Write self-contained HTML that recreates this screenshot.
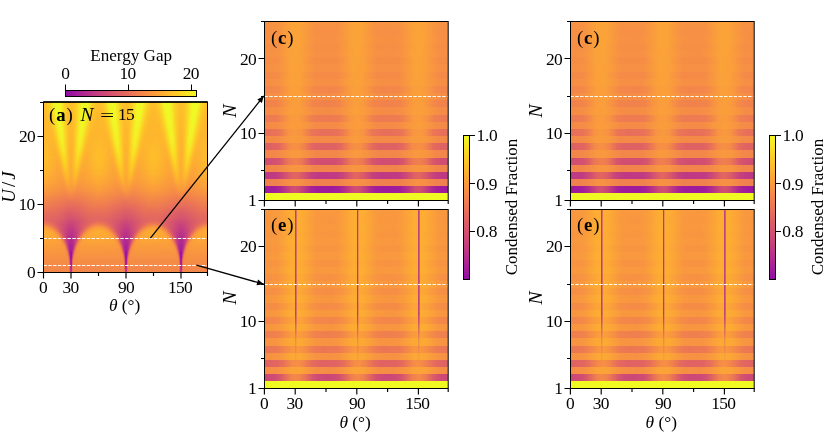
<!DOCTYPE html>
<html><head><meta charset="utf-8"><style>
html,body{margin:0;padding:0;background:#fff;}
#root{position:relative;width:830px;height:437px;overflow:hidden;background:#fff;}
.hm{position:absolute;overflow:hidden;}
.hm i{position:absolute;left:0;right:0;display:block;}
.ov{position:absolute;left:0;top:0;}
.t{position:absolute;font-family:"Liberation Serif","DejaVu Serif",serif;color:#000;white-space:nowrap;line-height:1;}
.t i{font-style:italic;}
.t.ns{-webkit-text-stroke:0;}
.rot{transform:translate(-50%,-50%) rotate(-90deg);}
</style></head><body><div id="root">
<div class="hm" style="left:44px;top:102px;width:163px;height:170px"><i style="top:0px;height:1px;background:linear-gradient(90deg,#fdc229 0px,#fdca26 3.5px,#f7e425 7.5px,#f1f426 9.5px,#f0f921 10.5px,#f0f921 15.5px,#f2f227 16.5px,#fbd324 20.5px,#fdc527 23.5px,#fec029 26.5px,#fdc229 29.5px,#fdc827 31.5px,#f7e225 35.5px,#f2f227 37.5px,#f0f921 38.5px,#f0f921 43.5px,#f1f426 44.5px,#fbd524 48.5px,#fdc627 51.5px,#fdc229 54.5px,#fdc627 57.5px,#fbd524 60.5px,#f1f426 64.5px,#f0f921 65.5px,#f0f921 70.5px,#f2f227 71.5px,#fbd324 75.5px,#fdc527 78.5px,#fec029 81.5px,#fdc229 84.5px,#fdc827 86.5px,#f7e225 90.5px,#f2f227 92.5px,#f0f921 93.5px,#f0f921 98.5px,#f1f426 99.5px,#fbd524 103.5px,#fdc627 106.5px,#fdc229 109.5px,#fdc627 112.5px,#fbd524 115.5px,#f1f426 119.5px,#f0f921 120.5px,#f0f921 125.5px,#f2f227 126.5px,#fbd324 130.5px,#fdc527 133.5px,#fec029 136.5px,#fdc229 139.5px,#fdc827 141.5px,#f7e225 145.5px,#f2f227 147.5px,#f0f921 148.5px,#f0f921 153.5px,#f1f426 154.5px,#fbd524 158.5px,#fdc627 161.5px,#fdc328 163px)"></i><i style="top:1px;height:1px;background:linear-gradient(90deg,#fdc229 0px,#fdc527 2.5px,#fbd324 5.5px,#f1f426 9.5px,#f0f921 10.5px,#f0f921 15.5px,#f1f426 16.5px,#fbd324 20.5px,#fdc527 23.5px,#fec029 26.5px,#fdc229 29.5px,#fdc827 31.5px,#f7e225 35.5px,#f1f426 37.5px,#f0f921 38.5px,#f0f921 43.5px,#f1f426 44.5px,#fbd324 48.5px,#fdc527 51.5px,#fec029 54.5px,#fdc527 57.5px,#fbd324 60.5px,#f1f426 64.5px,#f0f921 65.5px,#f0f921 70.5px,#f1f426 71.5px,#fbd324 75.5px,#fdc527 78.5px,#fec029 81.5px,#fdc229 84.5px,#fdc827 86.5px,#f7e225 90.5px,#f1f426 92.5px,#f0f921 93.5px,#f0f921 98.5px,#f1f426 99.5px,#fcce25 104.5px,#fdc527 106.5px,#fec029 109.5px,#fdc527 112.5px,#fbd324 115.5px,#f1f426 119.5px,#f0f921 120.5px,#f0f921 125.5px,#f1f426 126.5px,#fbd324 130.5px,#fdc527 133.5px,#fec029 136.5px,#fdc229 139.5px,#fdc827 141.5px,#f7e225 145.5px,#f1f426 147.5px,#f0f921 148.5px,#f0f921 153.5px,#f1f426 154.5px,#fcce25 159.5px,#fdc527 161.5px,#fdc328 163px)"></i><i style="top:2px;height:1px;background:linear-gradient(90deg,#fec029 0px,#fccd25 4.5px,#f8e125 7.5px,#f2f227 9.5px,#f0f921 11.5px,#f0f921 15.5px,#f1f426 16.5px,#fbd324 20.5px,#fdc527 23.5px,#febe2a 27.5px,#fdc827 31.5px,#f9dc24 34.5px,#f1f426 37.5px,#f0f921 38.5px,#f0f724 43.5px,#f5e926 45.5px,#fcd225 48.5px,#fdc229 52.5px,#fdc229 56.5px,#fcd225 60.5px,#f2f227 64.5px,#f0f921 66.5px,#f0f921 70.5px,#f1f426 71.5px,#fbd324 75.5px,#fdc527 78.5px,#febe2a 82.5px,#fdc827 86.5px,#f9dc24 89.5px,#f1f426 92.5px,#f0f921 93.5px,#f0f724 98.5px,#f5e926 100.5px,#fcd225 103.5px,#fdc229 107.5px,#fdc229 111.5px,#fcd225 115.5px,#f2f227 119.5px,#f0f921 121.5px,#f0f921 125.5px,#f1f426 126.5px,#fbd324 130.5px,#fdc527 133.5px,#febe2a 137.5px,#fdc827 141.5px,#f9dc24 144.5px,#f1f426 147.5px,#f0f921 148.5px,#f0f724 153.5px,#f5e926 155.5px,#fcd225 158.5px,#fdc229 163px)"></i><i style="top:3px;height:1px;background:linear-gradient(90deg,#febe2a 0px,#fdcb26 4.5px,#f8df25 7.5px,#f3f027 9.5px,#f0f724 10.5px,#f0f921 15.5px,#f1f426 16.5px,#fbd324 20.5px,#fdc527 23.5px,#febe2a 27.5px,#fdc827 31.5px,#f9dc24 34.5px,#f1f426 37.5px,#f0f921 38.5px,#f0f724 43.5px,#f6e826 45.5px,#fcd025 48.5px,#fec029 52.5px,#fec029 56.5px,#fcd025 60.5px,#f3f027 64.5px,#f0f724 65.5px,#f0f921 70.5px,#f1f426 71.5px,#fbd324 75.5px,#fdc527 78.5px,#febe2a 82.5px,#fdc827 86.5px,#f9dc24 89.5px,#f1f426 92.5px,#f0f921 93.5px,#f0f724 98.5px,#f6e826 100.5px,#fcd025 103.5px,#fec029 107.5px,#fec029 111.5px,#fcd025 115.5px,#f3f027 119.5px,#f0f724 120.5px,#f0f921 125.5px,#f1f426 126.5px,#fbd324 130.5px,#fdc527 133.5px,#febe2a 137.5px,#fdc827 141.5px,#f9dc24 144.5px,#f1f426 147.5px,#f0f921 148.5px,#f0f724 153.5px,#f6e826 155.5px,#fcd025 158.5px,#fec029 163px)"></i><i style="top:4px;height:1px;background:linear-gradient(90deg,#febe2a 0px,#fdc527 3.5px,#fcce25 5.5px,#f1f525 10.5px,#f0f921 12.5px,#f0f921 15.5px,#f1f426 16.5px,#fcce25 21.5px,#fdc527 23.5px,#febe2a 25.5px,#febe2a 28.5px,#fdc827 31.5px,#f7e425 35.5px,#f1f426 37.5px,#f0f921 38.5px,#f0f921 42.5px,#f3ee27 44.5px,#fcce25 48.5px,#fdc229 51.5px,#febe2a 55.5px,#fdc527 58.5px,#fcce25 60.5px,#f1f525 65.5px,#f0f921 67.5px,#f0f921 70.5px,#f1f426 71.5px,#fcce25 76.5px,#fdc527 78.5px,#febe2a 80.5px,#febe2a 83.5px,#fccd25 87.5px,#f1f426 92.5px,#f0f921 93.5px,#f0f921 97.5px,#f3ee27 99.5px,#fcce25 103.5px,#fdc229 106.5px,#febe2a 110.5px,#fdc527 113.5px,#fcce25 115.5px,#f1f525 120.5px,#f0f921 122.5px,#f0f921 125.5px,#f1f426 126.5px,#fcce25 131.5px,#fdc527 133.5px,#febe2a 135.5px,#febe2a 138.5px,#fccd25 142.5px,#f1f426 147.5px,#f0f921 148.5px,#f0f921 152.5px,#f3ee27 154.5px,#fcce25 158.5px,#fdc229 161.5px,#fec029 163px)"></i><i style="top:5px;height:1px;background:linear-gradient(90deg,#febd2a 0px,#fdc328 3.5px,#fbd324 6.5px,#f1f426 10.5px,#f0f921 11.5px,#f0f921 15.5px,#f1f426 16.5px,#fcce25 21.5px,#fec029 24.5px,#fec029 29.5px,#fcce25 32.5px,#f1f426 37.5px,#f0f921 38.5px,#f0f921 42.5px,#f1f426 43.5px,#fccd25 48.5px,#fec029 51.5px,#febd2a 55.5px,#fdc328 58.5px,#fbd324 61.5px,#f1f426 65.5px,#f0f921 66.5px,#f0f921 70.5px,#f1f426 71.5px,#fcce25 76.5px,#fdc328 78.5px,#febe2a 81.5px,#fec029 84.5px,#fcce25 87.5px,#f1f426 92.5px,#f0f921 93.5px,#f0f921 97.5px,#f1f426 98.5px,#fccd25 103.5px,#fec029 106.5px,#febd2a 110.5px,#fdc328 113.5px,#fbd324 116.5px,#f1f426 120.5px,#f0f921 121.5px,#f0f921 125.5px,#f1f426 126.5px,#fcce25 131.5px,#fdc328 133.5px,#febe2a 136.5px,#fec029 139.5px,#fccd25 142.5px,#f1f426 147.5px,#f0f921 148.5px,#f0f921 152.5px,#f1f426 153.5px,#fccd25 158.5px,#fec029 161.5px,#febe2a 163px)"></i><i style="top:6px;height:1px;background:linear-gradient(90deg,#febd2a 0px,#fdc627 4.5px,#fada24 7.5px,#f2f227 10.5px,#f0f921 11.5px,#f0f921 15.5px,#f1f426 16.5px,#fcce25 21.5px,#fec029 24.5px,#febd2a 27.5px,#fdc328 30.5px,#f9dc24 34.5px,#f1f426 37.5px,#f0f921 38.5px,#f0f921 42.5px,#f2f227 43.5px,#fdcb26 48.5px,#febe2a 52.5px,#febe2a 56.5px,#fdcb26 60.5px,#f2f227 65.5px,#f0f921 66.5px,#f0f921 70.5px,#f1f426 71.5px,#fcce25 76.5px,#fec029 79.5px,#febd2a 82.5px,#fdc328 85.5px,#f9dc24 89.5px,#f1f426 92.5px,#f0f921 93.5px,#f0f921 97.5px,#f2f227 98.5px,#fdcb26 103.5px,#febe2a 107.5px,#febe2a 111.5px,#fdcb26 115.5px,#f2f227 120.5px,#f0f921 122.5px,#f0f921 125.5px,#f1f426 126.5px,#fcce25 131.5px,#fec029 134.5px,#febd2a 137.5px,#fdc328 140.5px,#f9dc24 144.5px,#f1f426 147.5px,#f0f921 148.5px,#f0f921 152.5px,#f2f227 153.5px,#fdcb26 158.5px,#febe2a 163px)"></i><i style="top:7px;height:1px;background:linear-gradient(90deg,#febb2b 0px,#fdc527 4.5px,#fad824 7.5px,#f3f027 10.5px,#f0f724 11.5px,#f0f921 15.5px,#f1f525 16.5px,#fcce25 21.5px,#fec029 24.5px,#febd2a 27.5px,#fdc328 30.5px,#f9dd25 34.5px,#f1f525 37.5px,#f0f921 39.5px,#f0f724 42.5px,#f5e926 44.5px,#fcd025 47.5px,#fdc229 50.5px,#febb2b 54.5px,#fdc229 58.5px,#fcd025 61.5px,#f3f027 65.5px,#f0f724 66.5px,#f0f921 70.5px,#f1f525 71.5px,#fcce25 76.5px,#fec029 79.5px,#febd2a 82.5px,#fdc328 85.5px,#f9dd25 89.5px,#f1f525 92.5px,#f0f921 94.5px,#f0f724 97.5px,#f5e926 99.5px,#fcd025 102.5px,#fdc229 105.5px,#febb2b 109.5px,#fdc229 113.5px,#fcd025 116.5px,#f3f027 120.5px,#f0f724 121.5px,#f0f921 125.5px,#f1f525 126.5px,#fcce25 131.5px,#fec029 134.5px,#febd2a 137.5px,#fdc328 140.5px,#f9dd25 144.5px,#f1f525 147.5px,#f0f921 149.5px,#f0f724 152.5px,#f5e926 154.5px,#fcd025 157.5px,#fdc229 160.5px,#febd2a 163px)"></i><i style="top:8px;height:1px;background:linear-gradient(90deg,#febb2b 0px,#fec029 3.5px,#fcce25 6.5px,#f1f525 11.5px,#f0f921 13.5px,#f0f921 15.5px,#f3ee27 17.5px,#fcce25 21.5px,#fec029 24.5px,#febd2a 27.5px,#fdc328 30.5px,#f9dd25 34.5px,#f1f525 37.5px,#f0f921 39.5px,#f0f921 41.5px,#f3ee27 43.5px,#fcce25 47.5px,#fec029 50.5px,#febb2b 55.5px,#fec029 58.5px,#fcce25 61.5px,#f1f525 66.5px,#f0f921 68.5px,#f0f921 70.5px,#f3ee27 72.5px,#fcce25 76.5px,#fec029 79.5px,#febd2a 82.5px,#fdc328 85.5px,#f9dd25 89.5px,#f1f525 92.5px,#f0f921 94.5px,#f0f921 96.5px,#f3ee27 98.5px,#fcce25 102.5px,#fec029 105.5px,#febb2b 110.5px,#fec029 113.5px,#fcce25 116.5px,#f1f525 121.5px,#f0f921 123.5px,#f0f921 125.5px,#f3ee27 127.5px,#fcce25 131.5px,#fec029 134.5px,#febd2a 137.5px,#fdc328 140.5px,#f9dd25 144.5px,#f1f525 147.5px,#f0f921 149.5px,#f0f921 151.5px,#f3ee27 153.5px,#fcce25 157.5px,#fec029 160.5px,#febd2a 163px)"></i><i style="top:9px;height:1px;background:linear-gradient(90deg,#febb2b 0px,#fec029 3.5px,#fccd25 6.5px,#f1f525 11.5px,#f0f921 13.5px,#f0f921 15.5px,#f3ee27 17.5px,#fcce25 21.5px,#fec029 24.5px,#febd2a 26.5px,#febd2a 28.5px,#fdc827 31.5px,#f6e626 35.5px,#f1f525 37.5px,#f0f921 39.5px,#f0f921 41.5px,#f1f525 42.5px,#fccd25 47.5px,#febd2a 51.5px,#febb2b 55.5px,#fec029 58.5px,#fccd25 61.5px,#f1f426 66.5px,#f0f921 67.5px,#f0f921 70.5px,#f3ee27 72.5px,#fcce25 76.5px,#fec029 79.5px,#febd2a 81.5px,#febd2a 83.5px,#fdc827 86.5px,#f6e626 90.5px,#f1f525 92.5px,#f0f921 94.5px,#f0f921 96.5px,#f1f525 97.5px,#fccd25 102.5px,#febd2a 106.5px,#febb2b 110.5px,#fec029 113.5px,#fccd25 116.5px,#f1f426 121.5px,#f0f921 122.5px,#f0f921 125.5px,#f3ee27 127.5px,#fcce25 131.5px,#fec029 134.5px,#febd2a 136.5px,#febd2a 138.5px,#fdc827 141.5px,#f6e626 145.5px,#f1f525 147.5px,#f0f921 149.5px,#f0f921 151.5px,#f1f525 152.5px,#fccd25 157.5px,#febd2a 161.5px,#febb2b 163px)"></i><i style="top:10px;height:1px;background:linear-gradient(90deg,#feba2c 0px,#fdc229 4.5px,#fdcb26 6.5px,#f1f426 11.5px,#f0f921 12.5px,#f0f921 15.5px,#f3ee27 17.5px,#fcce25 21.5px,#fec029 24.5px,#febd2a 26.5px,#febd2a 28.5px,#fdc827 31.5px,#f6e626 35.5px,#f1f525 37.5px,#f0f921 39.5px,#f0f921 41.5px,#f1f426 42.5px,#fdcb26 47.5px,#febe2a 50.5px,#feba2c 55.5px,#fdc229 59.5px,#fdcb26 61.5px,#f1f426 66.5px,#f0f921 67.5px,#f0f921 70.5px,#f3ee27 72.5px,#fcce25 76.5px,#fec029 79.5px,#febd2a 81.5px,#febd2a 83.5px,#fdc827 86.5px,#f6e626 90.5px,#f1f525 92.5px,#f0f921 94.5px,#f0f921 96.5px,#f1f426 97.5px,#fdcb26 102.5px,#febe2a 105.5px,#feba2c 110.5px,#fdc229 114.5px,#fdcb26 116.5px,#f1f426 121.5px,#f0f921 122.5px,#f0f921 125.5px,#f3ee27 127.5px,#fcce25 131.5px,#fec029 134.5px,#febd2a 136.5px,#febd2a 138.5px,#fdc827 141.5px,#f6e626 145.5px,#f1f525 147.5px,#f0f921 149.5px,#f0f921 151.5px,#f1f426 152.5px,#fdcb26 157.5px,#febe2a 160.5px,#febb2b 163px)"></i><i style="top:11px;height:1px;background:linear-gradient(90deg,#feba2c 0px,#fec029 4.5px,#fcd025 7.5px,#f2f227 11.5px,#f0f921 13.5px,#f0f921 15.5px,#f3ee27 17.5px,#fcce25 21.5px,#fec029 24.5px,#febb2b 27.5px,#fdc827 31.5px,#f9dd25 34.5px,#f3ee27 36.5px,#f0f921 38.5px,#f0f724 41.5px,#f5e926 43.5px,#fdca26 47.5px,#febd2a 50.5px,#feba2c 55.5px,#fec029 59.5px,#fcd025 62.5px,#f2f227 66.5px,#f0f921 68.5px,#f0f921 70.5px,#f3ee27 72.5px,#fcce25 76.5px,#fec029 79.5px,#febb2b 82.5px,#fdc827 86.5px,#f9dd25 89.5px,#f3ee27 91.5px,#f0f921 93.5px,#f0f724 96.5px,#f5e926 98.5px,#fdca26 102.5px,#febd2a 105.5px,#feba2c 110.5px,#fec029 114.5px,#fcd025 117.5px,#f2f227 121.5px,#f0f921 123.5px,#f0f921 125.5px,#f3ee27 127.5px,#fcce25 131.5px,#fec029 134.5px,#febb2b 137.5px,#fdc827 141.5px,#f9dd25 144.5px,#f3ee27 146.5px,#f0f921 148.5px,#f0f724 151.5px,#f5e926 153.5px,#fdca26 157.5px,#febd2a 160.5px,#feba2c 163px)"></i><i style="top:12px;height:1px;background:linear-gradient(90deg,#feba2c 0px,#fec029 4.5px,#fcce25 7.5px,#f3f027 11.5px,#f0f724 12.5px,#f0f921 15.5px,#f3f027 17.5px,#fcce25 21.5px,#febe2a 24.5px,#febb2b 27.5px,#febe2a 29.5px,#fbd524 33.5px,#f3f027 36.5px,#f0f921 38.5px,#f0f724 41.5px,#f6e826 43.5px,#fcce25 46.5px,#fec029 49.5px,#feb82c 54.5px,#fec029 59.5px,#fcce25 62.5px,#f3f027 66.5px,#f0f724 67.5px,#f0f921 70.5px,#f3f027 72.5px,#fcce25 76.5px,#febe2a 79.5px,#febb2b 82.5px,#febe2a 84.5px,#fbd524 88.5px,#f3f027 91.5px,#f0f921 93.5px,#f0f724 96.5px,#f6e826 98.5px,#fcce25 101.5px,#fec029 104.5px,#feb82c 109.5px,#fec029 114.5px,#fcce25 117.5px,#f3f027 121.5px,#f0f724 122.5px,#f0f921 125.5px,#f3f027 127.5px,#fcce25 131.5px,#febe2a 134.5px,#febb2b 137.5px,#febe2a 139.5px,#fbd524 143.5px,#f3f027 146.5px,#f0f921 148.5px,#f0f724 151.5px,#f6e826 153.5px,#fcce25 156.5px,#fec029 159.5px,#feba2c 163px)"></i><i style="top:13px;height:1px;background:linear-gradient(90deg,#feb82c 0px,#febe2a 4.5px,#fccd25 7.5px,#f1f525 12.5px,#f0f921 14.5px,#f1f525 16.5px,#f6e826 18.5px,#fcce25 21.5px,#febe2a 24.5px,#febb2b 27.5px,#febe2a 29.5px,#fcce25 32.5px,#f3f027 36.5px,#f0f921 38.5px,#f0f921 40.5px,#f3ee27 42.5px,#fccd25 46.5px,#febe2a 49.5px,#feb82c 53.5px,#febb2b 58.5px,#fdc627 61.5px,#f9dd25 64.5px,#f1f525 67.5px,#f0f921 69.5px,#f1f525 71.5px,#f6e826 73.5px,#fcce25 76.5px,#febe2a 79.5px,#febb2b 82.5px,#febe2a 84.5px,#fcce25 87.5px,#f3f027 91.5px,#f0f921 93.5px,#f0f921 95.5px,#f3ee27 97.5px,#fccd25 101.5px,#febe2a 104.5px,#feb82c 108.5px,#febb2b 113.5px,#fdc627 116.5px,#f9dd25 119.5px,#f1f525 122.5px,#f0f921 124.5px,#f1f525 126.5px,#f6e826 128.5px,#fcce25 131.5px,#febe2a 134.5px,#febb2b 137.5px,#febe2a 139.5px,#fcce25 142.5px,#f3f027 146.5px,#f0f921 148.5px,#f0f921 150.5px,#f3ee27 152.5px,#fccd25 156.5px,#febe2a 159.5px,#feba2c 163px)"></i><i style="top:14px;height:1px;background:linear-gradient(90deg,#feb82c 0px,#febd2a 4.5px,#fdcb26 7.5px,#f1f426 12.5px,#f0f921 13.5px,#f0f724 16.5px,#f6e826 18.5px,#fcce25 21.5px,#febe2a 24.5px,#febb2b 27.5px,#febe2a 29.5px,#fcce25 32.5px,#f3f027 36.5px,#f0f724 37.5px,#f0f921 40.5px,#f1f426 41.5px,#fdcb26 46.5px,#febd2a 49.5px,#feb82c 54.5px,#febd2a 59.5px,#fdcb26 62.5px,#f1f426 67.5px,#f0f921 68.5px,#f0f724 71.5px,#f6e826 73.5px,#fcce25 76.5px,#febe2a 79.5px,#febb2b 82.5px,#febe2a 84.5px,#fcce25 87.5px,#f3f027 91.5px,#f0f724 92.5px,#f0f921 95.5px,#f1f426 96.5px,#fdcb26 101.5px,#febd2a 104.5px,#feb82c 109.5px,#febd2a 114.5px,#fdcb26 117.5px,#f1f426 122.5px,#f0f921 123.5px,#f0f724 126.5px,#f6e826 128.5px,#fcce25 131.5px,#febe2a 134.5px,#febb2b 137.5px,#febe2a 139.5px,#fcce25 142.5px,#f3f027 146.5px,#f0f724 147.5px,#f0f921 150.5px,#f1f426 151.5px,#fdcb26 156.5px,#febd2a 159.5px,#feb82c 163px)"></i><i style="top:15px;height:1px;background:linear-gradient(90deg,#feb82c 0px,#febd2a 4.5px,#fdca26 7.5px,#f7e225 10.5px,#f2f227 12.5px,#f0f921 14.5px,#f0f724 16.5px,#f5e926 18.5px,#fcce25 21.5px,#fdc229 23.5px,#febb2b 25.5px,#febb2b 28.5px,#fdc229 30.5px,#f8df25 34.5px,#f3f027 36.5px,#f0f724 37.5px,#f0f921 39.5px,#f2f227 41.5px,#fcd225 45.5px,#fdc527 47.5px,#feba2c 50.5px,#feba2c 58.5px,#fdca26 62.5px,#f7e225 65.5px,#f2f227 67.5px,#f0f921 69.5px,#f0f724 71.5px,#f5e926 73.5px,#fcce25 76.5px,#fdc229 78.5px,#febb2b 80.5px,#febb2b 83.5px,#fdc229 85.5px,#f8df25 89.5px,#f3f027 91.5px,#f0f724 92.5px,#f0f921 94.5px,#f2f227 96.5px,#fcd225 100.5px,#fdc527 102.5px,#feba2c 105.5px,#feba2c 113.5px,#fdca26 117.5px,#f7e225 120.5px,#f2f227 122.5px,#f0f921 124.5px,#f0f724 126.5px,#f5e926 128.5px,#fcce25 131.5px,#fdc229 133.5px,#febb2b 135.5px,#febb2b 138.5px,#fdc229 140.5px,#f8df25 144.5px,#f3f027 146.5px,#f0f724 147.5px,#f0f921 149.5px,#f2f227 151.5px,#fcd225 155.5px,#fdc527 157.5px,#feba2c 160.5px,#feb82c 163px)"></i><i style="top:16px;height:1px;background:linear-gradient(90deg,#feb82c 0px,#febb2b 4.5px,#fdc827 7.5px,#f8e125 10.5px,#f2f227 12.5px,#f0f921 14.5px,#f0f724 16.5px,#f5e926 18.5px,#fcce25 21.5px,#fdc229 23.5px,#feba2c 26.5px,#febe2a 29.5px,#fdc827 31.5px,#f8e125 34.5px,#f3f027 36.5px,#f0f724 37.5px,#f0f921 39.5px,#f2f227 41.5px,#fcd025 45.5px,#fdc328 47.5px,#feba2c 50.5px,#feb82c 55.5px,#febb2b 59.5px,#fdc827 62.5px,#f8e125 65.5px,#f2f227 67.5px,#f0f921 69.5px,#f0f724 71.5px,#f5e926 73.5px,#fcce25 76.5px,#fdc229 78.5px,#feba2c 81.5px,#febe2a 84.5px,#fdc827 86.5px,#f8e125 89.5px,#f3f027 91.5px,#f0f724 92.5px,#f0f921 94.5px,#f2f227 96.5px,#fcd025 100.5px,#fdc328 102.5px,#feba2c 105.5px,#feb82c 110.5px,#febb2b 114.5px,#fdc827 117.5px,#f8e125 120.5px,#f2f227 122.5px,#f0f921 124.5px,#f0f724 126.5px,#f5e926 128.5px,#fcce25 131.5px,#fdc229 133.5px,#feba2c 136.5px,#febe2a 139.5px,#fdc827 141.5px,#f8e125 144.5px,#f3f027 146.5px,#f0f724 147.5px,#f0f921 149.5px,#f2f227 151.5px,#fcd025 155.5px,#fdc328 157.5px,#feba2c 160.5px,#feb82c 163px)"></i><i style="top:17px;height:1px;background:linear-gradient(90deg,#feb72d 0px,#febe2a 5.5px,#fdc627 7.5px,#f8df25 10.5px,#f3f027 12.5px,#f0f921 14.5px,#f0f724 16.5px,#f5e926 18.5px,#fcce25 21.5px,#fdc229 23.5px,#feba2c 26.5px,#febe2a 29.5px,#fdc827 31.5px,#f8e125 34.5px,#f2f227 36.5px,#f0f921 38.5px,#f1f525 40.5px,#f6e826 42.5px,#fcce25 45.5px,#fdc229 47.5px,#feb82c 51.5px,#feb82c 57.5px,#fdc229 61.5px,#fbd524 64.5px,#f3f027 67.5px,#f0f921 69.5px,#f0f724 71.5px,#f5e926 73.5px,#fcce25 76.5px,#fdc229 78.5px,#feba2c 81.5px,#febe2a 84.5px,#fdc827 86.5px,#f8e125 89.5px,#f2f227 91.5px,#f0f921 93.5px,#f1f525 95.5px,#f6e826 97.5px,#fcce25 100.5px,#fdc229 102.5px,#feb82c 106.5px,#feb82c 112.5px,#fdc229 116.5px,#fbd524 119.5px,#f3f027 122.5px,#f0f921 124.5px,#f0f724 126.5px,#f5e926 128.5px,#fcce25 131.5px,#fdc229 133.5px,#feba2c 136.5px,#febe2a 139.5px,#fdc827 141.5px,#f8e125 144.5px,#f2f227 146.5px,#f0f921 148.5px,#f1f525 150.5px,#f6e826 152.5px,#fcce25 155.5px,#fdc229 157.5px,#feb82c 161.5px,#feb82c 163px)"></i><i style="top:18px;height:1px;background:linear-gradient(90deg,#feb72d 0px,#feba2c 4.5px,#fdc527 7.5px,#f9dd25 10.5px,#f1f525 13.5px,#f0f921 15.5px,#f2f227 17.5px,#fcce25 21.5px,#fdc229 23.5px,#feba2c 26.5px,#febe2a 29.5px,#fdc827 31.5px,#f8e125 34.5px,#f2f227 36.5px,#f0f921 38.5px,#f1f525 40.5px,#fdcb26 45.5px,#febd2a 48.5px,#feb72d 52.5px,#feba2c 59.5px,#fdc527 62.5px,#f9dc24 65.5px,#f1f525 68.5px,#f0f921 70.5px,#f2f227 72.5px,#fcce25 76.5px,#fdc229 78.5px,#feba2c 81.5px,#febe2a 84.5px,#fdc827 86.5px,#f8e125 89.5px,#f2f227 91.5px,#f0f921 93.5px,#f1f525 95.5px,#fdcb26 100.5px,#febd2a 103.5px,#feb72d 107.5px,#feba2c 114.5px,#fdc527 117.5px,#f9dc24 120.5px,#f1f525 123.5px,#f0f921 125.5px,#f2f227 127.5px,#fcce25 131.5px,#fdc229 133.5px,#feba2c 136.5px,#febe2a 139.5px,#fdc827 141.5px,#f8e125 144.5px,#f2f227 146.5px,#f0f921 148.5px,#f1f525 150.5px,#fccd25 155.5px,#fec029 157.5px,#feb82c 160.5px,#feb72d 163px)"></i><i style="top:19px;height:1px;background:linear-gradient(90deg,#feb72d 0px,#febb2b 5.5px,#fdca26 8.5px,#f7e425 11.5px,#f1f426 13.5px,#f0f921 15.5px,#f2f227 17.5px,#fcd025 21.5px,#febd2a 24.5px,#feba2c 27.5px,#febd2a 29.5px,#fcd025 32.5px,#f2f227 36.5px,#f0f921 38.5px,#f1f426 40.5px,#fdca26 45.5px,#febb2b 48.5px,#feb72d 53.5px,#feb82c 58.5px,#febb2b 60.5px,#fdca26 63.5px,#f7e425 66.5px,#f1f426 68.5px,#f0f921 70.5px,#f2f227 72.5px,#fcd025 76.5px,#febd2a 79.5px,#feba2c 82.5px,#febd2a 84.5px,#fcd025 87.5px,#f2f227 91.5px,#f0f921 93.5px,#f1f426 95.5px,#fdca26 100.5px,#febb2b 103.5px,#feb72d 108.5px,#feb82c 113.5px,#febb2b 115.5px,#fdca26 118.5px,#f7e425 121.5px,#f1f426 123.5px,#f0f921 125.5px,#f2f227 127.5px,#fcd025 131.5px,#febd2a 134.5px,#feba2c 137.5px,#febd2a 139.5px,#fcd025 142.5px,#f2f227 146.5px,#f0f921 148.5px,#f1f426 150.5px,#fdca26 155.5px,#febb2b 158.5px,#feb72d 163px)"></i><i style="top:20px;height:1px;background:linear-gradient(90deg,#feb72d 0px,#febb2b 5.5px,#fdc827 8.5px,#f7e225 11.5px,#f2f227 13.5px,#f0f921 15.5px,#f2f227 17.5px,#fcd025 21.5px,#febd2a 24.5px,#feba2c 26.5px,#feba2c 28.5px,#fdc827 31.5px,#f7e225 34.5px,#f2f227 36.5px,#f0f921 38.5px,#f2f227 40.5px,#fcd025 44.5px,#fdc328 46.5px,#feba2c 49.5px,#feb72d 54.5px,#feba2c 59.5px,#fdc328 62.5px,#fcd025 64.5px,#f2f227 68.5px,#f0f921 70.5px,#f2f227 72.5px,#fcd025 76.5px,#febd2a 79.5px,#feba2c 81.5px,#feba2c 83.5px,#fdc827 86.5px,#f7e225 89.5px,#f2f227 91.5px,#f0f921 93.5px,#f2f227 95.5px,#fcd025 99.5px,#fdc328 101.5px,#feba2c 104.5px,#feb72d 109.5px,#feba2c 114.5px,#fdc328 117.5px,#fcd025 119.5px,#f2f227 123.5px,#f0f921 125.5px,#f2f227 127.5px,#fcd025 131.5px,#febd2a 134.5px,#feba2c 136.5px,#feba2c 138.5px,#fdc827 141.5px,#f7e225 144.5px,#f2f227 146.5px,#f0f921 148.5px,#f2f227 150.5px,#fcd025 154.5px,#fdc328 156.5px,#feba2c 159.5px,#feb72d 163px)"></i><i style="top:21px;height:1px;background:linear-gradient(90deg,#feb72d 0px,#feba2c 5.5px,#fdc627 8.5px,#f8df25 11.5px,#f3f027 13.5px,#f0f921 15.5px,#f2f227 17.5px,#fcd025 21.5px,#febd2a 24.5px,#feb82c 27.5px,#fdc229 30.5px,#fad824 33.5px,#f2f227 36.5px,#f0f921 38.5px,#f3f027 40.5px,#fcce25 44.5px,#fdc229 46.5px,#feb82c 49.5px,#feb82c 59.5px,#fdc229 62.5px,#fcce25 64.5px,#f3f027 68.5px,#f0f921 70.5px,#f2f227 72.5px,#fcd025 76.5px,#febd2a 79.5px,#feb82c 82.5px,#fdc229 85.5px,#fad824 88.5px,#f2f227 91.5px,#f0f921 93.5px,#f3f027 95.5px,#fcce25 99.5px,#fdc229 101.5px,#feb82c 104.5px,#feb82c 114.5px,#fdc229 117.5px,#fcce25 119.5px,#f3f027 123.5px,#f0f921 125.5px,#f2f227 127.5px,#fcd025 131.5px,#febd2a 134.5px,#feb82c 137.5px,#fdc229 140.5px,#fad824 143.5px,#f2f227 146.5px,#f0f921 148.5px,#f3f027 150.5px,#fcce25 154.5px,#fdc229 156.5px,#feb82c 159.5px,#feb72d 163px)"></i><i style="top:22px;height:1px;background:linear-gradient(90deg,#feb72d 0px,#feba2c 5.5px,#fdc527 8.5px,#f9dd25 11.5px,#f3ee27 13.5px,#f1f525 14.5px,#f0f724 16.5px,#f5eb27 18.5px,#fcd025 21.5px,#febd2a 24.5px,#feb82c 27.5px,#fdc229 30.5px,#fada24 33.5px,#f2f227 36.5px,#f0f724 37.5px,#f1f525 39.5px,#f6e826 41.5px,#fccd25 44.5px,#fec029 46.5px,#feb72d 50.5px,#feb82c 59.5px,#fdc527 63.5px,#f9dd25 66.5px,#f3ee27 68.5px,#f1f525 69.5px,#f0f724 71.5px,#f1f426 72.5px,#fcd025 76.5px,#febd2a 79.5px,#feb82c 82.5px,#fdc229 85.5px,#fada24 88.5px,#f2f227 91.5px,#f0f724 92.5px,#f1f525 94.5px,#f6e826 96.5px,#fccd25 99.5px,#fec029 101.5px,#feb72d 105.5px,#feb82c 114.5px,#fdc527 118.5px,#f9dd25 121.5px,#f3ee27 123.5px,#f1f525 124.5px,#f0f724 126.5px,#f1f426 127.5px,#fcd025 131.5px,#febd2a 134.5px,#feb82c 137.5px,#fdc229 140.5px,#fada24 143.5px,#f2f227 146.5px,#f0f724 147.5px,#f1f525 149.5px,#f6e826 151.5px,#fccd25 154.5px,#fec029 156.5px,#feb72d 160.5px,#feb72d 163px)"></i><i style="top:23px;height:1px;background:linear-gradient(90deg,#feb72d 0px,#feba2c 5.5px,#febe2a 7.5px,#f9dc24 11.5px,#f4ed27 13.5px,#f0f724 15.5px,#f1f426 17.5px,#fada24 20.5px,#fdc229 23.5px,#feb82c 26.5px,#febd2a 29.5px,#fcd025 32.5px,#f4ed27 35.5px,#f0f724 37.5px,#f1f426 39.5px,#f6e626 41.5px,#fdcb26 44.5px,#febe2a 46.5px,#feb72d 51.5px,#feb82c 59.5px,#febe2a 62.5px,#f9dc24 66.5px,#f4ed27 68.5px,#f0f724 70.5px,#f1f426 72.5px,#fada24 75.5px,#fdc229 78.5px,#feb82c 81.5px,#febd2a 84.5px,#fcd025 87.5px,#f4ed27 90.5px,#f0f724 92.5px,#f1f426 94.5px,#f6e626 96.5px,#fdcb26 99.5px,#febe2a 101.5px,#feb72d 106.5px,#feb82c 114.5px,#febe2a 117.5px,#f9dc24 121.5px,#f4ed27 123.5px,#f0f724 125.5px,#f1f426 127.5px,#fada24 130.5px,#fdc229 133.5px,#feb82c 136.5px,#febd2a 139.5px,#fcd025 142.5px,#f4ed27 145.5px,#f0f724 147.5px,#f1f426 149.5px,#f6e626 151.5px,#fdcb26 154.5px,#febe2a 156.5px,#feb72d 161.5px,#feb72d 163px)"></i><i style="top:24px;height:1px;background:linear-gradient(90deg,#feb72d 0px,#feb82c 5.5px,#fdc328 8.5px,#fcd025 10.5px,#f4ed27 13.5px,#f0f724 15.5px,#f1f426 17.5px,#fada24 20.5px,#fdc229 23.5px,#feb82c 26.5px,#febd2a 29.5px,#fcd025 32.5px,#f4ed27 35.5px,#f0f724 37.5px,#f0f724 38.5px,#f4ed27 40.5px,#fcd025 43.5px,#febe2a 46.5px,#feb72d 49.5px,#feb82c 60.5px,#fdc328 63.5px,#fcd025 65.5px,#f4ed27 68.5px,#f0f724 70.5px,#f1f426 72.5px,#fcd225 76.5px,#fdc229 78.5px,#feb82c 81.5px,#febd2a 84.5px,#fcd025 87.5px,#f4ed27 90.5px,#f0f724 92.5px,#f0f724 93.5px,#f4ed27 95.5px,#fcd025 98.5px,#febe2a 101.5px,#feb72d 104.5px,#feb82c 115.5px,#febe2a 117.5px,#fcd025 120.5px,#f4ed27 123.5px,#f0f724 125.5px,#f1f426 127.5px,#fcd225 131.5px,#fdc229 133.5px,#feb82c 136.5px,#febd2a 139.5px,#fcd025 142.5px,#f4ed27 145.5px,#f0f724 147.5px,#f0f724 148.5px,#f4ed27 150.5px,#fcd025 153.5px,#febe2a 156.5px,#feb72d 159.5px,#feb72d 163px)"></i><i style="top:25px;height:1px;background:linear-gradient(90deg,#feb72d 0px,#feb82c 5.5px,#fdc229 8.5px,#fcce25 10.5px,#f2f227 14.5px,#f0f724 16.5px,#f4ed27 18.5px,#fcd225 21.5px,#fdc229 23.5px,#feb82c 26.5px,#febd2a 29.5px,#fdc827 31.5px,#f7e425 34.5px,#f1f426 36.5px,#f0f724 37.5px,#f2f227 39.5px,#fcce25 43.5px,#febd2a 46.5px,#feb72d 50.5px,#feb82c 60.5px,#fdc229 63.5px,#fcce25 65.5px,#f2f227 69.5px,#f0f724 71.5px,#f4ed27 73.5px,#fcd225 76.5px,#fdc229 78.5px,#feb82c 81.5px,#febd2a 84.5px,#fdc827 86.5px,#f7e425 89.5px,#f1f426 91.5px,#f0f724 92.5px,#f2f227 94.5px,#fcce25 98.5px,#febd2a 101.5px,#feb72d 105.5px,#feb82c 115.5px,#fdc229 118.5px,#fcce25 120.5px,#f2f227 124.5px,#f0f724 126.5px,#f4ed27 128.5px,#fcd225 131.5px,#fdc229 133.5px,#feb82c 136.5px,#febd2a 139.5px,#fdc827 141.5px,#f7e425 144.5px,#f1f426 146.5px,#f0f724 147.5px,#f2f227 149.5px,#fcce25 153.5px,#febd2a 156.5px,#feb72d 160.5px,#feb72d 163px)"></i><i style="top:26px;height:1px;background:linear-gradient(90deg,#feb72d 0px,#feb82c 5.5px,#febb2b 7.5px,#fccd25 10.5px,#f3f027 14.5px,#f1f525 15.5px,#f1f426 17.5px,#fdca26 22.5px,#febd2a 24.5px,#feb72d 26.5px,#feba2c 28.5px,#fdc229 30.5px,#f9dc24 33.5px,#f1f426 36.5px,#f1f525 38.5px,#f5e926 40.5px,#fccd25 43.5px,#febb2b 46.5px,#feb72d 51.5px,#feb82c 60.5px,#febb2b 62.5px,#fbd524 66.5px,#f5e926 68.5px,#f1f525 70.5px,#f1f426 72.5px,#f6e626 74.5px,#fdca26 77.5px,#febd2a 79.5px,#feb72d 81.5px,#feba2c 83.5px,#fdc229 85.5px,#f9dc24 88.5px,#f1f426 91.5px,#f1f525 93.5px,#f5e926 95.5px,#fccd25 98.5px,#febb2b 101.5px,#feb72d 106.5px,#feb82c 115.5px,#febb2b 117.5px,#fbd524 121.5px,#f5e926 123.5px,#f1f525 125.5px,#f1f426 127.5px,#f6e626 129.5px,#fdca26 132.5px,#febd2a 134.5px,#feb72d 136.5px,#feba2c 138.5px,#fdc229 140.5px,#f9dc24 143.5px,#f1f426 146.5px,#f1f525 148.5px,#f5e926 150.5px,#fccd25 153.5px,#febb2b 156.5px,#feb72d 161.5px,#feb72d 163px)"></i><i style="top:27px;height:1px;background:linear-gradient(90deg,#feb72d 0px,#feb82c 6.5px,#febe2a 8.5px,#fbd324 11.5px,#f3ee27 14.5px,#f1f525 16.5px,#f3ee27 18.5px,#fcd225 21.5px,#fdc229 23.5px,#feb82c 25.5px,#feb82c 28.5px,#fdc229 30.5px,#f9dc24 33.5px,#f3ee27 35.5px,#f1f525 37.5px,#f3ee27 39.5px,#f9dd25 41.5px,#fdc527 44.5px,#febb2b 46.5px,#feb72d 49.5px,#feb82c 61.5px,#febe2a 63.5px,#fbd324 66.5px,#f3ee27 69.5px,#f1f525 71.5px,#f3ee27 73.5px,#fcd225 76.5px,#fdc229 78.5px,#feb82c 80.5px,#feb82c 83.5px,#fdc229 85.5px,#f9dc24 88.5px,#f3ee27 90.5px,#f1f525 92.5px,#f3ee27 94.5px,#f9dd25 96.5px,#fdc527 99.5px,#febb2b 101.5px,#feb72d 104.5px,#feb82c 116.5px,#febe2a 118.5px,#fbd324 121.5px,#f3ee27 124.5px,#f1f525 126.5px,#f3ee27 128.5px,#fcd225 131.5px,#fdc229 133.5px,#feb82c 135.5px,#feb82c 138.5px,#fdc229 140.5px,#f9dc24 143.5px,#f3ee27 145.5px,#f1f525 147.5px,#f3ee27 149.5px,#f9dd25 151.5px,#fdc527 154.5px,#febb2b 156.5px,#feb72d 159.5px,#feb72d 163px)"></i><i style="top:28px;height:1px;background:linear-gradient(90deg,#feb72d 0px,#feb82c 6.5px,#febd2a 8.5px,#fcd225 11.5px,#f1f426 15.5px,#f1f426 17.5px,#f6e626 19.5px,#fdca26 22.5px,#febd2a 24.5px,#feb72d 26.5px,#feb82c 28.5px,#fdc229 30.5px,#f9dc24 33.5px,#f3ee27 35.5px,#f1f525 37.5px,#f1f426 38.5px,#fdca26 43.5px,#febd2a 45.5px,#feb72d 49.5px,#feb82c 61.5px,#febd2a 63.5px,#fcd225 66.5px,#f1f426 70.5px,#f1f426 72.5px,#f6e626 74.5px,#fdca26 77.5px,#febd2a 79.5px,#feb72d 81.5px,#feb82c 83.5px,#fdc229 85.5px,#f9dc24 88.5px,#f3ee27 90.5px,#f1f525 92.5px,#f1f426 93.5px,#fdca26 98.5px,#febd2a 100.5px,#feb72d 104.5px,#feb82c 116.5px,#febd2a 118.5px,#fcd225 121.5px,#f1f426 125.5px,#f1f426 127.5px,#f6e626 129.5px,#fdca26 132.5px,#febd2a 134.5px,#feb72d 136.5px,#feb82c 138.5px,#fdc229 140.5px,#f9dc24 143.5px,#f3ee27 145.5px,#f1f525 147.5px,#f1f426 148.5px,#fdca26 153.5px,#febd2a 155.5px,#feb72d 159.5px,#feb72d 163px)"></i><i style="top:29px;height:1px;background:linear-gradient(90deg,#feb72d 0px,#feb72d 6.5px,#fdc229 9.5px,#fada24 12.5px,#f2f227 15.5px,#f1f525 16.5px,#f3ee27 18.5px,#fdca26 22.5px,#febd2a 24.5px,#feb72d 26.5px,#feb82c 28.5px,#fdc229 30.5px,#f9dd25 33.5px,#f3ee27 35.5px,#f1f525 37.5px,#f5eb27 39.5px,#fcd025 42.5px,#febd2a 45.5px,#feb72d 47.5px,#feb72d 61.5px,#fdc229 64.5px,#fada24 67.5px,#f2f227 70.5px,#f1f525 71.5px,#f3ee27 73.5px,#fdca26 77.5px,#febd2a 79.5px,#feb72d 81.5px,#feb82c 83.5px,#fdc229 85.5px,#f9dd25 88.5px,#f3ee27 90.5px,#f1f525 92.5px,#f5eb27 94.5px,#fcd025 97.5px,#febd2a 100.5px,#feb72d 102.5px,#feb72d 116.5px,#fdc229 119.5px,#fada24 122.5px,#f2f227 125.5px,#f1f525 126.5px,#f3ee27 128.5px,#fdca26 132.5px,#febd2a 134.5px,#feb72d 136.5px,#feb82c 138.5px,#fdc229 140.5px,#f9dd25 143.5px,#f3ee27 145.5px,#f1f525 147.5px,#f5eb27 149.5px,#fcd025 152.5px,#febd2a 155.5px,#feb72d 157.5px,#feb72d 163px)"></i><i style="top:30px;height:1px;background:linear-gradient(90deg,#feb72d 0px,#feb82c 7.5px,#fdc627 10.5px,#f8e125 13.5px,#f3f027 15.5px,#f1f426 17.5px,#f6e826 19.5px,#fdca26 22.5px,#febd2a 24.5px,#feb72d 26.5px,#feb82c 28.5px,#fdc229 30.5px,#f9dd25 33.5px,#f3ee27 35.5px,#f1f426 36.5px,#f3f027 38.5px,#fcce25 42.5px,#febb2b 45.5px,#feb72d 48.5px,#feb82c 62.5px,#fdc627 65.5px,#f8e125 68.5px,#f3f027 70.5px,#f1f426 72.5px,#f6e826 74.5px,#fdca26 77.5px,#febd2a 79.5px,#feb72d 81.5px,#feb82c 83.5px,#fdc229 85.5px,#f9dd25 88.5px,#f3ee27 90.5px,#f1f426 91.5px,#f3f027 93.5px,#fcce25 97.5px,#febb2b 100.5px,#feb72d 103.5px,#feb82c 117.5px,#fdc627 120.5px,#f8e125 123.5px,#f3f027 125.5px,#f1f426 127.5px,#f6e826 129.5px,#fdca26 132.5px,#febd2a 134.5px,#feb72d 136.5px,#feb82c 138.5px,#fdc229 140.5px,#f9dd25 143.5px,#f3ee27 145.5px,#f1f426 146.5px,#f3f027 148.5px,#fcce25 152.5px,#febb2b 155.5px,#feb72d 158.5px,#feb72d 163px)"></i><i style="top:31px;height:1px;background:linear-gradient(90deg,#feb72d 0px,#feb72d 6.5px,#feba2c 8.5px,#fdcb26 11.5px,#f3f027 15.5px,#f1f426 17.5px,#f6e826 19.5px,#fdca26 22.5px,#febb2b 24.5px,#feb72d 27.5px,#febb2b 29.5px,#fbd324 32.5px,#f6e826 34.5px,#f1f426 36.5px,#f3f027 38.5px,#fccd25 42.5px,#feba2c 45.5px,#fdb52e 49.5px,#feb72d 61.5px,#feba2c 63.5px,#fdcb26 66.5px,#f3f027 70.5px,#f1f426 72.5px,#f6e826 74.5px,#fdca26 77.5px,#febb2b 79.5px,#feb72d 82.5px,#febb2b 84.5px,#fbd324 87.5px,#f6e826 89.5px,#f1f426 91.5px,#f3f027 93.5px,#fccd25 97.5px,#feba2c 100.5px,#fdb52e 104.5px,#feb72d 116.5px,#feba2c 118.5px,#fdcb26 121.5px,#f3f027 125.5px,#f1f426 127.5px,#f6e826 129.5px,#fdca26 132.5px,#febd2a 134.5px,#feb72d 136.5px,#febb2b 139.5px,#fbd324 142.5px,#f6e826 144.5px,#f1f426 146.5px,#f3f027 148.5px,#fccd25 152.5px,#feba2c 155.5px,#fdb52e 159.5px,#feb72d 163px)"></i><i style="top:32px;height:1px;background:linear-gradient(90deg,#feb72d 0px,#feb72d 7.5px,#febd2a 9.5px,#fdca26 11.5px,#f3ee27 15.5px,#f1f426 17.5px,#f3f027 18.5px,#fdcb26 22.5px,#febb2b 24.5px,#fdb52e 26.5px,#feb82c 28.5px,#fdc229 30.5px,#f8df25 33.5px,#f3f027 35.5px,#f1f426 36.5px,#f3ee27 38.5px,#fdca26 42.5px,#febd2a 44.5px,#feb72d 46.5px,#feb72d 62.5px,#febd2a 64.5px,#fdca26 66.5px,#f3ee27 70.5px,#f1f426 72.5px,#f3f027 73.5px,#fdcb26 77.5px,#febb2b 79.5px,#fdb52e 81.5px,#feb82c 83.5px,#fdc229 85.5px,#f8df25 88.5px,#f3f027 90.5px,#f1f426 91.5px,#f3ee27 93.5px,#fdca26 97.5px,#febd2a 99.5px,#feb72d 101.5px,#feb72d 117.5px,#febd2a 119.5px,#fdca26 121.5px,#f3ee27 125.5px,#f1f426 127.5px,#f3f027 128.5px,#fdcb26 132.5px,#febb2b 134.5px,#fdb52e 136.5px,#feb82c 138.5px,#fdc229 140.5px,#f8df25 143.5px,#f3f027 145.5px,#f1f426 146.5px,#f3ee27 148.5px,#fdca26 152.5px,#febd2a 154.5px,#feb72d 156.5px,#feb72d 163px)"></i><i style="top:33px;height:1px;background:linear-gradient(90deg,#feb72d 0px,#feb72d 7.5px,#febd2a 9.5px,#fdc827 11.5px,#f7e425 14.5px,#f2f227 16.5px,#f1f426 17.5px,#f5e926 19.5px,#fdcb26 22.5px,#febb2b 24.5px,#fdb52e 26.5px,#feb82c 28.5px,#febb2b 29.5px,#fbd524 32.5px,#f5e926 34.5px,#f1f426 36.5px,#f4ed27 38.5px,#fcd225 41.5px,#fdc229 43.5px,#feb82c 45.5px,#feb72d 49.5px,#feb72d 62.5px,#febd2a 64.5px,#fdc827 66.5px,#f7e425 69.5px,#f2f227 71.5px,#f1f426 72.5px,#f5e926 74.5px,#fdcb26 77.5px,#febb2b 79.5px,#fdb52e 81.5px,#feb82c 83.5px,#febb2b 84.5px,#fbd524 87.5px,#f5e926 89.5px,#f1f426 91.5px,#f4ed27 93.5px,#fcd225 96.5px,#fdc229 98.5px,#feb82c 100.5px,#feb72d 104.5px,#feb72d 117.5px,#febd2a 119.5px,#fdc827 121.5px,#f7e425 124.5px,#f2f227 126.5px,#f1f426 127.5px,#f5e926 129.5px,#fdcb26 132.5px,#febb2b 134.5px,#fdb52e 136.5px,#feb82c 138.5px,#febb2b 139.5px,#fbd524 142.5px,#f5e926 144.5px,#f1f426 146.5px,#f4ed27 148.5px,#fcd225 151.5px,#fdc229 153.5px,#feb82c 155.5px,#feb72d 159.5px,#feb72d 163px)"></i><i style="top:34px;height:1px;background:linear-gradient(90deg,#feb72d 0px,#feb72d 7.5px,#fec029 10.5px,#fad824 13.5px,#f5eb27 15.5px,#f2f227 17.5px,#f3f027 18.5px,#f8df25 20.5px,#fdc328 23.5px,#febb2b 24.5px,#fdb52e 26.5px,#feb82c 28.5px,#febb2b 29.5px,#fbd524 32.5px,#f5e926 34.5px,#f3f027 35.5px,#f3f027 37.5px,#f7e225 39.5px,#fdc627 42.5px,#feb82c 45.5px,#fdb52e 48.5px,#feb72d 56.5px,#feb72d 62.5px,#fec029 65.5px,#fad824 68.5px,#f5eb27 70.5px,#f2f227 72.5px,#f3f027 73.5px,#f8df25 75.5px,#fdc328 78.5px,#febb2b 79.5px,#fdb52e 81.5px,#feb82c 83.5px,#febb2b 84.5px,#fbd524 87.5px,#f5e926 89.5px,#f3f027 90.5px,#f3f027 92.5px,#f7e225 94.5px,#fdc627 97.5px,#feb82c 100.5px,#fdb52e 103.5px,#feb72d 111.5px,#feb72d 117.5px,#fec029 120.5px,#fad824 123.5px,#f5eb27 125.5px,#f2f227 127.5px,#f3f027 128.5px,#f8df25 130.5px,#fdc328 133.5px,#febb2b 134.5px,#fdb52e 136.5px,#feb82c 138.5px,#febb2b 139.5px,#fbd524 142.5px,#f5e926 144.5px,#f3f027 145.5px,#f3f027 147.5px,#f7e225 149.5px,#fdc627 152.5px,#feb82c 155.5px,#fdb52e 158.5px,#feb72d 163px)"></i><i style="top:35px;height:1px;background:linear-gradient(90deg,#feb82c 0px,#feb72d 7.5px,#feba2c 9.5px,#fccd25 12.5px,#f5e926 15.5px,#f3f027 16.5px,#f3f027 18.5px,#fbd724 21.5px,#fdc328 23.5px,#feb72d 25.5px,#feb72d 28.5px,#fdc328 30.5px,#f8e125 33.5px,#f3f027 35.5px,#f3f027 37.5px,#fbd724 40.5px,#febe2a 43.5px,#feb72d 45.5px,#feb72d 51.5px,#feb72d 59.5px,#feb72d 63.5px,#fdc527 66.5px,#f8e125 69.5px,#f3f027 71.5px,#f3f027 73.5px,#fbd724 76.5px,#fdc328 78.5px,#feb72d 80.5px,#feb72d 83.5px,#fdc328 85.5px,#f8e125 88.5px,#f3f027 90.5px,#f3f027 92.5px,#fbd724 95.5px,#febe2a 98.5px,#feb72d 100.5px,#feb72d 106.5px,#feb72d 114.5px,#feb72d 118.5px,#fdc527 121.5px,#f8e125 124.5px,#f3f027 126.5px,#f3f027 128.5px,#fbd724 131.5px,#fdc328 133.5px,#feb72d 135.5px,#feb72d 138.5px,#fdc328 140.5px,#f8e125 143.5px,#f3f027 145.5px,#f3f027 147.5px,#fbd724 150.5px,#febe2a 153.5px,#feb72d 155.5px,#feb72d 163px)"></i><i style="top:36px;height:1px;background:linear-gradient(90deg,#feb82c 0px,#fdb52e 7.5px,#febd2a 10.5px,#fbd524 13.5px,#f3ee27 16.5px,#f2f227 17.5px,#f3f027 18.5px,#fbd724 21.5px,#fdc328 23.5px,#feb72d 25.5px,#feb72d 28.5px,#fdc328 30.5px,#f8e125 33.5px,#f3f027 35.5px,#f2f227 36.5px,#f6e826 38.5px,#fdcb26 41.5px,#febd2a 43.5px,#fdb52e 46.5px,#feb82c 56.5px,#fdb52e 62.5px,#febd2a 65.5px,#fbd524 68.5px,#f3ee27 71.5px,#f2f227 72.5px,#f3f027 73.5px,#fbd724 76.5px,#febb2b 79.5px,#fdb52e 81.5px,#feb72d 83.5px,#fdc328 85.5px,#f8e125 88.5px,#f3f027 90.5px,#f2f227 91.5px,#f6e826 93.5px,#fdcb26 96.5px,#febd2a 98.5px,#fdb52e 101.5px,#feb82c 111.5px,#fdb52e 117.5px,#febd2a 120.5px,#fbd524 123.5px,#f3ee27 126.5px,#f2f227 127.5px,#f3f027 128.5px,#fbd724 131.5px,#febb2b 134.5px,#fdb52e 136.5px,#feb72d 138.5px,#fdc328 140.5px,#f8e125 143.5px,#f3f027 145.5px,#f2f227 146.5px,#f6e826 148.5px,#fdcb26 151.5px,#febd2a 153.5px,#fdb52e 156.5px,#feb82c 163px)"></i><i style="top:37px;height:1px;background:linear-gradient(90deg,#feb82c 0px,#fdb52e 7.5px,#febb2b 10.5px,#fdc827 12.5px,#f6e626 15.5px,#f3f027 17.5px,#f3f027 18.5px,#f5eb27 19.5px,#fccd25 22.5px,#febb2b 24.5px,#fdb52e 26.5px,#feb72d 28.5px,#fdc328 30.5px,#f8e125 33.5px,#f5eb27 34.5px,#f3f027 35.5px,#f4ed27 37.5px,#f9dc24 39.5px,#fdc827 41.5px,#febb2b 43.5px,#fdb52e 47.5px,#feb82c 57.5px,#fdb52e 62.5px,#febb2b 65.5px,#fdc827 67.5px,#f6e626 70.5px,#f3f027 72.5px,#f3f027 73.5px,#f5eb27 74.5px,#fccd25 77.5px,#febb2b 79.5px,#fdb52e 81.5px,#feb72d 83.5px,#fdc328 85.5px,#f8e125 88.5px,#f5eb27 89.5px,#f3f027 90.5px,#f4ed27 92.5px,#f9dc24 94.5px,#fdc827 96.5px,#febb2b 98.5px,#fdb52e 102.5px,#feb82c 112.5px,#fdb52e 117.5px,#febb2b 120.5px,#fdc827 122.5px,#f6e626 125.5px,#f3f027 127.5px,#f3f027 128.5px,#f5eb27 129.5px,#fccd25 132.5px,#febb2b 134.5px,#fdb52e 136.5px,#feb72d 138.5px,#fdc328 140.5px,#f8e125 143.5px,#f3f027 145.5px,#f4ed27 147.5px,#f9dc24 149.5px,#fdc827 151.5px,#febb2b 153.5px,#fdb52e 157.5px,#feb82c 163px)"></i><i style="top:38px;height:1px;background:linear-gradient(90deg,#feb82c 0px,#fdb52e 8.5px,#feba2c 10.5px,#fdc627 12.5px,#f7e425 15.5px,#f3f027 17.5px,#f5eb27 19.5px,#fccd25 22.5px,#febb2b 24.5px,#fdb52e 26.5px,#feb72d 28.5px,#fdc328 30.5px,#f7e225 33.5px,#f5eb27 34.5px,#f3f027 36.5px,#f7e425 38.5px,#fdc627 41.5px,#feba2c 43.5px,#fdb52e 46.5px,#feb82c 57.5px,#fdb52e 63.5px,#feba2c 65.5px,#fdc627 67.5px,#f7e425 70.5px,#f3f027 72.5px,#f5eb27 74.5px,#fccd25 77.5px,#febb2b 79.5px,#fdb52e 81.5px,#feb72d 83.5px,#fdc328 85.5px,#f7e225 88.5px,#f5eb27 89.5px,#f3f027 91.5px,#f7e425 93.5px,#fdc627 96.5px,#feba2c 98.5px,#fdb52e 101.5px,#feb82c 112.5px,#fdb52e 118.5px,#feba2c 120.5px,#fdc627 122.5px,#f7e425 125.5px,#f3f027 127.5px,#f5eb27 129.5px,#fccd25 132.5px,#febb2b 134.5px,#fdb52e 136.5px,#feb72d 138.5px,#fdc328 140.5px,#f7e225 143.5px,#f5eb27 144.5px,#f3f027 146.5px,#f7e425 148.5px,#fdc627 151.5px,#feba2c 153.5px,#fdb52e 156.5px,#feb82c 163px)"></i><i style="top:39px;height:1px;background:linear-gradient(90deg,#feba2c 0px,#fdb52e 8.5px,#febe2a 11.5px,#fbd724 14.5px,#f5e926 16.5px,#f3ee27 17.5px,#f5eb27 19.5px,#fccd25 22.5px,#febb2b 24.5px,#fdb42f 26.5px,#feb72d 28.5px,#fdc328 30.5px,#f7e225 33.5px,#f5eb27 34.5px,#f3ee27 36.5px,#f8e125 38.5px,#fdc527 41.5px,#feb72d 44.5px,#feb72d 49.5px,#feba2c 55.5px,#fdb52e 63.5px,#febe2a 66.5px,#fbd724 69.5px,#f5e926 71.5px,#f3ee27 72.5px,#f5eb27 74.5px,#fccd25 77.5px,#febb2b 79.5px,#fdb42f 81.5px,#feb72d 83.5px,#fdc328 85.5px,#f7e225 88.5px,#f5eb27 89.5px,#f3ee27 91.5px,#f8e125 93.5px,#fdc527 96.5px,#feb72d 99.5px,#feb72d 104.5px,#feba2c 110.5px,#fdb52e 118.5px,#febe2a 121.5px,#fbd724 124.5px,#f5e926 126.5px,#f3ee27 127.5px,#f5eb27 129.5px,#fccd25 132.5px,#febb2b 134.5px,#fdb42f 136.5px,#feb72d 138.5px,#fdc328 140.5px,#f7e225 143.5px,#f5eb27 144.5px,#f3ee27 146.5px,#f8e125 148.5px,#fdc527 151.5px,#feb72d 154.5px,#feb72d 159.5px,#feb82c 163px)"></i><i style="top:40px;height:1px;background:linear-gradient(90deg,#feba2c 0px,#fdb52e 9.5px,#fdc328 12.5px,#f8df25 15.5px,#f4ed27 17.5px,#f3ee27 18.5px,#f5eb27 19.5px,#fccd25 22.5px,#febb2b 24.5px,#fdb42f 26.5px,#feb72d 28.5px,#fdc328 30.5px,#f7e225 33.5px,#f5eb27 34.5px,#f3ee27 35.5px,#f6e826 37.5px,#fdcb26 40.5px,#feb82c 43.5px,#fdb52e 45.5px,#feba2c 56.5px,#fdb52e 64.5px,#fdc328 67.5px,#f8df25 70.5px,#f4ed27 72.5px,#f3ee27 73.5px,#f5eb27 74.5px,#fccd25 77.5px,#febb2b 79.5px,#fdb42f 81.5px,#feb72d 83.5px,#fdc328 85.5px,#f7e225 88.5px,#f5eb27 89.5px,#f3ee27 90.5px,#f6e826 92.5px,#fdcb26 95.5px,#feb82c 98.5px,#fdb52e 100.5px,#feba2c 111.5px,#fdb52e 119.5px,#fdc328 122.5px,#f8df25 125.5px,#f4ed27 127.5px,#f3ee27 128.5px,#f5eb27 129.5px,#fccd25 132.5px,#febb2b 134.5px,#fdb42f 136.5px,#feb72d 138.5px,#fdc328 140.5px,#f7e225 143.5px,#f5eb27 144.5px,#f3ee27 145.5px,#f6e826 147.5px,#fdcb26 150.5px,#feb82c 153.5px,#fdb52e 155.5px,#feba2c 163px)"></i><i style="top:41px;height:1px;background:linear-gradient(90deg,#feba2c 0px,#fdb52e 9.5px,#febb2b 11.5px,#fec029 12.5px,#f9dd25 15.5px,#f5eb27 17.5px,#f4ed27 18.5px,#f7e225 20.5px,#fdc328 23.5px,#feb72d 25.5px,#fdb42f 27.5px,#febb2b 29.5px,#fad824 32.5px,#f5e926 34.5px,#f4ed27 35.5px,#f6e626 37.5px,#fdca26 40.5px,#feb72d 43.5px,#feb72d 49.5px,#feba2c 56.5px,#fdb52e 64.5px,#febb2b 66.5px,#fec029 67.5px,#f9dd25 70.5px,#f5eb27 72.5px,#f4ed27 73.5px,#f7e225 75.5px,#fdc328 78.5px,#feb72d 80.5px,#fdb42f 82.5px,#febb2b 84.5px,#fad824 87.5px,#f5e926 89.5px,#f4ed27 91.5px,#fbd324 94.5px,#febb2b 97.5px,#fdb52e 99.5px,#feba2c 111.5px,#fdb52e 119.5px,#febb2b 121.5px,#fec029 122.5px,#f9dd25 125.5px,#f5eb27 127.5px,#f4ed27 128.5px,#f7e225 130.5px,#fcce25 132.5px,#febb2b 134.5px,#fdb42f 136.5px,#feb72d 138.5px,#fdc328 140.5px,#f7e225 143.5px,#f4ed27 145.5px,#f4ed27 146.5px,#fbd324 149.5px,#febb2b 152.5px,#fdb52e 154.5px,#feba2c 163px)"></i><i style="top:42px;height:1px;background:linear-gradient(90deg,#feba2c 0px,#fdb42f 8.5px,#feba2c 11.5px,#fdc627 13.5px,#f7e425 16.5px,#f5eb27 17.5px,#f4ed27 18.5px,#f7e225 20.5px,#fcce25 22.5px,#febb2b 24.5px,#fdb42f 26.5px,#feb72d 28.5px,#fdc328 30.5px,#fad824 32.5px,#f5e926 34.5px,#f4ed27 35.5px,#f5eb27 36.5px,#fada24 38.5px,#febe2a 41.5px,#fdb52e 44.5px,#feb72d 48.5px,#feba2c 56.5px,#fdb42f 63.5px,#feba2c 66.5px,#fdc627 68.5px,#f7e425 71.5px,#f5eb27 72.5px,#f4ed27 73.5px,#f7e225 75.5px,#fcce25 77.5px,#febb2b 79.5px,#fdb42f 81.5px,#feb72d 83.5px,#fdc328 85.5px,#fad824 87.5px,#f5e926 89.5px,#f4ed27 90.5px,#f5eb27 91.5px,#fada24 93.5px,#febe2a 96.5px,#fdb52e 99.5px,#feb72d 103.5px,#feba2c 111.5px,#fdb42f 118.5px,#feba2c 121.5px,#fdc627 123.5px,#f7e425 126.5px,#f5eb27 127.5px,#f4ed27 128.5px,#f7e225 130.5px,#fcce25 132.5px,#febb2b 134.5px,#fdb42f 136.5px,#feb72d 138.5px,#fdc328 140.5px,#fad824 142.5px,#f5e926 144.5px,#f4ed27 145.5px,#f5eb27 146.5px,#fada24 148.5px,#febe2a 151.5px,#fdb52e 154.5px,#feb72d 158.5px,#feba2c 163px)"></i><i style="top:43px;height:1px;background:linear-gradient(90deg,#febb2b 0px,#fdb42f 9.5px,#febd2a 12.5px,#fccd25 14.5px,#f8e125 16.5px,#f5e926 17.5px,#f5e926 19.5px,#fad824 21.5px,#febb2b 24.5px,#fdb42f 26.5px,#feb72d 28.5px,#fdc328 30.5px,#fad824 32.5px,#f5e926 34.5px,#f5e926 36.5px,#fad824 38.5px,#fdc527 40.5px,#feb82c 42.5px,#fdb42f 45.5px,#febb2b 55.5px,#fdb42f 64.5px,#febd2a 67.5px,#fccd25 69.5px,#f8e125 71.5px,#f5e926 72.5px,#f5e926 74.5px,#fad824 76.5px,#febb2b 79.5px,#fdb42f 81.5px,#feb72d 83.5px,#fdc328 85.5px,#fad824 87.5px,#f5e926 89.5px,#f5e926 91.5px,#fad824 93.5px,#fdc527 95.5px,#feb82c 97.5px,#fdb42f 100.5px,#febb2b 110.5px,#fdb42f 119.5px,#febd2a 122.5px,#fccd25 124.5px,#f8e125 126.5px,#f5e926 127.5px,#f5e926 129.5px,#fad824 131.5px,#febb2b 134.5px,#fdb42f 136.5px,#feb72d 138.5px,#fdc328 140.5px,#fad824 142.5px,#f5e926 144.5px,#f5e926 146.5px,#fad824 148.5px,#fdc527 150.5px,#feb82c 152.5px,#fdb42f 155.5px,#feba2c 163px)"></i><i style="top:44px;height:1px;background:linear-gradient(90deg,#febb2b 0px,#fdb42f 9.5px,#feb72d 11.5px,#fdc229 13.5px,#f8df25 16.5px,#f5eb27 18.5px,#f5e926 19.5px,#fad824 21.5px,#febb2b 24.5px,#fdb42f 26.5px,#feb72d 28.5px,#febb2b 29.5px,#fad824 32.5px,#f5e926 34.5px,#f5eb27 35.5px,#f8df25 37.5px,#fdc229 40.5px,#feb72d 42.5px,#fdb42f 45.5px,#febb2b 54.5px,#fdb42f 64.5px,#feb72d 66.5px,#fdc229 68.5px,#f8df25 71.5px,#f5eb27 73.5px,#f5e926 74.5px,#fad824 76.5px,#febb2b 79.5px,#fdb42f 81.5px,#feb72d 83.5px,#febb2b 84.5px,#fad824 87.5px,#f5e926 89.5px,#f5eb27 90.5px,#f8df25 92.5px,#fdc229 95.5px,#feb72d 97.5px,#fdb42f 100.5px,#febb2b 109.5px,#fdb42f 119.5px,#feb72d 121.5px,#fdc229 123.5px,#f8df25 126.5px,#f5eb27 128.5px,#f5e926 129.5px,#fad824 131.5px,#febb2b 134.5px,#fdb42f 136.5px,#feb72d 138.5px,#febb2b 139.5px,#fad824 142.5px,#f5e926 144.5px,#f5eb27 145.5px,#f8df25 147.5px,#fdc229 150.5px,#feb72d 152.5px,#fdb42f 155.5px,#feba2c 163px)"></i><i style="top:45px;height:1px;background:linear-gradient(90deg,#febb2b 0px,#fdb42f 10.5px,#feba2c 12.5px,#fcd225 15.5px,#f7e425 17.5px,#f5e926 18.5px,#f7e225 20.5px,#fdc527 23.5px,#fdb52e 25.5px,#fdb52e 28.5px,#fdc527 30.5px,#f7e225 33.5px,#f5e926 35.5px,#f9dc24 37.5px,#fec029 40.5px,#fdb52e 42.5px,#fdb52e 47.5px,#febb2b 54.5px,#fdb42f 65.5px,#feba2c 67.5px,#fcd225 70.5px,#f7e425 72.5px,#f5e926 73.5px,#f7e225 75.5px,#fdc527 78.5px,#fdb52e 80.5px,#fdb52e 83.5px,#fdc527 85.5px,#f7e225 88.5px,#f5e926 90.5px,#f9dd25 92.5px,#fec029 95.5px,#fdb52e 97.5px,#fdb52e 102.5px,#febb2b 109.5px,#fdb42f 120.5px,#feba2c 122.5px,#fcd225 125.5px,#f7e425 127.5px,#f5e926 128.5px,#f7e225 130.5px,#fdc527 133.5px,#fdb52e 135.5px,#fdb52e 138.5px,#fdc527 140.5px,#f7e225 143.5px,#f5e926 145.5px,#f9dd25 147.5px,#fec029 150.5px,#fdb52e 152.5px,#fdb52e 157.5px,#febb2b 163px)"></i><i style="top:46px;height:1px;background:linear-gradient(90deg,#febb2b 0px,#feb72d 5.5px,#fdb22f 9.5px,#feb82c 12.5px,#fcd025 15.5px,#f7e225 17.5px,#f6e826 18.5px,#f6e826 19.5px,#fada24 21.5px,#febb2b 24.5px,#fdb22f 26.5px,#fdb52e 28.5px,#fdc527 30.5px,#f7e225 33.5px,#f6e826 34.5px,#f6e826 35.5px,#fada24 37.5px,#febe2a 40.5px,#fdb52e 42.5px,#fdb22f 44.5px,#febb2b 52.5px,#feba2c 58.5px,#fdb22f 64.5px,#feb82c 67.5px,#fcd025 70.5px,#f7e225 72.5px,#f6e826 73.5px,#f6e826 74.5px,#fada24 76.5px,#febb2b 79.5px,#fdb22f 81.5px,#fdb52e 83.5px,#fdc527 85.5px,#f7e225 88.5px,#f6e826 89.5px,#f6e826 90.5px,#fada24 92.5px,#febe2a 95.5px,#fdb52e 97.5px,#fdb22f 99.5px,#febb2b 107.5px,#feba2c 113.5px,#fdb22f 119.5px,#feb82c 122.5px,#fcd025 125.5px,#f7e225 127.5px,#f6e826 128.5px,#f6e826 129.5px,#fada24 131.5px,#febb2b 134.5px,#fdb22f 136.5px,#fdb52e 138.5px,#fdc527 140.5px,#f7e225 143.5px,#f6e826 144.5px,#f6e826 145.5px,#fada24 147.5px,#febe2a 150.5px,#fdb52e 152.5px,#fdb22f 154.5px,#febb2b 163px)"></i><i style="top:47px;height:1px;background:linear-gradient(90deg,#febb2b 0px,#feb72d 5.5px,#fdb22f 10.5px,#febb2b 13.5px,#fbd724 16.5px,#f8e125 17.5px,#f6e626 18.5px,#f7e225 20.5px,#fdc527 23.5px,#fdb52e 25.5px,#fdb22f 27.5px,#febb2b 29.5px,#fada24 32.5px,#f7e225 33.5px,#f6e626 35.5px,#f8e125 36.5px,#fdc328 39.5px,#feb72d 41.5px,#fdb22f 44.5px,#febd2a 54.5px,#fdb22f 65.5px,#febb2b 68.5px,#fbd724 71.5px,#f8e125 72.5px,#f6e626 73.5px,#f7e225 75.5px,#fdc527 78.5px,#fdb52e 80.5px,#fdb22f 82.5px,#febb2b 84.5px,#fada24 87.5px,#f7e225 88.5px,#f6e626 90.5px,#f8e125 91.5px,#fdc328 94.5px,#feb72d 96.5px,#fdb22f 99.5px,#febd2a 109.5px,#fdb22f 120.5px,#febb2b 123.5px,#fbd724 126.5px,#f8e125 127.5px,#f6e626 128.5px,#f7e225 130.5px,#fdc527 133.5px,#fdb52e 135.5px,#fdb22f 137.5px,#febb2b 139.5px,#fada24 142.5px,#f7e225 143.5px,#f6e626 145.5px,#f8e125 146.5px,#fdc328 149.5px,#feb72d 151.5px,#fdb22f 154.5px,#febb2b 163px)"></i><i style="top:48px;height:1px;background:linear-gradient(90deg,#febd2a 0px,#fdb22f 11.5px,#feba2c 13.5px,#fbd524 16.5px,#f7e425 18.5px,#f6e626 19.5px,#fada24 21.5px,#febb2b 24.5px,#fdb22f 26.5px,#fdb52e 28.5px,#fdc527 30.5px,#fada24 32.5px,#f6e626 34.5px,#f7e425 35.5px,#fdcb26 38.5px,#feba2c 40.5px,#fdb42f 42.5px,#fdb42f 45.5px,#febd2a 54.5px,#fdb22f 66.5px,#feba2c 68.5px,#fbd524 71.5px,#f7e425 73.5px,#f6e626 74.5px,#fada24 76.5px,#febb2b 79.5px,#fdb22f 81.5px,#fdb52e 83.5px,#fdc527 85.5px,#f8e125 88.5px,#f6e626 89.5px,#f7e425 90.5px,#fdcb26 93.5px,#feba2c 95.5px,#fdb42f 97.5px,#fdb42f 101.5px,#febd2a 109.5px,#fdb22f 121.5px,#feba2c 123.5px,#fbd524 126.5px,#f7e425 128.5px,#f6e626 129.5px,#fada24 131.5px,#febb2b 134.5px,#fdb22f 136.5px,#fdb52e 138.5px,#fdc527 140.5px,#f8e125 143.5px,#f6e626 144.5px,#f7e425 145.5px,#fdcb26 148.5px,#feba2c 150.5px,#fdb42f 152.5px,#fdb42f 156.5px,#febb2b 163px)"></i><i style="top:49px;height:1px;background:linear-gradient(90deg,#febd2a 0px,#fdb22f 10.5px,#fdb42f 12.5px,#febe2a 14.5px,#f9dc24 17.5px,#f7e225 18.5px,#f7e425 19.5px,#f8e125 20.5px,#fdc527 23.5px,#fdb52e 25.5px,#fdb22f 27.5px,#febb2b 29.5px,#fad824 32.5px,#f8e125 33.5px,#f7e425 34.5px,#f7e225 35.5px,#fcd225 37.5px,#febe2a 39.5px,#fdb42f 41.5px,#fdb42f 46.5px,#febd2a 53.5px,#feba2c 58.5px,#fdb22f 65.5px,#fdb42f 67.5px,#febe2a 69.5px,#f9dc24 72.5px,#f7e225 73.5px,#f7e425 74.5px,#f8e125 75.5px,#fdc527 78.5px,#fdb52e 80.5px,#fdb22f 82.5px,#febb2b 84.5px,#fad824 87.5px,#f8e125 88.5px,#f7e425 89.5px,#f7e225 90.5px,#fcd225 92.5px,#febe2a 94.5px,#fdb42f 96.5px,#fdb42f 101.5px,#febd2a 108.5px,#feba2c 113.5px,#fdb22f 120.5px,#fdb42f 122.5px,#febe2a 124.5px,#f9dc24 127.5px,#f7e225 128.5px,#f7e425 129.5px,#f8e125 130.5px,#fdc527 133.5px,#fdb52e 135.5px,#fdb22f 137.5px,#febb2b 139.5px,#fad824 142.5px,#f8e125 143.5px,#f7e425 144.5px,#f7e225 145.5px,#fcd225 147.5px,#febe2a 149.5px,#fdb42f 151.5px,#fdb42f 156.5px,#febd2a 163px)"></i><i style="top:50px;height:1px;background:linear-gradient(90deg,#febd2a 0px,#feb72d 6.5px,#fdb130 10.5px,#fdb42f 12.5px,#febd2a 14.5px,#fad824 17.5px,#f7e225 19.5px,#f8e125 20.5px,#fdc527 23.5px,#fdb52e 25.5px,#fdb22f 27.5px,#febb2b 29.5px,#fad824 32.5px,#f8e125 33.5px,#f7e225 34.5px,#fad824 36.5px,#febd2a 39.5px,#fdb42f 41.5px,#fdb130 43.5px,#febd2a 53.5px,#feb82c 60.5px,#fdb130 65.5px,#fdb42f 67.5px,#febd2a 69.5px,#fad824 72.5px,#f7e225 74.5px,#f8e125 75.5px,#fdc527 78.5px,#fdb52e 80.5px,#fdb22f 82.5px,#febb2b 84.5px,#fad824 87.5px,#f8e125 88.5px,#f7e225 89.5px,#fad824 91.5px,#febd2a 94.5px,#fdb42f 96.5px,#fdb130 98.5px,#febd2a 108.5px,#feb82c 115.5px,#fdb130 120.5px,#fdb42f 122.5px,#febd2a 124.5px,#fad824 127.5px,#f7e225 129.5px,#f8e125 130.5px,#fdc527 133.5px,#fdb52e 135.5px,#fdb22f 137.5px,#febb2b 139.5px,#fad824 142.5px,#f8e125 143.5px,#f7e225 144.5px,#fad824 146.5px,#febd2a 149.5px,#fdb42f 151.5px,#fdb130 153.5px,#febd2a 163px)"></i><i style="top:51px;height:1px;background:linear-gradient(90deg,#febd2a 0px,#feb72d 6.5px,#fdb130 10.5px,#fdb52e 13.5px,#fccd25 16.5px,#f9dd25 18.5px,#f8e125 19.5px,#f8df25 20.5px,#fcce25 22.5px,#febb2b 24.5px,#fdb22f 26.5px,#fdb52e 28.5px,#fdc527 30.5px,#fad824 32.5px,#f8df25 33.5px,#f8e125 34.5px,#fbd724 36.5px,#febb2b 39.5px,#fdb22f 41.5px,#fdb22f 45.5px,#febd2a 52.5px,#feba2c 59.5px,#fdb130 65.5px,#fdb52e 68.5px,#fbd524 72.5px,#f9dd25 73.5px,#f8e125 74.5px,#f8df25 75.5px,#fcce25 77.5px,#febb2b 79.5px,#fdb22f 81.5px,#fdb52e 83.5px,#fdc527 85.5px,#fad824 87.5px,#f8df25 88.5px,#f8e125 89.5px,#fbd724 91.5px,#febb2b 94.5px,#fdb22f 96.5px,#fdb22f 100.5px,#febd2a 107.5px,#feba2c 114.5px,#fdb130 120.5px,#fdb52e 123.5px,#fbd524 127.5px,#f9dd25 128.5px,#f8e125 129.5px,#f8df25 130.5px,#fcce25 132.5px,#febb2b 134.5px,#fdb22f 136.5px,#fdb52e 138.5px,#fdc527 140.5px,#fad824 142.5px,#f8df25 143.5px,#f8e125 144.5px,#fbd724 146.5px,#febb2b 149.5px,#fdb22f 151.5px,#fdb22f 155.5px,#febd2a 163px)"></i><i style="top:52px;height:1px;background:linear-gradient(90deg,#febd2a 0px,#feb82c 5.5px,#fdaf31 11.5px,#feb82c 14.5px,#fbd324 17.5px,#f9dc24 18.5px,#f8df25 19.5px,#fad824 21.5px,#febb2b 24.5px,#fdb130 26.5px,#fdb130 27.5px,#febb2b 29.5px,#fad824 32.5px,#f8df25 34.5px,#f9dc24 35.5px,#fec029 38.5px,#fdb42f 40.5px,#fdaf31 42.5px,#febd2a 52.5px,#feba2c 59.5px,#fdaf31 66.5px,#feb82c 69.5px,#fbd324 72.5px,#f9dc24 73.5px,#f8df25 74.5px,#fad824 76.5px,#febb2b 79.5px,#fdb130 81.5px,#fdb130 82.5px,#febb2b 84.5px,#fad824 87.5px,#f8df25 89.5px,#f9dc24 90.5px,#fec029 93.5px,#fdb42f 95.5px,#fdaf31 97.5px,#febd2a 107.5px,#feba2c 114.5px,#fdaf31 121.5px,#feb82c 124.5px,#fbd324 127.5px,#f9dc24 128.5px,#f8df25 129.5px,#fad824 131.5px,#febb2b 134.5px,#fdb130 136.5px,#fdb130 137.5px,#febb2b 139.5px,#fad824 142.5px,#f8df25 144.5px,#f9dc24 145.5px,#fec029 148.5px,#fdb42f 150.5px,#fdaf31 152.5px,#febd2a 163px)"></i><i style="top:53px;height:1px;background:linear-gradient(90deg,#febd2a 0px,#feb82c 5.5px,#fdaf31 11.5px,#fdb22f 13.5px,#febd2a 15.5px,#fad824 18.5px,#f9dd25 19.5px,#f9dd25 20.5px,#fad824 21.5px,#febb2b 24.5px,#fdb130 26.5px,#fdb130 27.5px,#febb2b 29.5px,#fad824 32.5px,#f9dd25 33.5px,#f9dd25 34.5px,#fcd025 36.5px,#febd2a 38.5px,#fdaf31 41.5px,#fdb42f 46.5px,#febd2a 52.5px,#feba2c 59.5px,#fdaf31 66.5px,#fdb22f 68.5px,#febd2a 70.5px,#fad824 73.5px,#f9dd25 74.5px,#f9dd25 75.5px,#fad824 76.5px,#febb2b 79.5px,#fdb130 81.5px,#fdb130 82.5px,#febb2b 84.5px,#fad824 87.5px,#f9dd25 88.5px,#f9dd25 89.5px,#fcd025 91.5px,#febd2a 93.5px,#fdaf31 96.5px,#fdb42f 101.5px,#febd2a 107.5px,#feba2c 114.5px,#fdaf31 121.5px,#fdb22f 123.5px,#febd2a 125.5px,#fad824 128.5px,#f9dd25 129.5px,#f9dd25 130.5px,#fad824 131.5px,#febb2b 134.5px,#fdb130 136.5px,#fdb130 137.5px,#febb2b 139.5px,#fad824 142.5px,#f9dd25 143.5px,#f9dd25 144.5px,#fcd025 146.5px,#febd2a 148.5px,#fdaf31 151.5px,#fdb42f 156.5px,#febd2a 163px)"></i><i style="top:54px;height:1px;background:linear-gradient(90deg,#febd2a 0px,#feb82c 5.5px,#fdaf31 11.5px,#fdb130 13.5px,#fdc328 16.5px,#fbd724 18.5px,#f9dc24 19.5px,#f9dc24 20.5px,#fcce25 22.5px,#fdb42f 25.5px,#fdb130 27.5px,#fdb42f 28.5px,#fcce25 31.5px,#f9dc24 33.5px,#f9dc24 34.5px,#fbd724 35.5px,#febb2b 38.5px,#fdb130 40.5px,#fdb130 44.5px,#febd2a 52.5px,#febd2a 56.5px,#fdaf31 66.5px,#fdb130 68.5px,#fdc328 71.5px,#fbd724 73.5px,#f9dc24 74.5px,#f9dc24 75.5px,#fcce25 77.5px,#fdb42f 80.5px,#fdb130 82.5px,#fdb42f 83.5px,#fcce25 86.5px,#f9dc24 88.5px,#f9dc24 89.5px,#fbd724 90.5px,#febb2b 93.5px,#fdb130 95.5px,#fdb130 99.5px,#febd2a 107.5px,#febd2a 111.5px,#fdaf31 121.5px,#fdb130 123.5px,#fdc328 126.5px,#fbd724 128.5px,#f9dc24 129.5px,#f9dc24 130.5px,#fcce25 132.5px,#fdb42f 135.5px,#fdb130 137.5px,#fdb42f 138.5px,#fcce25 141.5px,#f9dc24 143.5px,#f9dc24 144.5px,#fbd724 145.5px,#febb2b 148.5px,#fdb130 150.5px,#fdb130 154.5px,#febd2a 163px)"></i><i style="top:55px;height:1px;background:linear-gradient(90deg,#febd2a 0px,#feba2c 4.5px,#fdae32 12.5px,#fdb42f 14.5px,#feb82c 15.5px,#fbd324 18.5px,#fada24 19.5px,#fbd724 21.5px,#febb2b 24.5px,#fdb42f 25.5px,#fdb130 27.5px,#fdb42f 28.5px,#fcce25 31.5px,#fbd724 32.5px,#fada24 34.5px,#fdc229 37.5px,#feb82c 38.5px,#fdaf31 40.5px,#fdaf31 43.5px,#febd2a 52.5px,#febd2a 56.5px,#fdae32 67.5px,#fdb42f 69.5px,#feb82c 70.5px,#fbd324 73.5px,#fada24 74.5px,#fbd724 76.5px,#febb2b 79.5px,#fdb42f 80.5px,#fdb130 82.5px,#fdb42f 83.5px,#fcce25 86.5px,#fbd724 87.5px,#fada24 89.5px,#fdc229 92.5px,#feb82c 93.5px,#fdaf31 95.5px,#fdaf31 98.5px,#febd2a 107.5px,#febd2a 111.5px,#fdae32 122.5px,#fdb42f 124.5px,#feb82c 125.5px,#fbd324 128.5px,#fada24 129.5px,#fbd724 131.5px,#febb2b 134.5px,#fdb42f 135.5px,#fdb130 137.5px,#fdb42f 138.5px,#fcce25 141.5px,#fbd724 142.5px,#fada24 144.5px,#fdc229 147.5px,#feb82c 148.5px,#fdaf31 150.5px,#fdaf31 153.5px,#febd2a 163px)"></i><i style="top:56px;height:1px;background:linear-gradient(90deg,#febd2a 0px,#feba2c 4.5px,#fdae32 12.5px,#feb72d 15.5px,#fcd025 18.5px,#fbd724 19.5px,#fad824 20.5px,#fcce25 22.5px,#fdb42f 25.5px,#fdb130 27.5px,#fdb42f 28.5px,#fcce25 31.5px,#fad824 33.5px,#fbd724 34.5px,#febe2a 37.5px,#fdb22f 39.5px,#fdae32 42.5px,#febd2a 52.5px,#febd2a 56.5px,#fdae32 67.5px,#feb72d 70.5px,#fcd025 73.5px,#fbd724 74.5px,#fad824 75.5px,#fcce25 77.5px,#fdb42f 80.5px,#fdb130 82.5px,#fdb42f 83.5px,#fcce25 86.5px,#fad824 88.5px,#fbd724 89.5px,#febe2a 92.5px,#fdb22f 94.5px,#fdae32 97.5px,#febd2a 107.5px,#febd2a 111.5px,#fdae32 122.5px,#feb72d 125.5px,#fcd025 128.5px,#fbd724 129.5px,#fad824 130.5px,#fcce25 132.5px,#fdb42f 135.5px,#fdb130 137.5px,#fdb42f 138.5px,#fcce25 141.5px,#fad824 143.5px,#fbd724 144.5px,#febe2a 147.5px,#fdb22f 149.5px,#fdae32 152.5px,#febd2a 163px)"></i><i style="top:57px;height:1px;background:linear-gradient(90deg,#febd2a 0px,#fdac33 12.5px,#fdb52e 15.5px,#fdc527 17.5px,#fbd524 19.5px,#fbd524 21.5px,#febb2b 24.5px,#fdb42f 25.5px,#fdb130 27.5px,#fdb42f 28.5px,#fccd25 31.5px,#fbd524 32.5px,#fbd524 34.5px,#fdb52e 38.5px,#fdac33 41.5px,#febd2a 53.5px,#feba2c 58.5px,#fdac33 67.5px,#fdb52e 70.5px,#fdc527 72.5px,#fbd524 74.5px,#fbd524 76.5px,#febb2b 79.5px,#fdb42f 80.5px,#fdb130 82.5px,#fdb42f 83.5px,#fbd524 87.5px,#fbd524 89.5px,#fdb52e 93.5px,#fdac33 96.5px,#febd2a 108.5px,#feba2c 113.5px,#fdac33 122.5px,#fdb52e 125.5px,#fdc527 127.5px,#fbd524 129.5px,#fbd524 131.5px,#febb2b 134.5px,#fdb42f 135.5px,#fdb130 137.5px,#fdb42f 138.5px,#fbd524 142.5px,#fbd524 144.5px,#fdb52e 148.5px,#fdac33 151.5px,#febd2a 163px)"></i><i style="top:58px;height:1px;background:linear-gradient(90deg,#febd2a 0px,#fdac33 12.5px,#fdb22f 15.5px,#fcd225 19.5px,#fbd524 20.5px,#fbd324 21.5px,#fdb42f 25.5px,#fdaf31 26.5px,#fdaf31 27.5px,#febb2b 29.5px,#fbd324 32.5px,#fbd524 33.5px,#fdcb26 35.5px,#fdb22f 38.5px,#fdac33 41.5px,#febd2a 53.5px,#feba2c 58.5px,#fdac33 67.5px,#fdb22f 70.5px,#fcd225 74.5px,#fbd524 75.5px,#fbd324 76.5px,#fdb42f 80.5px,#fdaf31 81.5px,#fdaf31 82.5px,#febb2b 84.5px,#fbd324 87.5px,#fbd324 89.5px,#fdb22f 93.5px,#fdac33 96.5px,#febd2a 108.5px,#feba2c 113.5px,#fdac33 122.5px,#fdb22f 125.5px,#fcd225 129.5px,#fbd524 130.5px,#fbd324 131.5px,#fdb42f 135.5px,#fdaf31 136.5px,#fdaf31 137.5px,#febb2b 139.5px,#fbd324 142.5px,#fbd324 144.5px,#fdb22f 148.5px,#fdac33 151.5px,#febd2a 163px)"></i><i style="top:59px;height:1px;background:linear-gradient(90deg,#febd2a 0px,#fdab33 12.5px,#fdb130 15.5px,#fcd025 19.5px,#fbd324 21.5px,#fdb42f 25.5px,#fdaf31 26.5px,#fdaf31 27.5px,#feba2c 29.5px,#fbd324 32.5px,#fcd025 34.5px,#fdb130 38.5px,#fdab33 41.5px,#febd2a 53.5px,#feba2c 58.5px,#fdab33 67.5px,#fdb130 70.5px,#fcd025 74.5px,#fbd324 76.5px,#fdb42f 80.5px,#fdaf31 81.5px,#fdaf31 82.5px,#feba2c 84.5px,#fbd324 87.5px,#fcd025 89.5px,#fdb130 93.5px,#fdab33 96.5px,#febd2a 108.5px,#feba2c 113.5px,#fdab33 122.5px,#fdb130 125.5px,#fcd025 129.5px,#fbd324 131.5px,#fdb42f 135.5px,#fdaf31 136.5px,#fdaf31 137.5px,#feba2c 139.5px,#fccd25 141.5px,#fbd324 143.5px,#fcd025 144.5px,#fdb130 148.5px,#fdab33 151.5px,#febd2a 163px)"></i><i style="top:60px;height:1px;background:linear-gradient(90deg,#febd2a 0px,#fdab33 13.5px,#fdaf31 15.5px,#fccd25 19.5px,#fcd225 20.5px,#fcd225 21.5px,#fdb42f 25.5px,#fdaf31 26.5px,#fdaf31 27.5px,#feba2c 29.5px,#fcd225 32.5px,#fcd225 33.5px,#fdc527 35.5px,#fdaf31 38.5px,#fdab33 41.5px,#febd2a 53.5px,#feb72d 60.5px,#fdab33 68.5px,#fdaf31 70.5px,#fccd25 74.5px,#fcd225 75.5px,#fcd225 76.5px,#fdb42f 80.5px,#fdaf31 81.5px,#fdaf31 82.5px,#feba2c 84.5px,#fcd225 87.5px,#fcd225 88.5px,#fdc627 90.5px,#fdaf31 93.5px,#fdab33 96.5px,#febd2a 108.5px,#feb72d 115.5px,#fdab33 123.5px,#fdaf31 125.5px,#fccd25 129.5px,#fcd225 130.5px,#fcd225 131.5px,#fdb42f 135.5px,#fdaf31 136.5px,#fdaf31 137.5px,#feba2c 139.5px,#fcd225 142.5px,#fcd225 143.5px,#fdc627 145.5px,#fdaf31 148.5px,#fdab33 151.5px,#febb2b 163px)"></i><i style="top:61px;height:1px;background:linear-gradient(90deg,#febd2a 0px,#fdb130 8.5px,#fdab33 12.5px,#fdae32 15.5px,#feba2c 17.5px,#fdcb26 19.5px,#fcd025 20.5px,#fcd025 21.5px,#fdc328 23.5px,#fdb42f 25.5px,#fdaf31 26.5px,#fdaf31 27.5px,#feba2c 29.5px,#fdcb26 31.5px,#fcd025 32.5px,#fcd025 33.5px,#fdc328 35.5px,#fdb22f 37.5px,#fdab33 39.5px,#fdae32 44.5px,#febb2b 51.5px,#febb2b 57.5px,#fdab33 66.5px,#fdab33 69.5px,#fdb22f 71.5px,#fdcb26 74.5px,#fcd025 75.5px,#fcd025 76.5px,#fdc328 78.5px,#fdb42f 80.5px,#fdaf31 81.5px,#fdaf31 82.5px,#feba2c 84.5px,#fdcb26 86.5px,#fcd025 87.5px,#fcd025 88.5px,#fdc328 90.5px,#fdb22f 92.5px,#fdab33 94.5px,#fdae32 99.5px,#febb2b 106.5px,#febb2b 112.5px,#fdab33 121.5px,#fdab33 124.5px,#fdb22f 126.5px,#fdcb26 129.5px,#fcd025 130.5px,#fcd025 131.5px,#fdc328 133.5px,#fdb42f 135.5px,#fdaf31 136.5px,#fdaf31 137.5px,#feba2c 139.5px,#fdcb26 141.5px,#fcd025 142.5px,#fcd025 143.5px,#fdc328 145.5px,#fdb22f 147.5px,#fdab33 149.5px,#fdae32 154.5px,#febb2b 161.5px,#febb2b 163px)"></i><i style="top:62px;height:1px;background:linear-gradient(90deg,#febb2b 0px,#fca934 13.5px,#fdac33 15.5px,#feb72d 17.5px,#fcce25 20.5px,#fcce25 21.5px,#fdc328 23.5px,#fdb22f 25.5px,#fdaf31 27.5px,#fdb22f 28.5px,#fdca26 31.5px,#fcce25 32.5px,#fcce25 33.5px,#fdb130 37.5px,#fca934 39.5px,#fdaf31 45.5px,#febb2b 53.5px,#feb82c 58.5px,#fca934 68.5px,#fdac33 70.5px,#feb72d 72.5px,#fcce25 75.5px,#fcce25 76.5px,#fdc328 78.5px,#fdb22f 80.5px,#fdaf31 82.5px,#fdb22f 83.5px,#fdca26 86.5px,#fcce25 87.5px,#fcce25 88.5px,#fdb130 92.5px,#fca934 94.5px,#fdaf31 100.5px,#febb2b 108.5px,#feb82c 113.5px,#fca934 123.5px,#fdac33 125.5px,#feb72d 127.5px,#fcce25 130.5px,#fcce25 131.5px,#fdc328 133.5px,#fdb22f 135.5px,#fdaf31 137.5px,#fdb22f 138.5px,#fdca26 141.5px,#fcce25 142.5px,#fcce25 143.5px,#fdb130 147.5px,#fca934 149.5px,#fdaf31 155.5px,#febb2b 163px)"></i><i style="top:63px;height:1px;background:linear-gradient(90deg,#febb2b 0px,#fca934 13.5px,#fdab33 15.5px,#febd2a 18.5px,#fdcb26 20.5px,#fccd25 21.5px,#fdca26 22.5px,#fdb22f 25.5px,#fdaf31 27.5px,#fdb22f 28.5px,#fdca26 31.5px,#fccd25 32.5px,#fdcb26 33.5px,#fdaf31 37.5px,#fca934 39.5px,#fdaf31 45.5px,#febb2b 53.5px,#feb82c 58.5px,#fca934 68.5px,#fdab33 70.5px,#febd2a 73.5px,#fdcb26 75.5px,#fccd25 76.5px,#fdca26 77.5px,#fdb22f 80.5px,#fdaf31 82.5px,#fdb22f 83.5px,#fdca26 86.5px,#fccd25 87.5px,#fdcb26 88.5px,#fdaf31 92.5px,#fca934 94.5px,#fdaf31 100.5px,#febb2b 108.5px,#feb82c 113.5px,#fca934 123.5px,#fdab33 125.5px,#febd2a 128.5px,#fdcb26 130.5px,#fccd25 131.5px,#fdca26 132.5px,#fdb22f 135.5px,#fdaf31 137.5px,#fdb22f 138.5px,#fdca26 141.5px,#fccd25 142.5px,#fdcb26 143.5px,#fdaf31 147.5px,#fca934 149.5px,#fdaf31 155.5px,#feba2c 163px)"></i><i style="top:64px;height:1px;background:linear-gradient(90deg,#febb2b 0px,#fdae32 9.5px,#fca835 13.5px,#fdac33 16.5px,#fdca26 20.5px,#fdcb26 21.5px,#fdc229 23.5px,#fdb22f 25.5px,#fdae32 26.5px,#fdae32 27.5px,#feba2c 29.5px,#fdc827 31.5px,#fdcb26 32.5px,#fdca26 33.5px,#fdb22f 36.5px,#fca934 38.5px,#fca934 42.5px,#feba2c 51.5px,#feba2c 57.5px,#fca835 68.5px,#fdac33 71.5px,#fdca26 75.5px,#fdcb26 76.5px,#fdc229 78.5px,#fdb22f 80.5px,#fdae32 81.5px,#fdae32 82.5px,#feba2c 84.5px,#fdc827 86.5px,#fdcb26 87.5px,#fdca26 88.5px,#fdb22f 91.5px,#fca934 93.5px,#fca934 97.5px,#feba2c 106.5px,#feba2c 112.5px,#fca835 123.5px,#fdac33 126.5px,#fdca26 130.5px,#fdcb26 131.5px,#fdc229 133.5px,#fdb22f 135.5px,#fdae32 136.5px,#fdae32 137.5px,#feba2c 139.5px,#fdc827 141.5px,#fdcb26 142.5px,#fdca26 143.5px,#fdb22f 146.5px,#fca934 148.5px,#fca934 152.5px,#feba2c 161.5px,#feba2c 163px)"></i><i style="top:65px;height:1px;background:linear-gradient(90deg,#feba2c 0px,#fca835 13.5px,#fdab33 16.5px,#fdc627 20.5px,#fdca26 21.5px,#fdc827 22.5px,#fdb22f 25.5px,#fdae32 26.5px,#fdae32 27.5px,#feb82c 29.5px,#fdc827 31.5px,#fdca26 32.5px,#fec029 34.5px,#fdab33 37.5px,#fca835 40.5px,#feba2c 53.5px,#feb72d 58.5px,#fca835 68.5px,#fdab33 71.5px,#fdc627 75.5px,#fdca26 76.5px,#fdc827 77.5px,#fdb22f 80.5px,#fdae32 81.5px,#fdae32 82.5px,#feb82c 84.5px,#fdc827 86.5px,#fdca26 87.5px,#fec029 89.5px,#fdab33 92.5px,#fca835 95.5px,#feba2c 108.5px,#feb72d 113.5px,#fca835 123.5px,#fdab33 126.5px,#fdc627 130.5px,#fdca26 131.5px,#fdc827 132.5px,#fdb22f 135.5px,#fdae32 136.5px,#fdae32 137.5px,#feb82c 139.5px,#fdc827 141.5px,#fdca26 142.5px,#fec029 144.5px,#fdab33 147.5px,#fca835 150.5px,#feba2c 163px)"></i><i style="top:66px;height:1px;background:linear-gradient(90deg,#feba2c 0px,#fca636 14.5px,#fdae32 17.5px,#fdc527 20.5px,#fdc827 21.5px,#fdc627 22.5px,#fdae32 26.5px,#fdae32 27.5px,#fdc627 31.5px,#fdc827 32.5px,#fdc527 33.5px,#fdae32 36.5px,#fca636 39.5px,#feba2c 53.5px,#fdb42f 60.5px,#fca636 69.5px,#fdae32 72.5px,#fdc527 75.5px,#fdc827 76.5px,#fdc627 77.5px,#fdae32 81.5px,#fdae32 82.5px,#fdc627 86.5px,#fdc827 87.5px,#fdc527 88.5px,#fdae32 91.5px,#fca636 94.5px,#feba2c 108.5px,#fdb42f 115.5px,#fca636 124.5px,#fdae32 127.5px,#fdc527 130.5px,#fdc827 131.5px,#fdc627 132.5px,#fdae32 136.5px,#fdae32 137.5px,#fdc627 141.5px,#fdc827 142.5px,#fdc527 143.5px,#fca934 147.5px,#fca636 150.5px,#feb82c 163px)"></i><i style="top:67px;height:1px;background:linear-gradient(90deg,#feb82c 0px,#fca636 13.5px,#fca835 16.5px,#feba2c 19.5px,#fdc627 21.5px,#fec029 23.5px,#fdb130 25.5px,#fdae32 27.5px,#fdb130 28.5px,#fdc527 31.5px,#fdc627 32.5px,#fca835 37.5px,#fca835 42.5px,#feb82c 53.5px,#fdb52e 58.5px,#fca636 68.5px,#fca835 71.5px,#feba2c 74.5px,#fdc627 76.5px,#fec029 78.5px,#fdb130 80.5px,#fdae32 82.5px,#fdb130 83.5px,#fdc527 86.5px,#fdc627 87.5px,#fca835 92.5px,#fca835 97.5px,#feb82c 108.5px,#fdb52e 113.5px,#fca636 123.5px,#fca835 126.5px,#feba2c 129.5px,#fdc627 131.5px,#fec029 133.5px,#fdb130 135.5px,#fdae32 137.5px,#fdb130 138.5px,#fdc527 141.5px,#fdc627 142.5px,#febb2b 144.5px,#fdac33 146.5px,#fca636 148.5px,#fdab33 154.5px,#feb82c 163px)"></i><i style="top:68px;height:1px;background:linear-gradient(90deg,#feb82c 0px,#fca537 14.5px,#fca636 16.5px,#fdc328 21.5px,#fdc328 22.5px,#fdb130 25.5px,#fdae32 27.5px,#fdb130 28.5px,#fdc328 31.5px,#fdc328 32.5px,#fca636 37.5px,#fca636 41.5px,#feb82c 53.5px,#fdb22f 60.5px,#fca537 69.5px,#fca636 71.5px,#fdc328 76.5px,#fdc328 77.5px,#fdb130 80.5px,#fdae32 82.5px,#fdb130 83.5px,#fdc328 86.5px,#fdc328 87.5px,#fca636 92.5px,#fca636 96.5px,#feb82c 108.5px,#fdb22f 115.5px,#fca537 124.5px,#fca636 126.5px,#fdc328 131.5px,#fdc328 132.5px,#fdb130 135.5px,#fdae32 137.5px,#fdb130 138.5px,#fdc328 141.5px,#fdc328 142.5px,#fca636 147.5px,#fca636 151.5px,#feb72d 163px)"></i><i style="top:69px;height:1px;background:linear-gradient(90deg,#feb72d 0px,#fca537 14.5px,#fca934 17.5px,#fdb52e 19.5px,#fdc229 21.5px,#febe2a 23.5px,#fdac33 26.5px,#fdac33 27.5px,#febe2a 30.5px,#fdc229 32.5px,#fca934 36.5px,#fca537 39.5px,#feb72d 53.5px,#fdb42f 58.5px,#fca537 69.5px,#fca934 72.5px,#fdb52e 74.5px,#fdc229 76.5px,#febe2a 78.5px,#fdac33 81.5px,#fdac33 82.5px,#febe2a 85.5px,#fdc229 87.5px,#fca934 91.5px,#fca537 94.5px,#feb72d 108.5px,#fdb42f 113.5px,#fca537 124.5px,#fca934 127.5px,#fdb52e 129.5px,#fdc229 131.5px,#febe2a 133.5px,#fdac33 136.5px,#fdac33 137.5px,#febe2a 140.5px,#fdc229 142.5px,#fca934 146.5px,#fca537 149.5px,#feb72d 163px)"></i><i style="top:70px;height:1px;background:linear-gradient(90deg,#fdb52e 0px,#fdb130 5.5px,#fca338 14.5px,#fca636 17.5px,#febe2a 21.5px,#fec029 22.5px,#fdac33 26.5px,#fdac33 27.5px,#fec029 31.5px,#feba2c 33.5px,#fca636 36.5px,#fca338 39.5px,#fdb52e 52.5px,#fdb22f 59.5px,#fca338 69.5px,#fca636 72.5px,#febe2a 76.5px,#fec029 77.5px,#fdac33 81.5px,#fdac33 82.5px,#fec029 86.5px,#feba2c 88.5px,#fca636 91.5px,#fca338 94.5px,#fdb52e 107.5px,#fdb22f 114.5px,#fca338 124.5px,#fca636 127.5px,#febe2a 131.5px,#fec029 132.5px,#fdac33 136.5px,#fdac33 137.5px,#fec029 141.5px,#feba2c 143.5px,#fca636 146.5px,#fca338 149.5px,#fdb52e 163px)"></i><i style="top:71px;height:1px;background:linear-gradient(90deg,#fdb42f 0px,#fdaf31 5.5px,#fca338 13.5px,#fca338 16.5px,#fca934 18.5px,#febd2a 21.5px,#febe2a 22.5px,#fdac33 26.5px,#fdaf31 28.5px,#febe2a 31.5px,#febd2a 32.5px,#fca537 36.5px,#fca338 39.5px,#fdab33 45.5px,#fdb42f 52.5px,#fdb42f 57.5px,#fca338 68.5px,#fca338 71.5px,#fca934 73.5px,#febd2a 76.5px,#febe2a 77.5px,#fdac33 81.5px,#fdaf31 83.5px,#febe2a 86.5px,#febd2a 87.5px,#fca537 91.5px,#fca338 94.5px,#fdab33 100.5px,#fdb42f 107.5px,#fdb42f 112.5px,#fca338 123.5px,#fca338 126.5px,#fca934 128.5px,#febd2a 131.5px,#febe2a 132.5px,#fdac33 136.5px,#fdaf31 138.5px,#febe2a 141.5px,#febd2a 142.5px,#fca537 146.5px,#fca338 149.5px,#fdab33 155.5px,#fdb42f 163px)"></i><i style="top:72px;height:1px;background:linear-gradient(90deg,#fdb42f 0px,#fba238 14.5px,#fca338 17.5px,#febd2a 22.5px,#fdab33 26.5px,#fdab33 27.5px,#febd2a 31.5px,#fdae32 34.5px,#fca338 36.5px,#fca338 41.5px,#fdb42f 53.5px,#fdae32 60.5px,#fba238 69.5px,#fca338 72.5px,#febd2a 77.5px,#fdab33 81.5px,#fdab33 82.5px,#febd2a 86.5px,#fdae32 89.5px,#fca338 91.5px,#fca338 96.5px,#fdb42f 108.5px,#fdae32 115.5px,#fba238 124.5px,#fca338 127.5px,#febd2a 132.5px,#fdab33 136.5px,#fdab33 137.5px,#febd2a 141.5px,#fdae32 144.5px,#fca338 146.5px,#fca338 151.5px,#fdb22f 163px)"></i><i style="top:73px;height:1px;background:linear-gradient(90deg,#fdb22f 0px,#fca934 7.5px,#fba139 15.5px,#fba238 17.5px,#fdab33 19.5px,#feb82c 21.5px,#feba2c 23.5px,#fdae32 25.5px,#fdab33 27.5px,#fdb42f 29.5px,#feba2c 30.5px,#feb82c 32.5px,#fca636 35.5px,#fba238 36.5px,#fba238 40.5px,#fdb22f 53.5px,#fdaf31 58.5px,#fba139 70.5px,#fba238 72.5px,#fdab33 74.5px,#feb82c 76.5px,#feba2c 78.5px,#fdae32 80.5px,#fdab33 82.5px,#fdb42f 84.5px,#feba2c 85.5px,#feb82c 87.5px,#fca636 90.5px,#fba238 91.5px,#fba238 95.5px,#fdb22f 108.5px,#fdaf31 113.5px,#fba139 125.5px,#fba238 127.5px,#fdab33 129.5px,#feb82c 131.5px,#feba2c 133.5px,#fdae32 135.5px,#fdab33 137.5px,#fdb42f 139.5px,#feba2c 140.5px,#feb82c 142.5px,#fca636 145.5px,#fba238 146.5px,#fba238 150.5px,#fdb22f 163px)"></i><i style="top:74px;height:1px;background:linear-gradient(90deg,#fdb130 0px,#fca636 9.5px,#fba139 16.5px,#fca338 18.5px,#fdb52e 21.5px,#feb82c 23.5px,#fca934 26.5px,#fca934 27.5px,#feb82c 30.5px,#fdb52e 32.5px,#fca338 35.5px,#fba139 39.5px,#fdb130 53.5px,#fdac33 60.5px,#fba139 69.5px,#fca338 73.5px,#fdb52e 76.5px,#feb82c 78.5px,#fca934 81.5px,#fca934 82.5px,#feb82c 85.5px,#fdb52e 87.5px,#fca338 90.5px,#fba139 94.5px,#fdb130 108.5px,#fdac33 115.5px,#fba139 124.5px,#fca338 128.5px,#fdb52e 131.5px,#feb82c 133.5px,#fdab33 136.5px,#fca934 137.5px,#feb82c 140.5px,#fdb52e 142.5px,#fca338 145.5px,#fba139 149.5px,#fdb130 163px)"></i><i style="top:75px;height:1px;background:linear-gradient(90deg,#fdaf31 0px,#fca537 9.5px,#fb9f3a 16.5px,#fca636 19.5px,#feb72d 22.5px,#fdb22f 24.5px,#fca934 26.5px,#fdac33 28.5px,#fdb52e 30.5px,#feb72d 31.5px,#fba238 35.5px,#fb9f3a 38.5px,#fdaf31 53.5px,#fdab33 60.5px,#fb9f3a 70.5px,#fba238 73.5px,#feb72d 77.5px,#fdb22f 79.5px,#fca934 81.5px,#fdac33 83.5px,#fdb52e 85.5px,#feb72d 86.5px,#fba238 90.5px,#fb9f3a 93.5px,#fdaf31 108.5px,#fdab33 115.5px,#fb9f3a 125.5px,#fba238 128.5px,#feb72d 132.5px,#fdb22f 134.5px,#fca934 136.5px,#fdac33 138.5px,#fdb52e 140.5px,#feb72d 141.5px,#fba238 145.5px,#fb9f3a 148.5px,#fdaf31 163px)"></i><i style="top:76px;height:1px;background:linear-gradient(90deg,#fdae32 0px,#fa9e3b 16.5px,#fca338 19.5px,#fdb42f 22.5px,#fdb130 24.5px,#fca835 26.5px,#fdab33 28.5px,#fdb42f 30.5px,#fdb42f 31.5px,#fba139 35.5px,#fa9e3b 38.5px,#fdae32 53.5px,#fca934 60.5px,#fa9e3b 71.5px,#fca338 74.5px,#fdb42f 77.5px,#fdb130 79.5px,#fca835 81.5px,#fdab33 83.5px,#fdb42f 85.5px,#fdb42f 86.5px,#fba139 90.5px,#fa9e3b 93.5px,#fdae32 108.5px,#fca934 115.5px,#fa9e3b 126.5px,#fca338 129.5px,#fdb42f 132.5px,#fdb130 134.5px,#fca835 136.5px,#fdab33 138.5px,#fdb42f 140.5px,#fdb42f 141.5px,#fba139 145.5px,#fa9e3b 148.5px,#fdae32 163px)"></i><i style="top:77px;height:1px;background:linear-gradient(90deg,#fdac33 0px,#fca636 6.5px,#fa9c3c 16.5px,#fba238 19.5px,#fdb130 22.5px,#fdb22f 23.5px,#fca636 26.5px,#fca636 27.5px,#fdb22f 30.5px,#fdac33 32.5px,#fb9f3a 35.5px,#fa9e3b 38.5px,#fdac33 53.5px,#fca934 59.5px,#fa9c3c 71.5px,#fba238 74.5px,#fdb130 77.5px,#fdb22f 78.5px,#fca636 81.5px,#fca636 82.5px,#fdb22f 85.5px,#fdac33 87.5px,#fb9f3a 90.5px,#fa9e3b 93.5px,#fdac33 108.5px,#fca934 114.5px,#fa9c3c 126.5px,#fba238 129.5px,#fdb130 132.5px,#fdb22f 133.5px,#fca636 136.5px,#fca636 137.5px,#fdb22f 140.5px,#fdac33 142.5px,#fb9f3a 145.5px,#fa9e3b 148.5px,#fdac33 163px)"></i><i style="top:78px;height:1px;background:linear-gradient(90deg,#fdab33 0px,#fba238 9.5px,#fa9c3c 16.5px,#fb9f3a 19.5px,#fdae32 22.5px,#fdaf31 23.5px,#fca537 26.5px,#fca537 27.5px,#fdaf31 30.5px,#fca934 32.5px,#fa9c3c 35.5px,#fb9f3a 42.5px,#fdab33 52.5px,#fca934 58.5px,#fa9c3c 70.5px,#fa9c3c 73.5px,#fdae32 77.5px,#fdaf31 78.5px,#fca537 81.5px,#fca537 82.5px,#fdaf31 85.5px,#fca934 87.5px,#fa9c3c 90.5px,#fb9f3a 97.5px,#fdab33 107.5px,#fca934 113.5px,#fa9c3c 125.5px,#fa9c3c 128.5px,#fdae32 132.5px,#fdaf31 133.5px,#fca537 136.5px,#fca537 137.5px,#fdaf31 140.5px,#fca934 142.5px,#fa9c3c 145.5px,#fb9f3a 152.5px,#fdab33 163px)"></i><i style="top:79px;height:1px;background:linear-gradient(90deg,#fdab33 0px,#fa9b3d 16.5px,#fa9e3b 19.5px,#fdab33 22.5px,#fdab33 24.5px,#fca537 27.5px,#fdac33 30.5px,#fca636 32.5px,#fa9b3d 35.5px,#fba139 44.5px,#fdab33 54.5px,#fa9b3d 71.5px,#fa9e3b 74.5px,#fdab33 77.5px,#fdab33 79.5px,#fca537 82.5px,#fdac33 85.5px,#fca636 87.5px,#fa9b3d 90.5px,#fba139 99.5px,#fdab33 109.5px,#fa9b3d 126.5px,#fa9e3b 129.5px,#fdab33 132.5px,#fdab33 134.5px,#fca537 137.5px,#fdac33 140.5px,#fca636 142.5px,#fa9b3d 145.5px,#fba139 154.5px,#fca934 163px)"></i><i style="top:80px;height:1px;background:linear-gradient(90deg,#fca934 0px,#f99a3e 16.5px,#fa9b3d 19.5px,#fdab33 23.5px,#fca338 27.5px,#fdab33 30.5px,#fa9b3d 34.5px,#fa9b3d 40.5px,#fca934 53.5px,#fba238 62.5px,#f99a3e 72.5px,#fa9b3d 74.5px,#fdab33 78.5px,#fca338 82.5px,#fdab33 85.5px,#fa9b3d 89.5px,#fa9b3d 95.5px,#fca934 108.5px,#fba238 117.5px,#f99a3e 127.5px,#fa9b3d 129.5px,#fdab33 133.5px,#fca338 137.5px,#fdab33 140.5px,#fa9b3d 144.5px,#fa9b3d 150.5px,#fca835 163px)"></i><i style="top:81px;height:1px;background:linear-gradient(90deg,#fca835 0px,#f9983e 17.5px,#fa9c3c 20.5px,#fca835 23.5px,#fba238 27.5px,#fca835 30.5px,#f99a3e 34.5px,#f99a3e 39.5px,#fca835 54.5px,#fa9c3c 66.5px,#f9983e 73.5px,#fba139 76.5px,#fca835 78.5px,#fba238 82.5px,#fca835 85.5px,#f99a3e 89.5px,#f99a3e 94.5px,#fca835 109.5px,#fa9c3c 121.5px,#f9983e 128.5px,#fba139 131.5px,#fca835 133.5px,#fba238 137.5px,#fca835 140.5px,#f99a3e 144.5px,#f99a3e 149.5px,#fca636 163px)"></i><i style="top:82px;height:1px;background:linear-gradient(90deg,#fca636 0px,#f9973f 17.5px,#f99a3e 20.5px,#fca537 23.5px,#fba139 27.5px,#fca537 30.5px,#f9983e 34.5px,#f9983e 39.5px,#fca636 54.5px,#fa9b3d 66.5px,#f9973f 73.5px,#fa9e3b 76.5px,#fca537 78.5px,#fba139 82.5px,#fca537 85.5px,#f9983e 89.5px,#f9983e 94.5px,#fca636 109.5px,#fa9b3d 121.5px,#f9973f 128.5px,#fa9e3b 131.5px,#fca537 133.5px,#fba139 137.5px,#fca537 140.5px,#f9983e 144.5px,#f9983e 149.5px,#fca537 163px)"></i><i style="top:83px;height:1px;background:linear-gradient(90deg,#fca338 0px,#f89540 18.5px,#fa9b3d 21.5px,#fba238 23.5px,#fa9e3b 27.5px,#fba238 30.5px,#f89540 34.5px,#fa9b3d 43.5px,#fca338 53.5px,#fba139 60.5px,#f89540 72.5px,#f9983e 75.5px,#fba238 78.5px,#fa9e3b 82.5px,#fba238 85.5px,#f89540 89.5px,#fa9b3d 98.5px,#fca338 108.5px,#fba139 115.5px,#f89540 127.5px,#f9983e 130.5px,#fba238 133.5px,#fa9e3b 137.5px,#fba238 140.5px,#f89540 144.5px,#fa9b3d 153.5px,#fca338 163px)"></i><i style="top:84px;height:1px;background:linear-gradient(90deg,#fba238 0px,#f89441 18.5px,#f9983e 21.5px,#fba139 24.5px,#fa9c3c 27.5px,#fba139 29.5px,#f89441 34.5px,#f99a3e 43.5px,#fba238 54.5px,#f99a3e 65.5px,#f89441 74.5px,#fba139 79.5px,#fa9c3c 82.5px,#fba139 84.5px,#f89441 89.5px,#f99a3e 98.5px,#fba238 109.5px,#f99a3e 120.5px,#f89441 129.5px,#fba139 134.5px,#fa9c3c 137.5px,#fba139 139.5px,#f89441 144.5px,#f99a3e 153.5px,#fba238 163px)"></i><i style="top:85px;height:1px;background:linear-gradient(90deg,#fba139 0px,#f79342 18.5px,#f89540 21.5px,#fa9e3b 24.5px,#fa9b3d 27.5px,#fa9c3c 30.5px,#f89441 33.5px,#f89441 39.5px,#fba139 53.5px,#fa9b3d 62.5px,#f79342 73.5px,#f89540 76.5px,#fa9e3b 79.5px,#fa9b3d 82.5px,#fa9c3c 85.5px,#f89441 88.5px,#f89441 94.5px,#fba139 108.5px,#fa9b3d 117.5px,#f79342 128.5px,#f89540 131.5px,#fa9e3b 134.5px,#fa9b3d 137.5px,#fa9c3c 140.5px,#f89441 143.5px,#f89441 149.5px,#fba139 163px)"></i><i style="top:86px;height:1px;background:linear-gradient(90deg,#fb9f3a 0px,#f79143 18.5px,#f89441 21.5px,#fa9b3d 24.5px,#f99a3e 30.5px,#f79143 33.5px,#f89441 40.5px,#fb9f3a 54.5px,#f79143 73.5px,#f89441 76.5px,#fa9b3d 79.5px,#f99a3e 85.5px,#f79143 88.5px,#f89441 95.5px,#fb9f3a 109.5px,#f79143 128.5px,#f89441 131.5px,#fa9b3d 134.5px,#f99a3e 140.5px,#f79143 143.5px,#f89441 150.5px,#fa9e3b 163px)"></i><i style="top:87px;height:1px;background:linear-gradient(90deg,#fa9e3b 0px,#f68f44 19.5px,#f9983e 25.5px,#f9973f 30.5px,#f68f44 34.5px,#fa9e3b 54.5px,#f68f44 74.5px,#f9983e 80.5px,#f9973f 85.5px,#f68f44 89.5px,#fa9e3b 109.5px,#f68f44 129.5px,#f9983e 135.5px,#f9973f 140.5px,#f68f44 144.5px,#fa9c3c 163px)"></i><i style="top:88px;height:1px;background:linear-gradient(90deg,#fa9b3d 0px,#f68d45 20.5px,#f9973f 25.5px,#f9973f 29.5px,#f68d45 33.5px,#fa9c3c 54.5px,#f68d45 75.5px,#f9973f 80.5px,#f9973f 84.5px,#f68d45 88.5px,#fa9c3c 109.5px,#f68d45 130.5px,#f9973f 135.5px,#f9973f 139.5px,#f68d45 143.5px,#fa9b3d 163px)"></i><i style="top:89px;height:1px;background:linear-gradient(90deg,#f99a3e 0px,#f58c46 20.5px,#f89441 25.5px,#f89441 29.5px,#f58c46 33.5px,#f99a3e 54.5px,#f89441 63.5px,#f58c46 75.5px,#f89441 80.5px,#f89441 84.5px,#f58c46 88.5px,#f99a3e 109.5px,#f89441 118.5px,#f58c46 130.5px,#f89441 135.5px,#f89441 139.5px,#f58c46 143.5px,#f99a3e 163px)"></i><i style="top:90px;height:1px;background:linear-gradient(90deg,#f9983e 0px,#f48948 20.5px,#f79143 25.5px,#f68f44 30.5px,#f48948 34.5px,#f9983e 54.5px,#f48948 75.5px,#f79143 80.5px,#f68f44 85.5px,#f48948 89.5px,#f9983e 109.5px,#f48948 130.5px,#f79143 135.5px,#f68f44 140.5px,#f48948 144.5px,#f9973f 163px)"></i><i style="top:91px;height:1px;background:linear-gradient(90deg,#f89540 0px,#f48849 21.5px,#f68d45 25.5px,#f68d45 29.5px,#f48849 33.5px,#f89540 54.5px,#f68f44 65.5px,#f48849 76.5px,#f68d45 80.5px,#f68d45 84.5px,#f48849 88.5px,#f89540 109.5px,#f68f44 120.5px,#f48849 131.5px,#f68d45 135.5px,#f68d45 139.5px,#f48849 143.5px,#f89540 163px)"></i><i style="top:92px;height:1px;background:linear-gradient(90deg,#f79342 0px,#f68d45 9.5px,#f3854b 22.5px,#f58b47 26.5px,#f48849 30.5px,#f3854b 34.5px,#f79342 52.5px,#f79044 61.5px,#f3854b 76.5px,#f58b47 82.5px,#f3854b 88.5px,#f79342 108.5px,#f68f44 118.5px,#f3854b 131.5px,#f58b47 137.5px,#f3854b 143.5px,#f79342 163px)"></i><i style="top:93px;height:1px;background:linear-gradient(90deg,#f79143 0px,#f1834c 22.5px,#f48849 26.5px,#f2844b 30.5px,#f2844b 35.5px,#f79143 55.5px,#f1834c 77.5px,#f48849 81.5px,#f2844b 85.5px,#f2844b 90.5px,#f79143 110.5px,#f1834c 132.5px,#f48849 136.5px,#f2844b 140.5px,#f2844b 145.5px,#f79143 163px)"></i><i style="top:94px;height:1px;background:linear-gradient(90deg,#f68f44 0px,#f0804e 22.5px,#f3854b 27.5px,#f0804e 33.5px,#f68f44 53.5px,#f48948 65.5px,#f0804e 77.5px,#f3854b 82.5px,#f0804e 88.5px,#f68f44 108.5px,#f48948 120.5px,#f0804e 132.5px,#f3854b 137.5px,#f0804e 143.5px,#f68f44 163px)"></i><i style="top:95px;height:1px;background:linear-gradient(90deg,#f68d45 0px,#ef7e50 22.5px,#f1834c 27.5px,#ef7e50 32.5px,#f68d45 54.5px,#ef7e50 77.5px,#f1834c 82.5px,#ef7e50 87.5px,#f68d45 109.5px,#ef7e50 132.5px,#f1834c 137.5px,#ef7e50 142.5px,#f58c46 163px)"></i><i style="top:96px;height:1px;background:linear-gradient(90deg,#f58b47 0px,#f1814d 14.5px,#ef7c51 23.5px,#f07f4f 28.5px,#ef7c51 32.5px,#f58b47 52.5px,#f3874a 63.5px,#ee7b51 77.5px,#f07f4f 83.5px,#ef7c51 87.5px,#f58b47 107.5px,#f3874a 118.5px,#ee7b51 132.5px,#f07f4f 138.5px,#ef7c51 142.5px,#f58b47 163px)"></i><i style="top:97px;height:1px;background:linear-gradient(90deg,#f48948 0px,#ef7e50 16.5px,#ed7a52 23.5px,#ef7c51 28.5px,#ed7a52 33.5px,#f48849 50.5px,#f3874a 61.5px,#ed7a52 77.5px,#ee7b51 84.5px,#ee7b51 89.5px,#f48849 106.5px,#f3874a 116.5px,#ed7a52 132.5px,#ee7b51 139.5px,#ee7b51 144.5px,#f48849 161.5px,#f48849 163px)"></i><i style="top:98px;height:1px;background:linear-gradient(90deg,#f3874a 0px,#ef7e50 14.5px,#ec7754 24.5px,#ed7953 28.5px,#ed7a52 35.5px,#f3874a 51.5px,#f1834c 64.5px,#ec7754 77.5px,#ed7953 83.5px,#ed7a52 90.5px,#f3874a 106.5px,#f1834c 119.5px,#ec7754 132.5px,#ed7953 138.5px,#ed7a52 145.5px,#f3874a 161.5px,#f3874a 163px)"></i><i style="top:99px;height:1px;background:linear-gradient(90deg,#f3854b 0px,#ee7b51 15.5px,#eb7556 24.5px,#eb7655 28.5px,#ec7754 34.5px,#f2844b 50.5px,#f1834c 61.5px,#eb7556 79.5px,#eb7655 83.5px,#ec7754 89.5px,#f2844b 106.5px,#f1834c 116.5px,#eb7556 134.5px,#eb7655 138.5px,#ec7754 144.5px,#f2844b 161.5px,#f2844b 163px)"></i><i style="top:100px;height:1px;background:linear-gradient(90deg,#f1834c 0px,#ed7a52 14.5px,#e97257 24.5px,#ea7457 28.5px,#eb7556 34.5px,#f1834c 51.5px,#f0804e 62.5px,#e97257 79.5px,#ea7457 83.5px,#eb7556 89.5px,#f1834c 106.5px,#f0804e 117.5px,#e97257 134.5px,#ea7457 138.5px,#eb7556 144.5px,#f1834c 161.5px,#f1834c 163px)"></i><i style="top:101px;height:1px;background:linear-gradient(90deg,#f1814d 0px,#eb7655 16.5px,#e87059 24.5px,#e97257 33.5px,#f0804e 50.5px,#f07f4f 61.5px,#e87059 79.5px,#e97257 88.5px,#f0804e 105.5px,#f07f4f 116.5px,#e87059 134.5px,#e97257 143.5px,#f0804e 160.5px,#f0804e 163px)"></i><i style="top:102px;height:1px;background:linear-gradient(90deg,#f07f4f 0px,#ed7953 12.5px,#e76e5b 24.5px,#e97158 34.5px,#ef7e50 48.5px,#ef7e50 60.5px,#e76e5b 79.5px,#e97158 89.5px,#ef7e50 103.5px,#ef7e50 115.5px,#e76e5b 134.5px,#e97158 144.5px,#ef7e50 158.5px,#f07f4f 163px)"></i><i style="top:103px;height:1px;background:linear-gradient(90deg,#ef7e50 0px,#eb7556 14.5px,#e66c5c 24.5px,#e76f5a 34.5px,#ee7b51 47.5px,#ef7c51 59.5px,#e97158 72.5px,#e66c5c 80.5px,#e76f5a 89.5px,#ee7b51 102.5px,#ef7c51 114.5px,#e97158 127.5px,#e66c5c 135.5px,#e76f5a 144.5px,#ee7b51 157.5px,#ef7c51 163px)"></i><i style="top:104px;height:1px;background:linear-gradient(90deg,#ee7b51 0px,#eb7556 12.5px,#e56a5d 24.5px,#e66c5c 33.5px,#ed7a52 48.5px,#ed7a52 61.5px,#e56a5d 79.5px,#e66c5c 88.5px,#ed7a52 103.5px,#ed7a52 116.5px,#e56a5d 134.5px,#e66c5c 143.5px,#ed7a52 158.5px,#ee7b51 163px)"></i><i style="top:105px;height:1px;background:linear-gradient(90deg,#ed7953 0px,#ea7457 12.5px,#e3685f 24.5px,#e56a5d 33.5px,#ec7754 46.5px,#ed7953 59.5px,#e76e5b 72.5px,#e3685f 81.5px,#e56b5d 89.5px,#ec7754 102.5px,#ed7953 114.5px,#e76e5b 127.5px,#e3685f 136.5px,#e56b5d 144.5px,#ec7754 157.5px,#ed7953 163px)"></i><i style="top:106px;height:1px;background:linear-gradient(90deg,#ec7754 0px,#e97158 12.5px,#e26561 25.5px,#e4695e 33.5px,#eb7655 48.5px,#eb7655 61.5px,#e26561 80.5px,#e4695e 88.5px,#eb7655 103.5px,#eb7655 116.5px,#e26561 135.5px,#e4695e 143.5px,#eb7655 158.5px,#ec7754 163px)"></i><i style="top:107px;height:1px;background:linear-gradient(90deg,#eb7556 0px,#e97158 11.5px,#e06363 25.5px,#e26660 33.5px,#ea7457 46.5px,#ea7457 62.5px,#e06363 80.5px,#e26660 88.5px,#ea7457 101.5px,#ea7457 117.5px,#e06363 135.5px,#e26660 143.5px,#ea7457 156.5px,#eb7556 163px)"></i><i style="top:108px;height:1px;background:linear-gradient(90deg,#ea7457 0px,#e76e5b 13.5px,#de6164 26.5px,#e3685f 35.5px,#e97257 47.5px,#e97257 61.5px,#e26660 74.5px,#de6164 82.5px,#e97257 102.5px,#e97257 116.5px,#e26660 129.5px,#de6164 137.5px,#e97257 157.5px,#ea7457 163px)"></i><i style="top:109px;height:1px;background:linear-gradient(90deg,#e97158 0px,#e76e5b 11.5px,#dd5e66 26.5px,#e26561 35.5px,#e87059 46.5px,#e87059 63.5px,#dd5e66 81.5px,#e26561 90.5px,#e87059 101.5px,#e87059 118.5px,#dd5e66 136.5px,#e26561 145.5px,#e87059 156.5px,#e97158 163px)"></i><i style="top:110px;height:1px;background:linear-gradient(90deg,#e87059 0px,#e56b5d 12.5px,#dc5d67 24.5px,#dd5e66 30.5px,#e76f5a 46.5px,#e76f5a 62.5px,#db5c68 81.5px,#e16462 90.5px,#e76f5a 101.5px,#e76f5a 117.5px,#db5c68 136.5px,#e16462 145.5px,#e76f5a 156.5px,#e87059 163px)"></i><i style="top:111px;height:1px;background:linear-gradient(90deg,#e76e5b 0px,#e4695e 13.5px,#da5b69 25.5px,#dd5e66 32.5px,#e66c5c 45.5px,#e66c5c 63.5px,#da5b69 81.5px,#de5f65 88.5px,#e66c5c 100.5px,#e66c5c 118.5px,#da5b69 136.5px,#de5f65 143.5px,#e66c5c 155.5px,#e76e5b 163px)"></i><i style="top:112px;height:1px;background:linear-gradient(90deg,#e66c5c 0px,#e3685f 12.5px,#d9586a 25.5px,#dc5d67 33.5px,#e56a5d 44.5px,#e66c5c 59.5px,#e06363 71.5px,#d9586a 81.5px,#dc5d67 88.5px,#e56a5d 99.5px,#e66c5c 114.5px,#e06363 126.5px,#d9586a 136.5px,#dc5d67 143.5px,#e56a5d 154.5px,#e66c5c 163px)"></i><i style="top:113px;height:1px;background:linear-gradient(90deg,#e56b5d 0px,#e26561 13.5px,#d8576b 25.5px,#da5b69 32.5px,#e4695e 44.5px,#e56a5d 62.5px,#da5a6a 77.5px,#d8576b 84.5px,#e4695e 99.5px,#e56a5d 117.5px,#da5a6a 132.5px,#d8576b 139.5px,#e4695e 154.5px,#e56b5d 163px)"></i><i style="top:114px;height:1px;background:linear-gradient(90deg,#e56a5d 0px,#e16462 13.5px,#d6556d 26.5px,#dc5d67 35.5px,#e3685f 45.5px,#e4695e 60.5px,#de5f65 72.5px,#d6556d 81.5px,#dc5d67 90.5px,#e3685f 100.5px,#e4695e 115.5px,#de5f65 127.5px,#d6556d 136.5px,#dc5d67 145.5px,#e3685f 155.5px,#e56a5d 163px)"></i><i style="top:115px;height:1px;background:linear-gradient(90deg,#e4695e 0px,#e06363 13.5px,#d5546e 25.5px,#d8576b 32.5px,#e26660 44.5px,#e3685f 60.5px,#de5f65 71.5px,#d5546e 80.5px,#d8576b 87.5px,#e26660 99.5px,#e3685f 115.5px,#de5f65 126.5px,#d5546e 135.5px,#d8576b 142.5px,#e26660 154.5px,#e4695e 163px)"></i><i style="top:116px;height:1px;background:linear-gradient(90deg,#e4695e 0px,#de6164 14.5px,#d45270 26.5px,#d9586a 34.5px,#e26561 44.5px,#e4695e 57.5px,#de5f65 70.5px,#d45270 81.5px,#d9586a 89.5px,#e26561 99.5px,#e4695e 112.5px,#de5f65 125.5px,#d45270 136.5px,#d9586a 144.5px,#e26561 154.5px,#e4695e 163px)"></i><i style="top:117px;height:1px;background:linear-gradient(90deg,#e4695e 0px,#de5f65 14.5px,#d24f71 25.5px,#d35171 30.5px,#df6263 42.5px,#e4695e 54.5px,#df6263 66.5px,#d24f71 80.5px,#d35171 85.5px,#df6263 97.5px,#e4695e 109.5px,#df6263 121.5px,#d24f71 135.5px,#d35171 140.5px,#df6263 152.5px,#e4695e 163px)"></i><i style="top:118px;height:1px;background:linear-gradient(90deg,#e56b5d 0px,#da5b69 16.5px,#d04d73 25.5px,#d14e72 30.5px,#de6164 42.5px,#e56b5d 53.5px,#e16462 63.5px,#d5546e 75.5px,#cf4c74 81.5px,#d45270 87.5px,#e06363 99.5px,#e56b5d 109.5px,#df6263 120.5px,#d35171 132.5px,#cf4c74 137.5px,#d6556d 144.5px,#e4695e 159.5px,#e56a5d 163px)"></i><i style="top:119px;height:1px;background:linear-gradient(90deg,#e76e5b 0px,#da5a6a 16.5px,#cd4a76 25.5px,#cf4c74 30.5px,#df6263 43.5px,#e76e5b 53.5px,#e56a5d 59.5px,#d45270 75.5px,#cd4a76 81.5px,#d24f71 87.5px,#df6263 98.5px,#e76e5b 108.5px,#e56a5d 114.5px,#d45270 130.5px,#cd4a76 136.5px,#d24f71 142.5px,#df6263 153.5px,#e76e5b 163px)"></i><i style="top:120px;height:1px;background:linear-gradient(90deg,#e97257 0px,#e56a5d 6.5px,#cf4c74 22.5px,#cc4778 27.5px,#d14e72 32.5px,#e97257 52.5px,#e87059 58.5px,#cf4c74 77.5px,#cc4778 82.5px,#d14e72 87.5px,#e97257 107.5px,#e87059 113.5px,#cf4c74 132.5px,#cc4778 137.5px,#d14e72 142.5px,#e97158 161.5px,#e97158 163px)"></i><i style="top:121px;height:1px;background:linear-gradient(90deg,#ed7953 0px,#e97158 5.5px,#da5b69 14.5px,#ca457a 25.5px,#cb4679 29.5px,#e56b5d 46.5px,#ed7953 52.5px,#ec7754 57.5px,#da5b69 69.5px,#ca457a 80.5px,#cb4679 84.5px,#e56b5d 101.5px,#ed7953 107.5px,#ec7754 112.5px,#da5b69 124.5px,#ca457a 135.5px,#cb4679 139.5px,#e56b5d 156.5px,#ed7953 163px)"></i><i style="top:122px;height:1px;background:linear-gradient(90deg,#f1814d 0px,#ec7754 5.5px,#dc5d67 13.5px,#c8437b 25.5px,#ca457a 29.5px,#e26561 43.5px,#ef7c51 50.5px,#f1814d 54.5px,#ef7c51 58.5px,#da5b69 69.5px,#c8437b 80.5px,#c9447a 84.5px,#e26561 98.5px,#ef7c51 105.5px,#f1814d 109.5px,#ef7c51 113.5px,#da5b69 124.5px,#c8437b 135.5px,#c9447a 139.5px,#e26561 153.5px,#ef7c51 160.5px,#f0804e 163px)"></i><i style="top:123px;height:1px;background:linear-gradient(90deg,#f58b47 0px,#f1834c 4.5px,#da5b69 14.5px,#c7427c 25.5px,#c8437b 29.5px,#df6263 41.5px,#f3854b 50.5px,#f58b47 54.5px,#f3854b 58.5px,#e76e5b 64.5px,#d9586a 70.5px,#c7427c 80.5px,#c8437b 84.5px,#df6263 96.5px,#f3854b 105.5px,#f58b47 109.5px,#f3854b 113.5px,#e76e5b 119.5px,#d9586a 125.5px,#c7427c 135.5px,#c8437b 139.5px,#df6263 151.5px,#f3854b 160.5px,#f48948 163px)"></i><i style="top:124px;height:1px;background:linear-gradient(90deg,#f89441 0px,#f58c46 4.5px,#ea7457 9.5px,#db5c68 14.5px,#c6417d 24.5px,#c5407e 28.5px,#d9586a 38.5px,#e76e5b 43.5px,#f48849 48.5px,#f79342 52.5px,#f79342 56.5px,#f48849 60.5px,#db5c68 69.5px,#c6417d 79.5px,#c5407e 83.5px,#d9586a 93.5px,#e76e5b 98.5px,#f48849 103.5px,#f79342 107.5px,#f79342 111.5px,#f48849 115.5px,#db5c68 124.5px,#c6417d 134.5px,#c5407e 138.5px,#d9586a 148.5px,#e76e5b 153.5px,#f48849 158.5px,#f79342 163px)"></i><i style="top:125px;height:1px;background:linear-gradient(90deg,#fa9c3c 0px,#f79143 5.5px,#eb7556 10.5px,#dd5e66 14.5px,#c7427c 23.5px,#c33d80 26.5px,#c5407e 29.5px,#da5a6a 38.5px,#e76e5b 42.5px,#f58c46 47.5px,#f99a3e 51.5px,#fa9c3c 55.5px,#f79143 60.5px,#eb7556 65.5px,#dd5e66 69.5px,#c7427c 78.5px,#c33d80 81.5px,#c5407e 84.5px,#dc5d67 94.5px,#f3874a 101.5px,#f89441 104.5px,#fa9c3c 108.5px,#f99a3e 112.5px,#f58c46 116.5px,#e06363 123.5px,#d35171 128.5px,#c33d80 135.5px,#c5407e 139.5px,#dc5d67 149.5px,#f3874a 156.5px,#f89441 159.5px,#fa9b3d 163px)"></i><i style="top:126px;height:1px;background:linear-gradient(90deg,#fba238 0px,#fa9c3c 4.5px,#f58b47 8.5px,#da5b69 15.5px,#c33d80 24.5px,#c23c81 28.5px,#d5536f 36.5px,#e26660 40.5px,#f58b47 45.5px,#fa9c3c 49.5px,#fba238 53.5px,#fb9f3a 58.5px,#f79044 62.5px,#e76e5b 67.5px,#d7566c 71.5px,#c23c81 80.5px,#c33d80 84.5px,#da5b69 93.5px,#ef7c51 98.5px,#f89540 102.5px,#fba139 106.5px,#fba139 112.5px,#f89540 116.5px,#ef7c51 120.5px,#da5b69 125.5px,#c33d80 134.5px,#c23c81 138.5px,#cf4c74 144.5px,#da5b69 148.5px,#ef7c51 153.5px,#f89540 157.5px,#fba139 161.5px,#fba238 163px)"></i><i style="top:127px;height:1px;background:linear-gradient(90deg,#fca636 0px,#fb9f3a 5.5px,#f68d45 9.5px,#dc5d67 15.5px,#cf4c74 19.5px,#c03a83 25.5px,#c03a83 28.5px,#d5536f 36.5px,#e16462 39.5px,#f68d45 44.5px,#fb9f3a 48.5px,#fca636 53.5px,#fca338 58.5px,#f9983e 62.5px,#f3854b 65.5px,#dd5e66 70.5px,#d24f71 73.5px,#c03a83 80.5px,#c03a83 83.5px,#d5536f 91.5px,#e16462 94.5px,#f68d45 99.5px,#fb9f3a 103.5px,#fca636 108.5px,#fca338 113.5px,#f9983e 117.5px,#f3854b 120.5px,#dd5e66 125.5px,#d24f71 128.5px,#c03a83 135.5px,#c03a83 138.5px,#d5536f 146.5px,#e16462 149.5px,#f68d45 154.5px,#fb9f3a 158.5px,#fca636 163px)"></i><i style="top:128px;height:1px;background:linear-gradient(90deg,#fca934 0px,#fca537 5.5px,#fa9b3d 8.5px,#f68f44 10.5px,#df6263 15.5px,#d24f71 18.5px,#bf3984 25.5px,#bf3984 28.5px,#d24f71 35.5px,#df6263 38.5px,#f68f44 43.5px,#fb9f3a 46.5px,#fca934 51.5px,#fca835 58.5px,#fb9f3a 62.5px,#f68f44 65.5px,#df6263 70.5px,#d24f71 73.5px,#bf3984 80.5px,#bf3984 83.5px,#d24f71 90.5px,#df6263 93.5px,#f68f44 98.5px,#fb9f3a 101.5px,#fca934 106.5px,#fca835 113.5px,#fb9f3a 117.5px,#f68f44 120.5px,#df6263 125.5px,#d24f71 128.5px,#bf3984 135.5px,#bf3984 138.5px,#d24f71 145.5px,#df6263 148.5px,#f68f44 153.5px,#fb9f3a 156.5px,#fca934 161.5px,#fca934 163px)"></i><i style="top:129px;height:1px;background:linear-gradient(90deg,#fdac33 0px,#fca636 6.5px,#fa9c3c 9.5px,#f3854b 12.5px,#dd5e66 16.5px,#ce4b75 19.5px,#bd3786 25.5px,#bd3786 28.5px,#ce4b75 34.5px,#dd5e66 37.5px,#f68f44 42.5px,#fba139 45.5px,#fdab33 50.5px,#fdab33 58.5px,#fba139 63.5px,#f68f44 66.5px,#dd5e66 71.5px,#ce4b75 74.5px,#bd3786 80.5px,#bd3786 83.5px,#ce4b75 89.5px,#dd5e66 92.5px,#f68f44 97.5px,#fba139 100.5px,#fdab33 105.5px,#fdab33 113.5px,#fba139 118.5px,#f68f44 121.5px,#dd5e66 126.5px,#ce4b75 129.5px,#bd3786 135.5px,#bd3786 138.5px,#ce4b75 144.5px,#dd5e66 147.5px,#f68f44 152.5px,#fba139 155.5px,#fdab33 160.5px,#fdab33 163px)"></i><i style="top:130px;height:1px;background:linear-gradient(90deg,#fdac33 0px,#fca636 7.5px,#fa9c3c 10.5px,#f68f44 12.5px,#e06363 16.5px,#cf4c74 19.5px,#be3885 24.5px,#bb3488 27.5px,#c43e7f 31.5px,#d45270 35.5px,#e76e5b 38.5px,#f68f44 41.5px,#fa9c3c 43.5px,#fca636 46.5px,#fdac33 53.5px,#fca934 60.5px,#fca537 63.5px,#f9973f 66.5px,#ed7953 69.5px,#da5a6a 72.5px,#cb4679 75.5px,#bc3587 80.5px,#bc3587 83.5px,#cb4679 88.5px,#da5a6a 91.5px,#f2844b 95.5px,#f9973f 97.5px,#fca537 100.5px,#fdac33 107.5px,#fca934 115.5px,#fca537 118.5px,#f9973f 121.5px,#ed7953 124.5px,#da5a6a 127.5px,#cb4679 130.5px,#bc3587 135.5px,#bc3587 138.5px,#cb4679 143.5px,#da5a6a 146.5px,#f2844b 150.5px,#f9973f 152.5px,#fca537 155.5px,#fdac33 163px)"></i><i style="top:131px;height:1px;background:linear-gradient(90deg,#fdac33 0px,#fca835 7.5px,#fba139 10.5px,#f89540 12.5px,#f1814d 14.5px,#d6556d 18.5px,#c7427c 21.5px,#bb3488 25.5px,#bb3488 28.5px,#c7427c 32.5px,#d6556d 35.5px,#f1814d 39.5px,#f89540 41.5px,#fca537 44.5px,#fdac33 51.5px,#fdab33 60.5px,#fca537 64.5px,#f89540 67.5px,#f1814d 69.5px,#d6556d 73.5px,#c7427c 76.5px,#bb3488 80.5px,#bb3488 83.5px,#c7427c 87.5px,#d6556d 90.5px,#f1814d 94.5px,#f89540 96.5px,#fca537 99.5px,#fdac33 106.5px,#fdab33 115.5px,#fca537 119.5px,#f89540 122.5px,#f1814d 124.5px,#d6556d 128.5px,#c7427c 131.5px,#bb3488 135.5px,#bb3488 138.5px,#c7427c 142.5px,#d6556d 145.5px,#e4695e 147.5px,#f68d45 150.5px,#fa9c3c 152.5px,#fca636 155.5px,#fdac33 163px)"></i><i style="top:132px;height:1px;background:linear-gradient(90deg,#fdac33 0px,#fca835 8.5px,#fba139 11.5px,#f89441 13.5px,#f07f4f 15.5px,#d9586a 18.5px,#c7427c 21.5px,#ba3388 25.5px,#ba3388 28.5px,#c7427c 32.5px,#d9586a 35.5px,#f07f4f 38.5px,#f89441 40.5px,#fba139 42.5px,#fdab33 47.5px,#fdab33 61.5px,#fba139 66.5px,#f89441 68.5px,#f07f4f 70.5px,#d9586a 73.5px,#c7427c 76.5px,#ba3388 80.5px,#ba3388 83.5px,#c7427c 87.5px,#d9586a 90.5px,#f07f4f 93.5px,#f89441 95.5px,#fba139 97.5px,#fdab33 102.5px,#fdab33 116.5px,#fba139 121.5px,#f89441 123.5px,#f07f4f 125.5px,#d9586a 128.5px,#c7427c 131.5px,#ba3388 135.5px,#ba3388 138.5px,#c7427c 142.5px,#d9586a 145.5px,#f07f4f 148.5px,#f89441 150.5px,#fba139 152.5px,#fdab33 157.5px,#fdac33 163px)"></i><i style="top:133px;height:1px;background:linear-gradient(90deg,#fdab33 0px,#fca835 9.5px,#fb9f3a 12.5px,#f79342 14.5px,#ed7a52 16.5px,#d5536f 19.5px,#c23c81 22.5px,#b6308b 26.5px,#be3885 30.5px,#cd4a76 33.5px,#dd5e66 35.5px,#f48849 38.5px,#f99a3e 40.5px,#fca636 43.5px,#fdab33 52.5px,#fca934 62.5px,#fca338 66.5px,#f79342 69.5px,#ed7a52 71.5px,#d5536f 74.5px,#c23c81 77.5px,#b6308b 81.5px,#be3885 85.5px,#cd4a76 88.5px,#dd5e66 90.5px,#f48849 93.5px,#f99a3e 95.5px,#fca636 98.5px,#fdab33 107.5px,#fca934 117.5px,#fca338 121.5px,#f79342 124.5px,#ed7a52 126.5px,#d5536f 129.5px,#c23c81 132.5px,#b6308b 136.5px,#be3885 140.5px,#cd4a76 143.5px,#dd5e66 145.5px,#f48849 148.5px,#f99a3e 150.5px,#fca636 153.5px,#fdab33 163px)"></i><i style="top:134px;height:1px;background:linear-gradient(90deg,#fca934 0px,#fca835 9.5px,#fba238 12.5px,#f9983e 14.5px,#f79044 15.5px,#ea7457 17.5px,#d7566c 19.5px,#c23c81 22.5px,#b6308b 25.5px,#b6308b 28.5px,#c8437b 32.5px,#d7566c 34.5px,#f1834c 37.5px,#f79044 38.5px,#fa9e3b 40.5px,#fca636 43.5px,#fca934 52.5px,#fca835 64.5px,#fba238 67.5px,#f9983e 69.5px,#f79044 70.5px,#ea7457 72.5px,#d8576b 74.5px,#c8437b 76.5px,#b6308b 80.5px,#b6308b 83.5px,#c8437b 87.5px,#d7566c 89.5px,#f1834c 92.5px,#f79044 93.5px,#fa9e3b 95.5px,#fca636 98.5px,#fca934 107.5px,#fca835 119.5px,#fba238 122.5px,#f9983e 124.5px,#f79044 125.5px,#e26561 128.5px,#cf4c74 130.5px,#c23c81 132.5px,#b6308b 135.5px,#b6308b 138.5px,#c8437b 142.5px,#d7566c 144.5px,#f1834c 147.5px,#f79044 148.5px,#fa9e3b 150.5px,#fca636 153.5px,#fca934 163px)"></i><i style="top:135px;height:1px;background:linear-gradient(90deg,#fca934 0px,#fca636 10.5px,#fba139 13.5px,#f89540 15.5px,#ef7c51 17.5px,#d14e72 20.5px,#c23c81 22.5px,#b52f8c 25.5px,#b52f8c 28.5px,#c23c81 31.5px,#d14e72 33.5px,#ef7c51 36.5px,#f89540 38.5px,#fba139 40.5px,#fca835 45.5px,#fca835 64.5px,#fba139 68.5px,#f89540 70.5px,#ef7e50 72.5px,#db5c68 74.5px,#c9447a 76.5px,#b83289 79.5px,#b42e8d 82.5px,#bd3786 85.5px,#c9447a 87.5px,#db5c68 89.5px,#ef7c51 91.5px,#f89540 93.5px,#fba139 95.5px,#fca835 100.5px,#fca835 119.5px,#fba139 123.5px,#f89540 125.5px,#ef7e50 127.5px,#d24f71 130.5px,#c23c81 132.5px,#b52f8c 135.5px,#b52f8c 138.5px,#c23c81 141.5px,#d14e72 143.5px,#ef7c51 146.5px,#f89540 148.5px,#fba139 150.5px,#fca835 155.5px,#fca934 163px)"></i><i style="top:136px;height:1px;background:linear-gradient(90deg,#fca835 0px,#fca537 11.5px,#fb9f3a 14.5px,#f79143 16.5px,#f3854b 17.5px,#d5546e 20.5px,#cb4679 21.5px,#bc3587 23.5px,#b22b8f 26.5px,#b7318a 29.5px,#c33d80 31.5px,#d5536f 33.5px,#eb7556 35.5px,#f3854b 36.5px,#f99a3e 38.5px,#fba238 40.5px,#fca636 45.5px,#fca636 65.5px,#fb9f3a 69.5px,#f79143 71.5px,#f3854b 72.5px,#d5546e 75.5px,#cb4679 76.5px,#bc3587 78.5px,#b22b8f 81.5px,#b7318a 84.5px,#c33d80 86.5px,#d5536f 88.5px,#eb7556 90.5px,#f3854b 91.5px,#f99a3e 93.5px,#fba238 95.5px,#fca636 100.5px,#fca636 120.5px,#fb9f3a 124.5px,#f79143 126.5px,#f3854b 127.5px,#d5546e 130.5px,#cb4679 131.5px,#bc3587 133.5px,#b22b8f 136.5px,#b7318a 139.5px,#c33d80 141.5px,#d5536f 143.5px,#eb7556 145.5px,#f3854b 146.5px,#f99a3e 148.5px,#fba238 150.5px,#fca636 155.5px,#fca835 163px)"></i><i style="top:137px;height:1px;background:linear-gradient(90deg,#fca636 0px,#fca338 12.5px,#fa9c3c 15.5px,#f68d45 17.5px,#f07f4f 18.5px,#cd4a76 21.5px,#bc3587 23.5px,#b12a90 26.5px,#b6308b 29.5px,#c43e7f 31.5px,#cd4a76 32.5px,#f07f4f 35.5px,#f68d45 36.5px,#fa9c3c 38.5px,#fca338 41.5px,#fca636 53.5px,#fca537 66.5px,#fba139 69.5px,#f9973f 71.5px,#f68d45 72.5px,#f07f4f 73.5px,#cd4a76 76.5px,#bc3587 78.5px,#b12a90 81.5px,#b6308b 84.5px,#c43e7f 86.5px,#cd4a76 87.5px,#f07f4f 90.5px,#f68d45 91.5px,#fa9c3c 93.5px,#fca338 96.5px,#fca636 108.5px,#fca537 121.5px,#fba139 124.5px,#f9973f 126.5px,#f68d45 127.5px,#f07f4f 128.5px,#cd4a76 131.5px,#bc3587 133.5px,#b12a90 136.5px,#b6308b 139.5px,#c43e7f 141.5px,#cd4a76 142.5px,#ef7e50 145.5px,#f68d45 146.5px,#fa9c3c 148.5px,#fca338 151.5px,#fca636 163px)"></i><i style="top:138px;height:1px;background:linear-gradient(90deg,#fca537 0px,#fca338 12.5px,#fb9f3a 15.5px,#fa9b3d 16.5px,#f3874a 18.5px,#eb7556 19.5px,#d14e72 21.5px,#bd3786 23.5px,#b22b8f 25.5px,#b02991 27.5px,#b6308b 29.5px,#c6417d 31.5px,#d14e72 32.5px,#eb7556 34.5px,#f3874a 35.5px,#fa9b3d 37.5px,#fba238 40.5px,#fca537 49.5px,#fca338 67.5px,#fb9f3a 70.5px,#fa9b3d 71.5px,#f3874a 73.5px,#eb7556 74.5px,#d14e72 76.5px,#bd3786 78.5px,#b22b8f 80.5px,#b02991 82.5px,#b6308b 84.5px,#c5407e 86.5px,#de6164 88.5px,#eb7556 89.5px,#f3874a 90.5px,#fa9b3d 92.5px,#fba238 95.5px,#fca537 104.5px,#fca338 122.5px,#fb9f3a 125.5px,#fa9b3d 126.5px,#f3874a 128.5px,#eb7556 129.5px,#d14e72 131.5px,#bd3786 133.5px,#b22b8f 135.5px,#b02991 137.5px,#b6308b 139.5px,#c5407e 141.5px,#de6164 143.5px,#eb7556 144.5px,#f3874a 145.5px,#fa9b3d 147.5px,#fba238 150.5px,#fca537 159.5px,#fca537 163px)"></i><i style="top:139px;height:1px;background:linear-gradient(90deg,#fca338 0px,#fba238 13.5px,#fa9c3c 16.5px,#f68d45 18.5px,#ef7e50 19.5px,#c8437b 22.5px,#bd3786 23.5px,#b12a90 25.5px,#ae2892 27.5px,#b52f8c 29.5px,#bd3786 30.5px,#c8437b 31.5px,#ef7e50 34.5px,#f68d45 35.5px,#fa9c3c 37.5px,#fca338 42.5px,#fba238 68.5px,#fa9c3c 71.5px,#f68d45 73.5px,#ef7e50 74.5px,#d6556d 76.5px,#c8437b 77.5px,#bd3786 78.5px,#b12a90 80.5px,#ae2892 82.5px,#b52f8c 84.5px,#bd3786 85.5px,#c8437b 86.5px,#e4695e 88.5px,#ef7e50 89.5px,#f68d45 90.5px,#fa9c3c 92.5px,#fca338 97.5px,#fba238 123.5px,#fa9c3c 126.5px,#f68d45 128.5px,#ef7e50 129.5px,#d6556d 131.5px,#c8437b 132.5px,#bd3786 133.5px,#b12a90 135.5px,#ae2892 137.5px,#b52f8c 139.5px,#bd3786 140.5px,#c8437b 141.5px,#e4695e 143.5px,#ef7e50 144.5px,#f68d45 145.5px,#fa9c3c 147.5px,#fca338 152.5px,#fca338 163px)"></i><i style="top:140px;height:1px;background:linear-gradient(90deg,#fba238 0px,#fba139 14.5px,#f99a3e 17.5px,#f79342 18.5px,#f3854b 19.5px,#e97257 20.5px,#cc4778 22.5px,#bf3984 23.5px,#b52f8c 24.5px,#ad2793 26.5px,#b12a90 28.5px,#b52f8c 29.5px,#bf3984 30.5px,#cc4778 31.5px,#e97257 33.5px,#f3854b 34.5px,#f79342 35.5px,#fa9e3b 37.5px,#fba238 44.5px,#fba139 69.5px,#f99a3e 72.5px,#f79342 73.5px,#f3854b 74.5px,#e97257 75.5px,#cc4778 77.5px,#bf3984 78.5px,#b52f8c 79.5px,#ad2793 81.5px,#b12a90 83.5px,#b52f8c 84.5px,#bf3984 85.5px,#cc4778 86.5px,#e97257 88.5px,#f3854b 89.5px,#f79342 90.5px,#fa9e3b 92.5px,#fba238 99.5px,#fba139 124.5px,#f99a3e 127.5px,#f79342 128.5px,#f3854b 129.5px,#e97257 130.5px,#cc4778 132.5px,#bf3984 133.5px,#b52f8c 134.5px,#ad2793 136.5px,#b12a90 138.5px,#b52f8c 139.5px,#bf3984 140.5px,#cc4778 141.5px,#e97257 143.5px,#f3854b 144.5px,#f79342 145.5px,#fa9e3b 147.5px,#fba238 154.5px,#fba238 163px)"></i><i style="top:141px;height:1px;background:linear-gradient(90deg,#fba139 0px,#fb9f3a 15.5px,#f9973f 18.5px,#f58c46 19.5px,#ee7b51 20.5px,#d04d73 22.5px,#c13b82 23.5px,#b52f8c 24.5px,#ac2694 26.5px,#b02991 28.5px,#b52f8c 29.5px,#c13b82 30.5px,#d04d73 31.5px,#ee7b51 33.5px,#f58c46 34.5px,#f9973f 35.5px,#fb9f3a 38.5px,#fb9f3a 70.5px,#f9973f 73.5px,#f58c46 74.5px,#ee7b51 75.5px,#d04d73 77.5px,#c13b82 78.5px,#b52f8c 79.5px,#ac2694 81.5px,#b02991 83.5px,#b52f8c 84.5px,#c13b82 85.5px,#d04d73 86.5px,#ee7b51 88.5px,#f58c46 89.5px,#f9973f 90.5px,#fb9f3a 93.5px,#fb9f3a 125.5px,#f9973f 128.5px,#f58c46 129.5px,#ee7b51 130.5px,#d04d73 132.5px,#c13b82 133.5px,#b52f8c 134.5px,#ac2694 136.5px,#b02991 138.5px,#b52f8c 139.5px,#c13b82 140.5px,#d04d73 141.5px,#ee7b51 143.5px,#f58c46 144.5px,#f9973f 145.5px,#fb9f3a 148.5px,#fba139 163px)"></i><i style="top:142px;height:1px;background:linear-gradient(90deg,#fb9f3a 0px,#fa9e3b 16.5px,#f9983e 18.5px,#f79143 19.5px,#f1834c 20.5px,#e76e5b 21.5px,#d5546e 22.5px,#c43e7f 23.5px,#b6308b 24.5px,#ae2892 25.5px,#ab2494 27.5px,#ae2892 28.5px,#b6308b 29.5px,#c43e7f 30.5px,#d5546e 31.5px,#e76e5b 32.5px,#f1834c 33.5px,#f79143 34.5px,#fa9c3c 36.5px,#fb9f3a 42.5px,#fa9e3b 71.5px,#f9983e 73.5px,#f79143 74.5px,#f1834c 75.5px,#e76e5b 76.5px,#d5546e 77.5px,#c43e7f 78.5px,#b6308b 79.5px,#ae2892 80.5px,#ab2494 82.5px,#ae2892 83.5px,#b6308b 84.5px,#c43e7f 85.5px,#d5546e 86.5px,#e76e5b 87.5px,#f1834c 88.5px,#f79143 89.5px,#fa9c3c 91.5px,#fb9f3a 97.5px,#fa9e3b 126.5px,#f9983e 128.5px,#f79143 129.5px,#f1834c 130.5px,#e76e5b 131.5px,#d5546e 132.5px,#c43e7f 133.5px,#b6308b 134.5px,#ae2892 135.5px,#ab2494 137.5px,#ae2892 138.5px,#b6308b 139.5px,#c33d80 140.5px,#e76e5b 142.5px,#f1834c 143.5px,#f79143 144.5px,#fa9c3c 146.5px,#fb9f3a 152.5px,#fb9f3a 163px)"></i><i style="top:143px;height:1px;background:linear-gradient(90deg,#fa9e3b 0px,#fa9c3c 17.5px,#f89441 19.5px,#f48948 20.5px,#eb7655 21.5px,#c8437b 23.5px,#b7318a 24.5px,#ae2892 25.5px,#aa2395 26.5px,#aa2395 27.5px,#ae2892 28.5px,#b7318a 29.5px,#c8437b 30.5px,#eb7655 32.5px,#f48948 33.5px,#f89441 34.5px,#fa9c3c 36.5px,#fa9c3c 72.5px,#f89441 74.5px,#f48948 75.5px,#eb7655 76.5px,#c8437b 78.5px,#b7318a 79.5px,#ae2892 80.5px,#aa2395 81.5px,#aa2395 82.5px,#ae2892 83.5px,#b7318a 84.5px,#c7427c 85.5px,#db5c68 86.5px,#eb7655 87.5px,#f48948 88.5px,#f89441 89.5px,#fa9c3c 91.5px,#fa9c3c 127.5px,#f89441 129.5px,#f48948 130.5px,#eb7655 131.5px,#c8437b 133.5px,#b7318a 134.5px,#ae2892 135.5px,#aa2395 136.5px,#aa2395 137.5px,#ae2892 138.5px,#b7318a 139.5px,#c7427c 140.5px,#db5c68 141.5px,#eb7655 142.5px,#f48948 143.5px,#f89441 144.5px,#fa9c3c 146.5px,#fa9e3b 163px)"></i><i style="top:144px;height:1px;background:linear-gradient(90deg,#fa9e3b 0px,#fa9b3d 17.5px,#f9973f 19.5px,#f68f44 20.5px,#f07f4f 21.5px,#e16462 22.5px,#cc4977 23.5px,#ba3388 24.5px,#ad2793 25.5px,#a82296 26.5px,#a82296 27.5px,#ad2793 28.5px,#ba3388 29.5px,#cc4977 30.5px,#e16462 31.5px,#f07f4f 32.5px,#f68f44 33.5px,#f9973f 34.5px,#fa9c3c 38.5px,#fa9c3c 71.5px,#f9973f 74.5px,#f68f44 75.5px,#f07f4f 76.5px,#e16462 77.5px,#cc4977 78.5px,#ba3388 79.5px,#ad2793 80.5px,#a82296 81.5px,#a82296 82.5px,#ad2793 83.5px,#ba3388 84.5px,#cc4977 85.5px,#e16462 86.5px,#ef7e50 87.5px,#f68f44 88.5px,#f9973f 89.5px,#fa9c3c 93.5px,#fa9c3c 126.5px,#f9973f 129.5px,#f68f44 130.5px,#f07f4f 131.5px,#e16462 132.5px,#cc4977 133.5px,#ba3388 134.5px,#ad2793 135.5px,#a82296 136.5px,#a82296 137.5px,#ad2793 138.5px,#b83289 139.5px,#cc4977 140.5px,#e16462 141.5px,#ef7e50 142.5px,#f68f44 143.5px,#f9973f 144.5px,#fa9c3c 148.5px,#fa9e3b 163px)"></i><i style="top:145px;height:1px;background:linear-gradient(90deg,#fa9c3c 0px,#fa9b3d 17.5px,#f9983e 19.5px,#f79143 20.5px,#f3854b 21.5px,#e76e5b 22.5px,#d24f71 23.5px,#bc3587 24.5px,#ad2793 25.5px,#a72197 26.5px,#a72197 27.5px,#ad2793 28.5px,#bc3587 29.5px,#d24f71 30.5px,#e76e5b 31.5px,#f3854b 32.5px,#f79143 33.5px,#f9983e 34.5px,#fa9c3c 43.5px,#fa9b3d 72.5px,#f9983e 74.5px,#f79143 75.5px,#f3854b 76.5px,#e76e5b 77.5px,#d24f71 78.5px,#bc3587 79.5px,#ad2793 80.5px,#a72197 81.5px,#a72197 82.5px,#ad2793 83.5px,#bc3587 84.5px,#d24f71 85.5px,#e76e5b 86.5px,#f3854b 87.5px,#f79143 88.5px,#f9983e 89.5px,#fa9c3c 98.5px,#fa9b3d 127.5px,#f9983e 129.5px,#f79143 130.5px,#f3854b 131.5px,#e76e5b 132.5px,#d24f71 133.5px,#bc3587 134.5px,#ad2793 135.5px,#a72197 136.5px,#a72197 137.5px,#ad2793 138.5px,#bc3587 139.5px,#d24f71 140.5px,#e76e5b 141.5px,#f3854b 142.5px,#f79143 143.5px,#f9983e 144.5px,#fa9c3c 153.5px,#fa9c3c 163px)"></i><i style="top:146px;height:1px;background:linear-gradient(90deg,#fa9b3d 0px,#f99a3e 18.5px,#f89441 20.5px,#f58b47 21.5px,#eb7655 22.5px,#d8576b 23.5px,#c03a83 24.5px,#ae2892 25.5px,#a72197 26.5px,#a72197 27.5px,#ae2892 28.5px,#c03a83 29.5px,#d8576b 30.5px,#eb7655 31.5px,#f58b47 32.5px,#f89441 33.5px,#f99a3e 35.5px,#f99a3e 73.5px,#f89441 75.5px,#f58b47 76.5px,#eb7655 77.5px,#d8576b 78.5px,#c03a83 79.5px,#ae2892 80.5px,#a72197 81.5px,#a72197 82.5px,#ae2892 83.5px,#c03a83 84.5px,#d8576b 85.5px,#eb7655 86.5px,#f58b47 87.5px,#f89441 88.5px,#f99a3e 90.5px,#f99a3e 128.5px,#f89441 130.5px,#f58b47 131.5px,#eb7655 132.5px,#d8576b 133.5px,#c03a83 134.5px,#ae2892 135.5px,#a72197 136.5px,#a72197 137.5px,#ad2793 138.5px,#c03a83 139.5px,#d8576b 140.5px,#eb7655 141.5px,#f58b47 142.5px,#f89441 143.5px,#f99a3e 145.5px,#fa9b3d 163px)"></i><i style="top:147px;height:1px;background:linear-gradient(90deg,#f99a3e 0px,#f9983e 19.5px,#f89540 20.5px,#f68f44 21.5px,#ef7e50 22.5px,#de6164 23.5px,#c43e7f 24.5px,#ae2892 25.5px,#a62098 26.5px,#a62098 27.5px,#ae2892 28.5px,#c43e7f 29.5px,#de6164 30.5px,#ef7e50 31.5px,#f68f44 32.5px,#f89540 33.5px,#f99a3e 38.5px,#f9983e 74.5px,#f89540 75.5px,#f68f44 76.5px,#ef7e50 77.5px,#de6164 78.5px,#c5407e 79.5px,#ae2892 80.5px,#a62098 81.5px,#a62098 82.5px,#ae2892 83.5px,#c43e7f 84.5px,#de6164 85.5px,#ef7e50 86.5px,#f68f44 87.5px,#f89540 88.5px,#f99a3e 93.5px,#f9983e 129.5px,#f89540 130.5px,#f68f44 131.5px,#ef7e50 132.5px,#de6164 133.5px,#c5407e 134.5px,#ae2892 135.5px,#a62098 136.5px,#a62098 137.5px,#ae2892 138.5px,#c43e7f 139.5px,#de6164 140.5px,#ef7e50 141.5px,#f68f44 142.5px,#f89540 143.5px,#f99a3e 148.5px,#f99a3e 163px)"></i><i style="top:148px;height:1px;background:linear-gradient(90deg,#f9983e 0px,#f9973f 19.5px,#f79143 21.5px,#f2844b 22.5px,#e56a5d 23.5px,#ca457a 24.5px,#b12a90 25.5px,#a31e9a 26.5px,#a31e9a 27.5px,#b12a90 28.5px,#ca457a 29.5px,#e4695e 30.5px,#f2844b 31.5px,#f79143 32.5px,#f9983e 35.5px,#f9973f 74.5px,#f79143 76.5px,#f2844b 77.5px,#e56a5d 78.5px,#ca457a 79.5px,#b12a90 80.5px,#a31e9a 81.5px,#a31e9a 82.5px,#b12a90 83.5px,#ca457a 84.5px,#e4695e 85.5px,#f2844b 86.5px,#f79143 87.5px,#f9983e 90.5px,#f9973f 129.5px,#f79143 131.5px,#f2844b 132.5px,#e56a5d 133.5px,#cb4679 134.5px,#b12a90 135.5px,#a31e9a 136.5px,#a31e9a 137.5px,#b12a90 138.5px,#ca457a 139.5px,#e4695e 140.5px,#f2844b 141.5px,#f79143 142.5px,#f9983e 145.5px,#f9983e 163px)"></i><i style="top:149px;height:1px;background:linear-gradient(90deg,#f9973f 0px,#f89540 20.5px,#f79342 21.5px,#f48948 22.5px,#e97257 23.5px,#d04d73 24.5px,#b22b8f 25.5px,#9d189d 26.5px,#9d189d 27.5px,#b22b8f 28.5px,#d04d73 29.5px,#e97257 30.5px,#f48948 31.5px,#f79342 32.5px,#f9973f 35.5px,#f89540 75.5px,#f79342 76.5px,#f48948 77.5px,#e97257 78.5px,#d04d73 79.5px,#b22b8f 80.5px,#9d189d 81.5px,#9d189d 82.5px,#b22b8f 83.5px,#d04d73 84.5px,#e97257 85.5px,#f48948 86.5px,#f79342 87.5px,#f9973f 90.5px,#f89540 130.5px,#f79342 131.5px,#f48948 132.5px,#e97257 133.5px,#d04d73 134.5px,#b22b8f 135.5px,#9d189d 136.5px,#9d189d 137.5px,#b22b8f 138.5px,#d04d73 139.5px,#e97257 140.5px,#f48948 141.5px,#f79342 142.5px,#f9973f 145.5px,#f9973f 163px)"></i><i style="top:150px;height:1px;background:linear-gradient(90deg,#f9973f 0px,#f89540 20.5px,#f58c46 22.5px,#ed7a52 23.5px,#d7566c 24.5px,#b42e8d 25.5px,#9814a0 26.5px,#9814a0 27.5px,#b42e8d 28.5px,#d6556d 29.5px,#ed7a52 30.5px,#f58c46 31.5px,#f89540 33.5px,#f89540 75.5px,#f58c46 77.5px,#ed7a52 78.5px,#d7566c 79.5px,#b42e8d 80.5px,#9814a0 81.5px,#9814a0 82.5px,#b42e8d 83.5px,#d6556d 84.5px,#ed7a52 85.5px,#f58c46 86.5px,#f89540 88.5px,#f89540 130.5px,#f58c46 132.5px,#ed7a52 133.5px,#d7566c 134.5px,#b42e8d 135.5px,#9814a0 136.5px,#9814a0 137.5px,#b42e8d 138.5px,#d6556d 139.5px,#ed7a52 140.5px,#f58c46 141.5px,#f89540 143.5px,#f9973f 163px)"></i><i style="top:151px;height:1px;background:linear-gradient(90deg,#f89540 0px,#f89441 20.5px,#f68f44 22.5px,#f0804e 23.5px,#dd5e66 24.5px,#ba3388 25.5px,#9814a0 26.5px,#9814a0 27.5px,#ba3388 28.5px,#dd5e66 29.5px,#f0804e 30.5px,#f68f44 31.5px,#f89540 34.5px,#f89441 75.5px,#f68f44 77.5px,#f0804e 78.5px,#dd5e66 79.5px,#ba3388 80.5px,#9814a0 81.5px,#9814a0 82.5px,#b83289 83.5px,#dd5e66 84.5px,#f0804e 85.5px,#f68f44 86.5px,#f89540 89.5px,#f89441 130.5px,#f68f44 132.5px,#f0804e 133.5px,#de5f65 134.5px,#ba3388 135.5px,#9814a0 136.5px,#9814a0 137.5px,#b83289 138.5px,#dd5e66 139.5px,#f0804e 140.5px,#f68f44 141.5px,#f89540 144.5px,#f89540 163px)"></i><i style="top:152px;height:1px;background:linear-gradient(90deg,#f89441 0px,#f79342 21.5px,#f79044 22.5px,#f3854b 23.5px,#e3685f 24.5px,#bf3984 25.5px,#99159f 26.5px,#99159f 27.5px,#bf3984 28.5px,#e3685f 29.5px,#f2844b 30.5px,#f79044 31.5px,#f89441 34.5px,#f79342 76.5px,#f79044 77.5px,#f3854b 78.5px,#e3685f 79.5px,#bf3984 80.5px,#99159f 81.5px,#99159f 82.5px,#bf3984 83.5px,#e3685f 84.5px,#f2844b 85.5px,#f79044 86.5px,#f89441 89.5px,#f79342 131.5px,#f79044 132.5px,#f3854b 133.5px,#e3685f 134.5px,#bf3984 135.5px,#99159f 136.5px,#99159f 137.5px,#bf3984 138.5px,#e3685f 139.5px,#f2844b 140.5px,#f79044 141.5px,#f89441 144.5px,#f89441 163px)"></i><i style="top:153px;height:1px;background:linear-gradient(90deg,#f79342 0px,#f79342 21.5px,#f79044 22.5px,#f48849 23.5px,#e87059 24.5px,#c5407e 25.5px,#9a169f 26.5px,#9a169f 27.5px,#c5407e 28.5px,#e76f5a 29.5px,#f48849 30.5px,#f79044 31.5px,#f79342 34.5px,#f79342 76.5px,#f79044 77.5px,#f48849 78.5px,#e87059 79.5px,#c5407e 80.5px,#9a169f 81.5px,#9a169f 82.5px,#c5407e 83.5px,#e76f5a 84.5px,#f48849 85.5px,#f79044 86.5px,#f79342 89.5px,#f79342 131.5px,#f79044 132.5px,#f48849 133.5px,#e87059 134.5px,#c5407e 135.5px,#9a169f 136.5px,#9a169f 137.5px,#c5407e 138.5px,#e76f5a 139.5px,#f48849 140.5px,#f79044 141.5px,#f79342 144.5px,#f79342 163px)"></i><i style="top:154px;height:1px;background:linear-gradient(90deg,#f79342 0px,#f79044 22.5px,#f58b47 23.5px,#eb7655 24.5px,#cc4778 25.5px,#9d189d 26.5px,#9c179e 27.5px,#cc4778 28.5px,#eb7655 29.5px,#f58b47 30.5px,#f79143 32.5px,#f79143 76.5px,#f58b47 78.5px,#eb7655 79.5px,#cc4778 80.5px,#9d189d 81.5px,#9c179e 82.5px,#cc4778 83.5px,#eb7655 84.5px,#f58b47 85.5px,#f79143 87.5px,#f79143 131.5px,#f58b47 133.5px,#eb7655 134.5px,#cc4778 135.5px,#9d189d 136.5px,#9c179e 137.5px,#cc4778 138.5px,#eb7655 139.5px,#f58b47 140.5px,#f79143 142.5px,#f79342 163px)"></i><i style="top:155px;height:1px;background:linear-gradient(90deg,#f79143 0px,#f79044 22.5px,#f58c46 23.5px,#ef7c51 24.5px,#d24f71 25.5px,#9e199d 26.5px,#9e199d 27.5px,#d24f71 28.5px,#ef7c51 29.5px,#f58c46 30.5px,#f79143 32.5px,#f79044 77.5px,#f58c46 78.5px,#ef7c51 79.5px,#d24f71 80.5px,#9e199d 81.5px,#9e199d 82.5px,#d24f71 83.5px,#ef7c51 84.5px,#f58c46 85.5px,#f79143 87.5px,#f79044 132.5px,#f58c46 133.5px,#ef7c51 134.5px,#d24f71 135.5px,#9e199d 136.5px,#9e199d 137.5px,#d24f71 138.5px,#ee7b51 139.5px,#f58c46 140.5px,#f79143 142.5px,#f79143 163px)"></i><i style="top:156px;height:1px;background:linear-gradient(90deg,#f79044 0px,#f68f44 22.5px,#f68d45 23.5px,#f0804e 24.5px,#d8576b 25.5px,#a11b9b 26.5px,#a11b9b 27.5px,#d8576b 28.5px,#f0804e 29.5px,#f68d45 30.5px,#f79044 37.5px,#f68f44 77.5px,#f68d45 78.5px,#f0804e 79.5px,#d8576b 80.5px,#a11b9b 81.5px,#a11b9b 82.5px,#d8576b 83.5px,#f0804e 84.5px,#f68d45 85.5px,#f79044 92.5px,#f68f44 132.5px,#f68d45 133.5px,#f0804e 134.5px,#d8576b 135.5px,#a11b9b 136.5px,#a11b9b 137.5px,#d8576b 138.5px,#f0804e 139.5px,#f68d45 140.5px,#f79044 147.5px,#f79044 163px)"></i><i style="top:157px;height:1px;background:linear-gradient(90deg,#f68f44 0px,#f68d45 23.5px,#f2844b 24.5px,#dd5e66 25.5px,#a21d9a 26.5px,#a21d9a 27.5px,#dd5e66 28.5px,#f2844b 29.5px,#f68d45 30.5px,#f68d45 78.5px,#f2844b 79.5px,#dd5e66 80.5px,#a21d9a 81.5px,#a21d9a 82.5px,#dd5e66 83.5px,#f2844b 84.5px,#f68d45 85.5px,#f68d45 133.5px,#f2844b 134.5px,#dd5e66 135.5px,#a21d9a 136.5px,#a21d9a 137.5px,#dd5e66 138.5px,#f2844b 139.5px,#f68d45 140.5px,#f68f44 163px)"></i><i style="top:158px;height:1px;background:linear-gradient(90deg,#f68f44 0px,#f68d45 23.5px,#f3854b 24.5px,#e16462 25.5px,#a31e9a 26.5px,#a31e9a 27.5px,#e16462 28.5px,#f3854b 29.5px,#f68d45 30.5px,#f68d45 78.5px,#f3874a 79.5px,#e16462 80.5px,#a31e9a 81.5px,#a31e9a 82.5px,#e06363 83.5px,#f3854b 84.5px,#f68d45 85.5px,#f68d45 133.5px,#f3874a 134.5px,#e16462 135.5px,#a31e9a 136.5px,#a31e9a 137.5px,#e06363 138.5px,#f3854b 139.5px,#f68d45 140.5px,#f68f44 163px)"></i><i style="top:159px;height:1px;background:linear-gradient(90deg,#f68d45 0px,#f58c46 23.5px,#f48849 24.5px,#e3685f 25.5px,#a51f99 26.5px,#a51f99 27.5px,#e3685f 28.5px,#f48849 29.5px,#f68d45 31.5px,#f58c46 78.5px,#f48849 79.5px,#e3685f 80.5px,#a51f99 81.5px,#a51f99 82.5px,#e3685f 83.5px,#f48849 84.5px,#f68d45 86.5px,#f58c46 133.5px,#f48849 134.5px,#e3685f 135.5px,#a51f99 136.5px,#a51f99 137.5px,#e3685f 138.5px,#f48849 139.5px,#f68d45 141.5px,#f68d45 163px)"></i><i style="top:160px;height:1px;background:linear-gradient(90deg,#f68d45 0px,#f58c46 23.5px,#f48849 24.5px,#e56b5d 25.5px,#a62098 26.5px,#a62098 27.5px,#e56b5d 28.5px,#f48849 29.5px,#f58c46 31.5px,#f58c46 78.5px,#f48849 79.5px,#e56b5d 80.5px,#a62098 81.5px,#a62098 82.5px,#e56a5d 83.5px,#f48849 84.5px,#f58c46 86.5px,#f58c46 133.5px,#f48849 134.5px,#e56b5d 135.5px,#a62098 136.5px,#a62098 137.5px,#e56a5d 138.5px,#f48849 139.5px,#f58c46 141.5px,#f68d45 163px)"></i><i style="top:161px;height:1px;background:linear-gradient(90deg,#f58c46 0px,#f58c46 23.5px,#f48849 24.5px,#e66c5c 25.5px,#a62098 26.5px,#a62098 27.5px,#e66c5c 28.5px,#f48849 29.5px,#f58c46 31.5px,#f58c46 78.5px,#f48849 79.5px,#e66c5c 80.5px,#a62098 81.5px,#a62098 82.5px,#e66c5c 83.5px,#f48849 84.5px,#f58c46 86.5px,#f58c46 133.5px,#f48849 134.5px,#e66c5c 135.5px,#a62098 136.5px,#a62098 137.5px,#e66c5c 138.5px,#f48849 139.5px,#f58c46 141.5px,#f58c46 163px)"></i><i style="top:162px;height:1px;background:linear-gradient(90deg,#f58b47 0px,#f58b47 23.5px,#f48849 24.5px,#e76e5b 25.5px,#a72197 26.5px,#a72197 27.5px,#e76e5b 28.5px,#f48849 29.5px,#f58b47 33.5px,#f58b47 78.5px,#f48849 79.5px,#e76e5b 80.5px,#a72197 81.5px,#a72197 82.5px,#e76e5b 83.5px,#f48849 84.5px,#f58b47 88.5px,#f58b47 133.5px,#f48849 134.5px,#e76e5b 135.5px,#a72197 136.5px,#a72197 137.5px,#e76e5b 138.5px,#f48849 139.5px,#f58b47 143.5px,#f58b47 163px)"></i><i style="top:163px;height:1px;background:linear-gradient(90deg,#f58b47 0px,#f58b47 23.5px,#f48849 24.5px,#e76f5a 25.5px,#a72197 26.5px,#a72197 27.5px,#e76f5a 28.5px,#f48849 29.5px,#f58b47 33.5px,#f58b47 78.5px,#f48849 79.5px,#e76f5a 80.5px,#a72197 81.5px,#a72197 82.5px,#e76f5a 83.5px,#f48849 84.5px,#f58b47 88.5px,#f58b47 133.5px,#f48849 134.5px,#e76f5a 135.5px,#a72197 136.5px,#a72197 137.5px,#e76f5a 138.5px,#f48849 139.5px,#f58b47 143.5px,#f58b47 163px)"></i><i style="top:164px;height:1px;background:linear-gradient(90deg,#f48948 0px,#f48849 24.5px,#e87059 25.5px,#ab2494 26.5px,#ab2494 27.5px,#e87059 28.5px,#f48849 29.5px,#f48849 79.5px,#e87059 80.5px,#ac2694 81.5px,#ab2494 82.5px,#e87059 83.5px,#f48849 84.5px,#f48849 134.5px,#e87059 135.5px,#ac2694 136.5px,#ab2494 137.5px,#e76f5a 138.5px,#f48849 139.5px,#f48948 163px)"></i><i style="top:165px;height:1px;background:linear-gradient(90deg,#f48948 0px,#f48849 24.5px,#e97158 25.5px,#b22b8f 26.5px,#b12a90 27.5px,#e97158 28.5px,#f48849 29.5px,#f48849 79.5px,#e97158 80.5px,#b22b8f 81.5px,#b12a90 82.5px,#e97158 83.5px,#f48849 84.5px,#f48849 134.5px,#e97158 135.5px,#b22b8f 136.5px,#b12a90 137.5px,#e87059 138.5px,#f48849 139.5px,#f48948 163px)"></i><i style="top:166px;height:1px;background:linear-gradient(90deg,#f48849 0px,#f3874a 24.5px,#e97158 25.5px,#b6308b 26.5px,#b6308b 27.5px,#e97158 28.5px,#f3874a 29.5px,#f3874a 79.5px,#e97257 80.5px,#b6308b 81.5px,#b52f8c 82.5px,#e97158 83.5px,#f3874a 84.5px,#f3874a 134.5px,#e97257 135.5px,#b6308b 136.5px,#b52f8c 137.5px,#e97158 138.5px,#f3874a 139.5px,#f48849 163px)"></i><i style="top:167px;height:1px;background:linear-gradient(90deg,#f48849 0px,#f3874a 24.5px,#e97257 25.5px,#ba3388 26.5px,#ba3388 27.5px,#e97257 28.5px,#f3874a 29.5px,#f3874a 79.5px,#e97257 80.5px,#ba3388 81.5px,#b83289 82.5px,#e97257 83.5px,#f3874a 84.5px,#f3874a 134.5px,#e97257 135.5px,#ba3388 136.5px,#b83289 137.5px,#e97257 138.5px,#f3874a 139.5px,#f48849 163px)"></i><i style="top:168px;height:1px;background:linear-gradient(90deg,#f48849 0px,#f3874a 24.5px,#e97257 25.5px,#bc3587 26.5px,#bc3587 27.5px,#e97257 28.5px,#f3874a 29.5px,#f3874a 79.5px,#e97257 80.5px,#bc3587 81.5px,#bb3488 82.5px,#e97257 83.5px,#f3874a 84.5px,#f3874a 134.5px,#e97257 135.5px,#bc3587 136.5px,#bb3488 137.5px,#e97257 138.5px,#f3874a 139.5px,#f48849 163px)"></i><i style="top:169px;height:1px;background:linear-gradient(90deg,#f3874a 0px,#f3874a 24.5px,#e97257 25.5px,#bd3786 26.5px,#bd3786 27.5px,#e97257 28.5px,#f3874a 29.5px,#f3874a 79.5px,#e97257 80.5px,#bd3786 81.5px,#bd3786 82.5px,#e97257 83.5px,#f3874a 84.5px,#f3874a 134.5px,#e97257 135.5px,#bd3786 136.5px,#bd3786 137.5px,#e97257 138.5px,#f3874a 139.5px,#f3874a 163px)"></i></div>
<div class="hm" style="left:265px;top:22px;width:183px;height:178px"><i style="top:0px;height:7px;background:linear-gradient(90deg,#f79044 0px,#f79342 12.5px,#fca338 26.5px,#fba238 35.5px,#f79143 50.5px,#f79143 72.5px,#fca338 88.5px,#fba238 97.5px,#f79143 111.5px,#f79143 133.5px,#fba139 146.5px,#fca338 156.5px,#f79143 173.5px,#f79044 183px)"></i><i style="top:7px;height:1px;background:linear-gradient(90deg,#f68f44 0px,#f79143 12.5px,#fba238 25.5px,#fba238 35.5px,#f79044 49.5px,#f79044 72.5px,#fba238 87.5px,#fba238 96.5px,#f79143 109.5px,#f68f44 124.5px,#f79143 135.5px,#fca338 150.5px,#fba139 159.5px,#f79044 172.5px,#f68f44 183px)"></i><i style="top:8px;height:5px;background:linear-gradient(90deg,#f68f44 0px,#f79143 12.5px,#fba238 25.5px,#fba238 35.5px,#f79044 49.5px,#f79044 72.5px,#fba238 87.5px,#fba238 96.5px,#f79044 110.5px,#f79044 134.5px,#fca338 150.5px,#fba139 159.5px,#f79044 172.5px,#f68f44 183px)"></i><i style="top:13px;height:1px;background:linear-gradient(90deg,#f68f44 0px,#f79143 12.5px,#fba238 25.5px,#fba238 35.5px,#f79044 49.5px,#f79044 72.5px,#fba238 87.5px,#fba238 96.5px,#f79143 109.5px,#f68f44 124.5px,#f79143 135.5px,#fca338 150.5px,#fba139 159.5px,#f79044 172.5px,#f68f44 183px)"></i><i style="top:14px;height:7px;background:linear-gradient(90deg,#f68f44 0px,#f89441 14.5px,#fba238 25.5px,#fba238 35.5px,#f79143 49.5px,#f79044 68.5px,#f9983e 79.5px,#fba238 87.5px,#fba238 96.5px,#f79143 111.5px,#f79044 128.5px,#f89441 137.5px,#fba238 148.5px,#fba238 158.5px,#f79044 174.5px,#f68f44 183px)"></i><i style="top:21px;height:7px;background:linear-gradient(90deg,#f68d45 0px,#f79044 12.5px,#fba238 26.5px,#fba238 34.5px,#f68f44 49.5px,#f68f44 72.5px,#fba238 87.5px,#fba238 95.5px,#f68f44 111.5px,#f68f44 133.5px,#f9983e 141.5px,#fba238 150.5px,#fba238 157.5px,#f68f44 172.5px,#f68d45 183px)"></i><i style="top:28px;height:7px;background:linear-gradient(90deg,#f68f44 0px,#f79342 13.5px,#fba139 24.5px,#fba238 32.5px,#fa9c3c 39.5px,#f79044 50.5px,#f79044 71.5px,#fb9f3a 84.5px,#fca338 92.5px,#fa9b3d 102.5px,#f79143 110.5px,#f68f44 129.5px,#f9973f 140.5px,#fba139 147.5px,#fba238 155.5px,#fa9c3c 162.5px,#f79044 173.5px,#f68f44 183px)"></i><i style="top:35px;height:7px;background:linear-gradient(90deg,#f58c46 0px,#f68f44 12.5px,#fba139 25.5px,#fba139 34.5px,#f68d45 49.5px,#f68d45 72.5px,#fba139 87.5px,#fba139 96.5px,#f68d45 111.5px,#f68d45 134.5px,#fba238 150.5px,#fb9f3a 159.5px,#f68d45 172.5px,#f58c46 183px)"></i><i style="top:42px;height:8px;background:linear-gradient(90deg,#f68f44 0px,#f79143 12.5px,#fba238 27.5px,#fb9f3a 36.5px,#f79044 50.5px,#f79044 72.5px,#fba238 88.5px,#fb9f3a 98.5px,#f79044 111.5px,#f79044 134.5px,#fba238 150.5px,#fb9f3a 160.5px,#f79044 172.5px,#f68f44 183px)"></i><i style="top:50px;height:7px;background:linear-gradient(90deg,#f48948 0px,#f58c46 12.5px,#fba139 26.5px,#fba139 33.5px,#f79342 43.5px,#f58b47 50.5px,#f58b47 72.5px,#f89540 80.5px,#fba139 88.5px,#fb9f3a 96.5px,#f89540 103.5px,#f58b47 111.5px,#f58b47 133.5px,#f99a3e 144.5px,#fba139 150.5px,#fba139 156.5px,#f58b47 173.5px,#f48948 183px)"></i><i style="top:57px;height:7px;background:linear-gradient(90deg,#f68d45 0px,#f79143 13.5px,#fb9f3a 24.5px,#fba139 32.5px,#fa9b3d 39.5px,#f68f44 50.5px,#f68f44 71.5px,#fa9e3b 84.5px,#fba238 92.5px,#f99a3e 102.5px,#f68f44 112.5px,#f68f44 133.5px,#f9973f 141.5px,#fba139 149.5px,#fba139 157.5px,#f68f44 173.5px,#f68d45 183px)"></i><i style="top:64px;height:1px;background:linear-gradient(90deg,#f3854b 0px,#f48948 12.5px,#f89441 19.5px,#fb9f3a 26.5px,#fb9f3a 33.5px,#f89540 40.5px,#f48849 48.5px,#f3854b 67.5px,#f58c46 76.5px,#fa9e3b 86.5px,#fb9f3a 94.5px,#f9973f 101.5px,#f58b47 108.5px,#f3854b 118.5px,#f48849 134.5px,#f79044 140.5px,#fa9e3b 148.5px,#fb9f3a 154.5px,#f99a3e 161.5px,#f48948 170.5px,#f3854b 183px)"></i><i style="top:65px;height:5px;background:linear-gradient(90deg,#f3854b 0px,#f48948 12.5px,#f89441 19.5px,#fb9f3a 26.5px,#fb9f3a 33.5px,#f89540 40.5px,#f48849 48.5px,#f3854b 67.5px,#f58c46 76.5px,#fa9e3b 86.5px,#fb9f3a 94.5px,#f9973f 101.5px,#f58b47 108.5px,#f3854b 118.5px,#f48849 134.5px,#f79143 141.5px,#fa9e3b 148.5px,#fb9f3a 154.5px,#f99a3e 161.5px,#f48849 171.5px,#f3854b 183px)"></i><i style="top:70px;height:1px;background:linear-gradient(90deg,#f3854b 0px,#f48948 12.5px,#f89441 19.5px,#fb9f3a 26.5px,#fb9f3a 33.5px,#f89540 40.5px,#f48849 48.5px,#f3854b 67.5px,#f58c46 76.5px,#fa9e3b 86.5px,#fb9f3a 94.5px,#f9973f 101.5px,#f58b47 108.5px,#f3854b 118.5px,#f48849 134.5px,#f79044 140.5px,#fa9e3b 148.5px,#fb9f3a 154.5px,#f99a3e 161.5px,#f48948 170.5px,#f3854b 183px)"></i><i style="top:71px;height:7px;background:linear-gradient(90deg,#f58c46 0px,#f79044 13.5px,#fb9f3a 25.5px,#fb9f3a 34.5px,#f68d45 50.5px,#f68d45 71.5px,#fb9f3a 88.5px,#fb9f3a 96.5px,#f68d45 112.5px,#f68d45 132.5px,#fb9f3a 149.5px,#fb9f3a 157.5px,#f89441 166.5px,#f68d45 175.5px,#f58c46 183px)"></i><i style="top:78px;height:1px;background:linear-gradient(90deg,#f1814d 0px,#f2844b 11.5px,#f58b47 16.5px,#fa9c3c 25.5px,#fa9e3b 33.5px,#f79044 41.5px,#f2844b 48.5px,#f1814d 65.5px,#f3854b 74.5px,#f79342 81.5px,#fa9e3b 89.5px,#fa9c3c 96.5px,#f3854b 108.5px,#f1814d 120.5px,#f2844b 135.5px,#f79143 142.5px,#fa9c3c 148.5px,#fa9e3b 156.5px,#f89540 162.5px,#f3874a 169.5px,#f1814d 179.5px,#f1814d 183px)"></i><i style="top:79px;height:6px;background:linear-gradient(90deg,#f1814d 0px,#f2844b 11.5px,#f58b47 16.5px,#fa9c3c 25.5px,#fa9e3b 33.5px,#f79044 41.5px,#f2844b 48.5px,#f1814d 65.5px,#f3854b 74.5px,#f79342 81.5px,#fa9e3b 89.5px,#fa9c3c 96.5px,#f3854b 108.5px,#f1814d 120.5px,#f2844b 135.5px,#f79143 142.5px,#fa9c3c 148.5px,#fa9e3b 156.5px,#f89540 162.5px,#f3874a 169.5px,#f1814d 178.5px,#f1814d 183px)"></i><i style="top:85px;height:1px;background:linear-gradient(90deg,#f58b47 0px,#f68f44 13.5px,#fa9e3b 25.5px,#fa9e3b 34.5px,#f68d45 49.5px,#f58b47 65.5px,#f79143 77.5px,#fb9f3a 89.5px,#fa9b3d 99.5px,#f68d45 110.5px,#f58b47 126.5px,#f79044 137.5px,#fa9e3b 149.5px,#fa9e3b 158.5px,#f68d45 172.5px,#f58b47 183px)"></i><i style="top:86px;height:6px;background:linear-gradient(90deg,#f58b47 0px,#f68f44 13.5px,#fa9e3b 25.5px,#fa9e3b 34.5px,#f68d45 49.5px,#f58c46 65.5px,#f68f44 74.5px,#fb9f3a 89.5px,#fa9b3d 99.5px,#f68d45 110.5px,#f58b47 126.5px,#f79044 137.5px,#fa9e3b 149.5px,#fa9e3b 158.5px,#f58c46 174.5px,#f58b47 183px)"></i><i style="top:92px;height:1px;background:linear-gradient(90deg,#f58b47 0px,#f68f44 13.5px,#fa9e3b 25.5px,#fa9e3b 34.5px,#f68d45 49.5px,#f58b47 65.5px,#f79143 77.5px,#fb9f3a 89.5px,#fa9b3d 99.5px,#f68d45 110.5px,#f58b47 127.5px,#f79143 138.5px,#fa9e3b 149.5px,#fa9e3b 158.5px,#f68d45 172.5px,#f58b47 183px)"></i><i style="top:93px;height:1px;background:linear-gradient(90deg,#ed7a52 0px,#ef7c51 11.5px,#f3874a 17.5px,#f9973f 23.5px,#fa9c3c 30.5px,#f89540 37.5px,#f07f4f 46.5px,#ed7a52 55.5px,#ee7b51 71.5px,#f1834c 77.5px,#f9983e 86.5px,#fa9c3c 93.5px,#f79342 100.5px,#f0804e 107.5px,#ed7a52 115.5px,#ee7b51 133.5px,#f2844b 139.5px,#f99a3e 148.5px,#fa9c3c 154.5px,#f89441 161.5px,#f07f4f 169.5px,#ed7a52 178.5px,#ed7a52 183px)"></i><i style="top:94px;height:5px;background:linear-gradient(90deg,#ed7a52 0px,#ef7c51 11.5px,#f3874a 17.5px,#f99a3e 25.5px,#fa9c3c 31.5px,#f79342 38.5px,#f07f4f 46.5px,#ed7a52 55.5px,#ee7b51 71.5px,#f1834c 77.5px,#f9983e 86.5px,#fa9c3c 93.5px,#f89441 99.5px,#f0804e 107.5px,#ed7a52 115.5px,#ee7b51 133.5px,#f2844b 139.5px,#f99a3e 148.5px,#fa9c3c 154.5px,#f79143 162.5px,#f07f4f 169.5px,#ed7a52 178.5px,#ed7a52 183px)"></i><i style="top:99px;height:1px;background:linear-gradient(90deg,#ed7a52 0px,#ef7c51 11.5px,#f3874a 17.5px,#f9973f 23.5px,#fa9c3c 30.5px,#f89540 37.5px,#f07f4f 46.5px,#ed7a52 55.5px,#ee7b51 71.5px,#f1834c 77.5px,#f9983e 86.5px,#fa9c3c 93.5px,#f79342 100.5px,#f0804e 107.5px,#ed7a52 115.5px,#ee7b51 133.5px,#f2844b 139.5px,#f99a3e 148.5px,#fa9c3c 154.5px,#f79143 162.5px,#f07f4f 169.5px,#ed7a52 178.5px,#ed7a52 183px)"></i><i style="top:100px;height:1px;background:linear-gradient(90deg,#f48948 0px,#f68d45 13.5px,#fa9c3c 26.5px,#fa9c3c 34.5px,#f58b47 50.5px,#f58b47 71.5px,#f99a3e 84.5px,#fa9e3b 93.5px,#f79342 104.5px,#f58b47 113.5px,#f58b47 132.5px,#f9973f 143.5px,#fa9e3b 154.5px,#f89540 164.5px,#f58c46 171.5px,#f48948 183px)"></i><i style="top:101px;height:5px;background:linear-gradient(90deg,#f48948 0px,#f68d45 13.5px,#fa9c3c 26.5px,#fa9c3c 34.5px,#f58b47 50.5px,#f58b47 71.5px,#fa9c3c 88.5px,#fa9c3c 96.5px,#f58b47 112.5px,#f58b47 132.5px,#f9973f 143.5px,#fa9e3b 154.5px,#f89540 164.5px,#f58c46 171.5px,#f48948 183px)"></i><i style="top:106px;height:1px;background:linear-gradient(90deg,#f48948 0px,#f68d45 13.5px,#fa9c3c 26.5px,#fa9c3c 34.5px,#f58b47 50.5px,#f58b47 71.5px,#f99a3e 84.5px,#fa9e3b 93.5px,#f79342 104.5px,#f58b47 113.5px,#f58b47 133.5px,#fa9c3c 149.5px,#fa9c3c 157.5px,#f79143 166.5px,#f58b47 175.5px,#f48948 183px)"></i><i style="top:107px;height:1px;background:linear-gradient(90deg,#e76f5a 0px,#e97257 11.5px,#ee7b51 16.5px,#f79342 23.5px,#f99a3e 30.5px,#f79143 37.5px,#eb7556 46.5px,#e76f5a 56.5px,#e97158 72.5px,#ef7c51 78.5px,#f79342 85.5px,#f99a3e 91.5px,#f79342 98.5px,#eb7655 107.5px,#e87059 115.5px,#e87059 131.5px,#eb7655 137.5px,#f89540 148.5px,#f99a3e 154.5px,#f79143 160.5px,#ec7754 168.5px,#e87059 175.5px,#e76f5a 183px)"></i><i style="top:108px;height:5px;background:linear-gradient(90deg,#e76f5a 0px,#e97257 11.5px,#ee7b51 16.5px,#f79342 23.5px,#f99a3e 30.5px,#f79143 37.5px,#eb7556 46.5px,#e76f5a 56.5px,#e97158 72.5px,#ef7c51 78.5px,#f79342 85.5px,#f99a3e 91.5px,#f79342 98.5px,#eb7655 107.5px,#e76f5a 117.5px,#e97158 133.5px,#ed7953 138.5px,#f89441 147.5px,#f99a3e 154.5px,#f79143 160.5px,#ec7754 168.5px,#e87059 175.5px,#e76f5a 183px)"></i><i style="top:113px;height:1px;background:linear-gradient(90deg,#e76f5a 0px,#e97257 11.5px,#ee7b51 16.5px,#f79342 23.5px,#f99a3e 30.5px,#f79143 37.5px,#eb7556 46.5px,#e76f5a 56.5px,#e97158 72.5px,#ef7c51 78.5px,#f79342 85.5px,#f99a3e 91.5px,#f79342 98.5px,#eb7655 107.5px,#e87059 115.5px,#e87059 131.5px,#eb7655 137.5px,#f89540 148.5px,#f99a3e 154.5px,#f79143 160.5px,#ec7754 168.5px,#e87059 175.5px,#e76f5a 183px)"></i><i style="top:114px;height:1px;background:linear-gradient(90deg,#f48849 0px,#f58b47 12.5px,#fa9b3d 27.5px,#f9983e 37.5px,#f48948 49.5px,#f48948 72.5px,#fa9b3d 88.5px,#f9983e 98.5px,#f58b47 109.5px,#f48849 129.5px,#f68d45 138.5px,#f99a3e 148.5px,#f99a3e 158.5px,#f48948 173.5px,#f48849 183px)"></i><i style="top:115px;height:5px;background:linear-gradient(90deg,#f48849 0px,#f58b47 12.5px,#fa9b3d 26.5px,#f9983e 37.5px,#f48948 49.5px,#f48948 72.5px,#fa9b3d 88.5px,#f9983e 98.5px,#f48948 111.5px,#f48948 133.5px,#f99a3e 148.5px,#f99a3e 158.5px,#f48948 173.5px,#f48849 183px)"></i><i style="top:120px;height:1px;background:linear-gradient(90deg,#f48849 0px,#f58b47 12.5px,#fa9b3d 27.5px,#f9983e 37.5px,#f48948 49.5px,#f48948 72.5px,#fa9b3d 88.5px,#f9983e 98.5px,#f58b47 109.5px,#f48849 125.5px,#f58b47 135.5px,#fa9b3d 150.5px,#f9983e 160.5px,#f48948 172.5px,#f48849 183px)"></i><i style="top:121px;height:1px;background:linear-gradient(90deg,#de6164 0px,#e26561 12.5px,#e97257 17.5px,#f48849 23.5px,#f68f44 27.5px,#f68f44 33.5px,#f2844b 38.5px,#e56a5d 45.5px,#df6263 53.5px,#e06363 71.5px,#e66c5c 77.5px,#f48948 85.5px,#f79044 90.5px,#f68d45 96.5px,#f07f4f 101.5px,#e4695e 107.5px,#df6263 114.5px,#e06363 133.5px,#e76e5b 139.5px,#f58b47 147.5px,#f79044 153.5px,#f58b47 159.5px,#e56a5d 168.5px,#df6263 176.5px,#de6164 183px)"></i><i style="top:122px;height:5px;background:linear-gradient(90deg,#de6164 0px,#e26561 12.5px,#e97257 17.5px,#f58b47 24.5px,#f79044 29.5px,#f68d45 34.5px,#f0804e 39.5px,#e56a5d 45.5px,#e06363 50.5px,#df6263 69.5px,#e3685f 75.5px,#ee7b51 81.5px,#f48948 85.5px,#f79044 90.5px,#f68f44 95.5px,#f1814d 100.5px,#e4695e 107.5px,#df6263 114.5px,#df6263 131.5px,#e4695e 137.5px,#ed7953 142.5px,#f58b47 147.5px,#f79044 153.5px,#f58c46 158.5px,#f0804e 162.5px,#e56a5d 168.5px,#df6263 176.5px,#de6164 183px)"></i><i style="top:127px;height:1px;background:linear-gradient(90deg,#de6164 0px,#e26561 12.5px,#e97257 17.5px,#f48849 23.5px,#f68f44 27.5px,#f68f44 33.5px,#f2844b 38.5px,#e56a5d 45.5px,#df6263 53.5px,#e06363 71.5px,#e66c5c 77.5px,#f48948 85.5px,#f79044 90.5px,#f68d45 96.5px,#ef7e50 101.5px,#e4695e 107.5px,#df6263 114.5px,#e06363 133.5px,#e76e5b 139.5px,#f58b47 147.5px,#f79044 153.5px,#f58b47 159.5px,#e56a5d 168.5px,#df6263 176.5px,#de6164 183px)"></i><i style="top:128px;height:1px;background:linear-gradient(90deg,#f3854b 0px,#f48849 12.5px,#f9983e 26.5px,#f9983e 33.5px,#f3874a 50.5px,#f3874a 72.5px,#f9983e 88.5px,#f9983e 95.5px,#f3874a 112.5px,#f3874a 133.5px,#f9983e 150.5px,#f9973f 159.5px,#f48849 171.5px,#f3854b 183px)"></i><i style="top:129px;height:6px;background:linear-gradient(90deg,#f3854b 0px,#f48948 13.5px,#f9983e 26.5px,#f9983e 34.5px,#f3874a 50.5px,#f3874a 71.5px,#f9983e 88.5px,#f9983e 95.5px,#f3874a 112.5px,#f3874a 133.5px,#f79044 142.5px,#f9983e 150.5px,#f9973f 159.5px,#f48849 171.5px,#f3854b 183px)"></i><i style="top:135px;height:1px;background:linear-gradient(90deg,#f3854b 0px,#f48849 12.5px,#f9983e 26.5px,#f9983e 33.5px,#f3874a 50.5px,#f3874a 72.5px,#f9983e 88.5px,#f9973f 97.5px,#f3874a 111.5px,#f3874a 133.5px,#f9983e 150.5px,#f9973f 159.5px,#f3874a 173.5px,#f3854b 183px)"></i><i style="top:136px;height:1px;background:linear-gradient(90deg,#d04d73 0px,#d45270 12.5px,#db5c68 16.5px,#ed7a52 24.5px,#f0804e 30.5px,#ed7953 36.5px,#d7566c 45.5px,#d14e72 53.5px,#d24f71 71.5px,#d7566c 76.5px,#ed7953 85.5px,#f0804e 92.5px,#ec7754 98.5px,#d6556d 107.5px,#d14e72 114.5px,#d14e72 131.5px,#d8576b 138.5px,#ed7a52 147.5px,#f0804e 153.5px,#ed7953 159.5px,#df6263 165.5px,#d6556d 169.5px,#d14e72 176.5px,#d04d73 183px)"></i><i style="top:137px;height:5px;background:linear-gradient(90deg,#d04d73 0px,#d35171 11.5px,#da5b69 16.5px,#ec7754 23.5px,#f0804e 30.5px,#ed7953 36.5px,#d7566c 45.5px,#d14e72 51.5px,#d14e72 70.5px,#d7566c 76.5px,#ed7953 85.5px,#f0804e 91.5px,#ec7754 98.5px,#d6556d 107.5px,#d04d73 115.5px,#d24f71 133.5px,#d8576b 138.5px,#eb7655 146.5px,#f07f4f 151.5px,#ef7e50 156.5px,#e97257 161.5px,#d8576b 168.5px,#d14e72 175.5px,#d04d73 183px)"></i><i style="top:142px;height:1px;background:linear-gradient(90deg,#d04d73 0px,#d45270 12.5px,#db5c68 16.5px,#ed7a52 24.5px,#f0804e 30.5px,#ed7953 36.5px,#d7566c 45.5px,#d14e72 53.5px,#d24f71 71.5px,#d7566c 76.5px,#ed7953 85.5px,#f0804e 92.5px,#ec7754 98.5px,#d6556d 107.5px,#d14e72 114.5px,#d14e72 131.5px,#d8576b 138.5px,#ed7a52 147.5px,#f0804e 153.5px,#ed7953 159.5px,#df6263 165.5px,#d6556d 169.5px,#d14e72 176.5px,#d04d73 183px)"></i><i style="top:143px;height:1px;background:linear-gradient(90deg,#f1834c 0px,#f3854b 12.5px,#f89441 25.5px,#f89441 35.5px,#f1834c 51.5px,#f2844b 72.5px,#f89540 88.5px,#f79342 98.5px,#f2844b 111.5px,#f2844b 134.5px,#f89540 150.5px,#f79342 160.5px,#f2844b 172.5px,#f1834c 183px)"></i><i style="top:144px;height:5px;background:linear-gradient(90deg,#f1834c 0px,#f3854b 12.5px,#f89540 27.5px,#f79342 37.5px,#f2844b 49.5px,#f2844b 72.5px,#f89540 88.5px,#f79342 98.5px,#f3854b 109.5px,#f1834c 130.5px,#f58b47 140.5px,#f89540 150.5px,#f79342 160.5px,#f2844b 172.5px,#f1834c 183px)"></i><i style="top:149px;height:1px;background:linear-gradient(90deg,#f1814d 0px,#f3874a 14.5px,#f89540 27.5px,#f79342 36.5px,#f2844b 49.5px,#f1834c 70.5px,#f68d45 80.5px,#f89540 90.5px,#f79143 99.5px,#f2844b 111.5px,#f1834c 131.5px,#f58c46 141.5px,#f89540 151.5px,#f79342 160.5px,#f2844b 172.5px,#f1814d 183px)"></i><i style="top:150px;height:1px;background:linear-gradient(90deg,#be3885 0px,#c13b82 10.5px,#ca457a 16.5px,#df6263 26.5px,#e26660 30.5px,#db5c68 36.5px,#c6417d 45.5px,#bf3984 53.5px,#c03a83 71.5px,#c8437b 77.5px,#e06363 88.5px,#e26660 92.5px,#d8576b 99.5px,#c6417d 107.5px,#bf3984 115.5px,#c03a83 132.5px,#c7427c 138.5px,#e16462 150.5px,#e26561 155.5px,#d7566c 161.5px,#c5407e 169.5px,#bf3984 176.5px,#be3885 183px)"></i><i style="top:151px;height:5px;background:linear-gradient(90deg,#be3885 0px,#c13b82 11.5px,#cd4a76 18.5px,#de5f65 25.5px,#e26660 30.5px,#db5c68 36.5px,#c6417d 45.5px,#be3885 54.5px,#c03a83 71.5px,#ca457a 78.5px,#e06363 88.5px,#e26660 92.5px,#d8576b 99.5px,#c5407e 107.5px,#be3885 115.5px,#c03a83 133.5px,#cb4679 140.5px,#df6263 149.5px,#e26660 153.5px,#db5c68 159.5px,#c6417d 168.5px,#be3885 177.5px,#be3885 183px)"></i><i style="top:156px;height:1px;background:linear-gradient(90deg,#be3885 0px,#c13b82 10.5px,#ca457a 16.5px,#df6263 26.5px,#e26660 30.5px,#db5c68 36.5px,#c6417d 45.5px,#bf3984 53.5px,#c03a83 71.5px,#c8437b 77.5px,#e06363 88.5px,#e26660 92.5px,#d8576b 99.5px,#c6417d 107.5px,#bf3984 115.5px,#c03a83 132.5px,#c7427c 138.5px,#e16462 150.5px,#e26561 155.5px,#d7566c 161.5px,#c5407e 169.5px,#bf3984 176.5px,#be3885 183px)"></i><i style="top:157px;height:1px;background:linear-gradient(90deg,#f07f4f 0px,#f1814d 12.5px,#f79143 27.5px,#f68f44 37.5px,#f0804e 49.5px,#f0804e 72.5px,#f79143 88.5px,#f68f44 98.5px,#f0804e 111.5px,#f0804e 134.5px,#f79044 148.5px,#f79044 158.5px,#f0804e 173.5px,#f07f4f 183px)"></i><i style="top:158px;height:5px;background:linear-gradient(90deg,#f07f4f 0px,#f1834c 13.5px,#f79143 26.5px,#f79143 33.5px,#f0804e 50.5px,#f0804e 71.5px,#f79143 88.5px,#f79044 97.5px,#f0804e 112.5px,#f0804e 133.5px,#f79143 150.5px,#f79044 159.5px,#f1814d 171.5px,#f07f4f 183px)"></i><i style="top:163px;height:1px;background:linear-gradient(90deg,#f07f4f 0px,#f1814d 12.5px,#f79044 25.5px,#f79044 35.5px,#f07f4f 51.5px,#f0804e 72.5px,#f79143 89.5px,#f68f44 98.5px,#f0804e 111.5px,#f0804e 134.5px,#f79143 150.5px,#f68f44 160.5px,#f0804e 172.5px,#f07f4f 183px)"></i><i style="top:164px;height:1px;background:linear-gradient(90deg,#9e199d 0px,#a11b9b 9.5px,#ab2494 15.5px,#cc4778 25.5px,#d24f71 29.5px,#cf4c74 33.5px,#bb3488 40.5px,#a72197 46.5px,#9e199d 54.5px,#a01a9c 69.5px,#aa2395 76.5px,#cc4977 87.5px,#d24f71 91.5px,#ce4b75 95.5px,#b22b8f 104.5px,#a51f99 109.5px,#9e199d 117.5px,#a01a9c 131.5px,#a82296 137.5px,#bf3984 144.5px,#cf4c74 150.5px,#d24f71 154.5px,#c9447a 159.5px,#ab2494 168.5px,#a11b9b 173.5px,#9e199d 183px)"></i><i style="top:165px;height:5px;background:linear-gradient(90deg,#9d189d 0px,#a21d9a 11.5px,#b22b8f 17.5px,#ce4b75 26.5px,#d24f71 30.5px,#c8437b 36.5px,#aa2395 45.5px,#a01a9c 51.5px,#9e199d 66.5px,#a51f99 74.5px,#ba3388 81.5px,#cc4977 87.5px,#d24f71 92.5px,#cc4778 96.5px,#a82296 107.5px,#a01a9c 113.5px,#9e199d 126.5px,#a21d9a 134.5px,#b42e8d 141.5px,#cd4a76 149.5px,#d24f71 153.5px,#cd4a76 157.5px,#aa2395 168.5px,#9e199d 176.5px,#9d189d 183px)"></i><i style="top:170px;height:1px;background:linear-gradient(90deg,#9e199d 0px,#a31e9a 11.5px,#b52f8c 18.5px,#cc4977 25.5px,#d24f71 30.5px,#cd4a76 34.5px,#aa2395 45.5px,#a01a9c 52.5px,#a01a9c 69.5px,#aa2395 76.5px,#cd4a76 87.5px,#d24f71 91.5px,#cc4977 96.5px,#ac2694 106.5px,#a11b9b 112.5px,#9e199d 127.5px,#a62098 136.5px,#b83289 142.5px,#d04d73 150.5px,#d14e72 155.5px,#c6417d 160.5px,#ab2494 168.5px,#a01a9c 175.5px,#9e199d 183px)"></i><i style="top:171px;height:7px;background:#f0f921"></i></div>
<div class="hm" style="left:265px;top:210px;width:183px;height:178px"><i style="top:0px;height:7px;background:linear-gradient(90deg,#f9973f 0px,#f99a3e 12.5px,#fdae32 26.5px,#fdae32 35.5px,#f9983e 51.5px,#f9983e 71.5px,#fa9e3b 77.5px,#fdae32 88.5px,#fdae32 97.5px,#f99a3e 111.5px,#f9973f 128.5px,#fa9c3c 137.5px,#fdae32 149.5px,#fdae32 158.5px,#f9983e 174.5px,#f9973f 183px)"></i><i style="top:7px;height:7px;background:linear-gradient(90deg,#f89540 0px,#f99a3e 13.5px,#fdae32 27.5px,#fdae32 34.5px,#f9983e 50.5px,#f89540 67.5px,#fa9c3c 76.5px,#fdac33 87.5px,#fdae32 94.5px,#fca537 103.5px,#f9973f 113.5px,#f9973f 132.5px,#fb9f3a 140.5px,#fdae32 150.5px,#fdae32 157.5px,#fca338 165.5px,#f9983e 173.5px,#f89540 183px)"></i><i style="top:14px;height:7px;background:linear-gradient(90deg,#f9973f 0px,#f99a3e 12.5px,#fdae32 26.5px,#fdae32 35.5px,#f9983e 51.5px,#f9983e 71.5px,#fa9e3b 77.5px,#fdae32 88.5px,#fdae32 97.5px,#f99a3e 111.5px,#f9973f 128.5px,#fa9c3c 137.5px,#fdae32 149.5px,#fdae32 158.5px,#f9983e 174.5px,#f9973f 183px)"></i><i style="top:21px;height:1px;background:linear-gradient(90deg,#f89441 0px,#f9983e 12.5px,#fdac33 26.5px,#fdac33 35.5px,#f9973f 51.5px,#f89540 69.5px,#fa9e3b 78.5px,#fdae32 89.5px,#fdab33 98.5px,#f9973f 112.5px,#f89540 131.5px,#fba238 142.5px,#fdac33 149.5px,#fdac33 158.5px,#f9973f 174.5px,#f89540 183px)"></i><i style="top:22px;height:5px;background:linear-gradient(90deg,#f89441 0px,#f9983e 12.5px,#fdac33 26.5px,#fdac33 35.5px,#f9973f 51.5px,#f89540 69.5px,#fa9e3b 78.5px,#fdae32 89.5px,#fdab33 98.5px,#f9973f 112.5px,#f89540 131.5px,#fba139 141.5px,#fdac33 149.5px,#fdac33 158.5px,#f9973f 174.5px,#f89540 183px)"></i><i style="top:27px;height:1px;background:linear-gradient(90deg,#f89441 0px,#f9983e 12.5px,#fdac33 26.5px,#fdac33 35.5px,#f9973f 51.5px,#f89540 69.5px,#fa9e3b 78.5px,#fdae32 89.5px,#fdab33 98.5px,#f9973f 112.5px,#f89540 131.5px,#fba238 142.5px,#fdac33 149.5px,#fdac33 158.5px,#f9973f 174.5px,#f89540 183px)"></i><i style="top:28px;height:1px;background:linear-gradient(90deg,#f9973f 0px,#f99a3e 12.5px,#fdae32 26.5px,#fdae32 35.5px,#f9983e 51.5px,#f9983e 71.5px,#fb9f3a 78.5px,#fdae32 88.5px,#fdae32 96.5px,#f99a3e 111.5px,#f9973f 128.5px,#fa9c3c 137.5px,#fdae32 149.5px,#fdae32 158.5px,#f9983e 174.5px,#f9973f 183px)"></i><i style="top:29px;height:5px;background:linear-gradient(90deg,#f9973f 0px,#f99a3e 12.5px,#fdae32 26.5px,#fdae32 35.5px,#f9983e 51.5px,#f9983e 71.5px,#fa9e3b 77.5px,#fdae32 88.5px,#fdae32 96.5px,#f99a3e 111.5px,#f9973f 128.5px,#fa9c3c 137.5px,#fdae32 149.5px,#fdae32 158.5px,#f9983e 174.5px,#f9973f 183px)"></i><i style="top:34px;height:1px;background:linear-gradient(90deg,#f9973f 0px,#f99a3e 12.5px,#fdae32 26.5px,#fdae32 35.5px,#f9983e 51.5px,#f9983e 71.5px,#fb9f3a 78.5px,#fdae32 88.5px,#fdae32 96.5px,#f99a3e 111.5px,#f9973f 128.5px,#fa9c3c 137.5px,#fdae32 149.5px,#fdae32 158.5px,#f9983e 174.5px,#f9973f 183px)"></i><i style="top:35px;height:1px;background:linear-gradient(90deg,#f89441 0px,#f9973f 12.5px,#fdac33 27.5px,#fdac33 34.5px,#f89540 51.5px,#f89540 72.5px,#fba238 81.5px,#fdac33 88.5px,#fdac33 96.5px,#f89540 113.5px,#f89540 133.5px,#fdac33 150.5px,#fdac33 157.5px,#f89540 174.5px,#f89441 183px)"></i><i style="top:36px;height:5px;background:linear-gradient(90deg,#f89441 0px,#f9973f 12.5px,#fdac33 27.5px,#fdac33 34.5px,#f89540 51.5px,#f89540 72.5px,#fba238 81.5px,#fdac33 88.5px,#fdac33 96.5px,#fa9c3c 107.5px,#f89441 116.5px,#f89540 133.5px,#fdac33 150.5px,#fdac33 157.5px,#f89540 174.5px,#f89441 183px)"></i><i style="top:41px;height:1px;background:linear-gradient(90deg,#f89441 0px,#f9973f 12.5px,#fdac33 27.5px,#fdac33 34.5px,#f89540 51.5px,#f89540 72.5px,#fba238 81.5px,#fdac33 88.5px,#fdac33 96.5px,#f89540 113.5px,#f89540 133.5px,#fdac33 150.5px,#fdac33 157.5px,#f89540 174.5px,#f89441 183px)"></i><i style="top:42px;height:8px;background:linear-gradient(90deg,#f9973f 0px,#f99a3e 12.5px,#fdae32 26.5px,#fdae32 35.5px,#f9983e 51.5px,#f9983e 72.5px,#fdae32 88.5px,#fdae32 96.5px,#f9983e 112.5px,#f9983e 133.5px,#fdae32 149.5px,#fdae32 158.5px,#f9983e 174.5px,#f9973f 183px)"></i><i style="top:50px;height:1px;background:linear-gradient(90deg,#f79342 0px,#f89540 12.5px,#fdab33 26.5px,#fdab33 35.5px,#fb9f3a 43.5px,#f89441 51.5px,#f89441 72.5px,#fba139 81.5px,#fdab33 88.5px,#fdab33 97.5px,#f89441 113.5px,#f89441 133.5px,#fba238 143.5px,#fdab33 149.5px,#fdab33 158.5px,#fb9f3a 166.5px,#f89441 174.5px,#f79342 183px)"></i><i style="top:51px;height:5px;background:linear-gradient(90deg,#f79342 0px,#f89540 12.5px,#fdab33 26.5px,#fdab33 35.5px,#fb9f3a 43.5px,#f89441 51.5px,#f89441 72.5px,#fba139 81.5px,#fdab33 88.5px,#fdab33 97.5px,#f89441 112.5px,#f89441 133.5px,#fba238 143.5px,#fdab33 149.5px,#fdab33 158.5px,#fb9f3a 166.5px,#f89441 174.5px,#f79342 183px)"></i><i style="top:56px;height:1px;background:linear-gradient(90deg,#f79342 0px,#f89540 12.5px,#fdab33 26.5px,#fdab33 35.5px,#fb9f3a 43.5px,#f89441 51.5px,#f89441 72.5px,#fba139 81.5px,#fdab33 88.5px,#fdab33 97.5px,#f89441 113.5px,#f89441 133.5px,#fba238 143.5px,#fdab33 149.5px,#fdab33 158.5px,#fb9f3a 166.5px,#f89441 174.5px,#f79342 183px)"></i><i style="top:57px;height:1px;background:linear-gradient(90deg,#f9973f 0px,#f9983e 10.5px,#fdae32 26.5px,#fdae32 35.5px,#f9983e 51.5px,#f9983e 72.5px,#fdae32 88.5px,#fdae32 96.5px,#f9983e 112.5px,#f9983e 133.5px,#fdac33 148.5px,#fdaf31 155.5px,#fca636 164.5px,#f9983e 174.5px,#f9973f 183px)"></i><i style="top:58px;height:5px;background:linear-gradient(90deg,#f9973f 0px,#f99a3e 12.5px,#fdae32 26.5px,#fdae32 35.5px,#f9983e 51.5px,#f9983e 72.5px,#fdae32 88.5px,#fdae32 96.5px,#f9983e 112.5px,#f9983e 133.5px,#fdae32 149.5px,#fdae32 158.5px,#f9983e 174.5px,#f9973f 183px)"></i><i style="top:63px;height:1px;background:linear-gradient(90deg,#f9973f 0px,#f9983e 10.5px,#fdae32 26.5px,#fdae32 35.5px,#f9983e 51.5px,#f9983e 72.5px,#fdae32 88.5px,#fdae32 96.5px,#f9983e 112.5px,#f9983e 133.5px,#fdac33 148.5px,#fdaf31 155.5px,#fca636 164.5px,#f9983e 174.5px,#f9973f 183px)"></i><i style="top:64px;height:1px;background:linear-gradient(90deg,#f79044 0px,#f89441 12.5px,#fca934 26.5px,#fca934 35.5px,#fa9e3b 43.5px,#f79143 52.5px,#f79143 70.5px,#f99a3e 78.5px,#fca835 86.5px,#fdab33 95.5px,#fa9b3d 106.5px,#f79342 112.5px,#f79044 127.5px,#f89540 136.5px,#fca934 149.5px,#fca934 158.5px,#f79143 175.5px,#f79044 183px)"></i><i style="top:65px;height:5px;background:linear-gradient(90deg,#f79044 0px,#f89441 12.5px,#fdab33 28.5px,#fca835 37.5px,#f79342 50.5px,#f79044 66.5px,#f9983e 77.5px,#fca835 86.5px,#fdab33 95.5px,#fa9b3d 106.5px,#f79342 112.5px,#f79044 127.5px,#f89540 136.5px,#fca934 149.5px,#fca934 158.5px,#f79143 175.5px,#f79044 183px)"></i><i style="top:70px;height:1px;background:linear-gradient(90deg,#f79044 0px,#f89441 12.5px,#fca934 26.5px,#fca934 35.5px,#fa9e3b 43.5px,#f79143 52.5px,#f79143 70.5px,#f99a3e 78.5px,#fca835 86.5px,#fdab33 95.5px,#fa9b3d 106.5px,#f79342 112.5px,#f79044 127.5px,#f89540 136.5px,#fca934 149.5px,#fca934 158.5px,#f79143 175.5px,#f79044 183px)"></i><i style="top:71px;height:1px;background:linear-gradient(90deg,#f89540 0px,#f99a3e 12.5px,#fdac33 25.5px,#fdae32 32.5px,#fca835 40.5px,#f99a3e 49.5px,#f89540 63.5px,#fa9b3d 75.5px,#fdae32 88.5px,#fdae32 96.5px,#f9983e 112.5px,#f9973f 128.5px,#fa9c3c 138.5px,#fdac33 148.5px,#fdae32 155.5px,#fca636 164.5px,#f9983e 174.5px,#f9973f 183px)"></i><i style="top:72px;height:5px;background:linear-gradient(90deg,#f89540 0px,#f99a3e 12.5px,#fdac33 25.5px,#fdae32 32.5px,#fca835 40.5px,#f99a3e 49.5px,#f9973f 63.5px,#f99a3e 74.5px,#fdae32 88.5px,#fdae32 96.5px,#f9983e 112.5px,#f9973f 130.5px,#fa9c3c 138.5px,#fdac33 148.5px,#fdae32 155.5px,#fca636 164.5px,#f9983e 174.5px,#f9973f 183px)"></i><i style="top:77px;height:1px;background:linear-gradient(90deg,#f89540 0px,#f99a3e 12.5px,#fdac33 25.5px,#fdae32 32.5px,#fca835 40.5px,#f99a3e 49.5px,#f89540 63.5px,#fa9b3d 75.5px,#fdae32 88.5px,#fdae32 96.5px,#f9983e 112.5px,#f9973f 128.5px,#fa9c3c 138.5px,#fdac33 148.5px,#fdae32 155.5px,#fca636 164.5px,#f9983e 174.5px,#f9973f 183px)"></i><i style="top:78px;height:1px;background:linear-gradient(90deg,#f68d45 0px,#f79143 12.5px,#fca835 27.5px,#fca835 35.5px,#f79044 50.5px,#f68d45 65.5px,#f89441 76.5px,#fca835 88.5px,#fca835 96.5px,#fa9c3c 104.5px,#f79342 110.5px,#f68f44 117.5px,#f68f44 131.5px,#f9983e 140.5px,#fca835 149.5px,#fca835 157.5px,#fa9b3d 166.5px,#f79044 174.5px,#f68d45 183px)"></i><i style="top:79px;height:5px;background:linear-gradient(90deg,#f68d45 0px,#f79143 12.5px,#fca835 27.5px,#fca835 35.5px,#f79044 50.5px,#f68d45 66.5px,#f89540 77.5px,#fca835 88.5px,#fca835 96.5px,#fa9c3c 104.5px,#f79342 110.5px,#f68f44 117.5px,#f68f44 132.5px,#fa9c3c 142.5px,#fca934 151.5px,#fca537 160.5px,#f79044 173.5px,#f68d45 183px)"></i><i style="top:84px;height:1px;background:linear-gradient(90deg,#f68d45 0px,#f79143 12.5px,#fca835 27.5px,#fca835 35.5px,#f79044 50.5px,#f68d45 65.5px,#f89441 76.5px,#fca835 88.5px,#fca835 96.5px,#fa9c3c 104.5px,#f79342 110.5px,#f68f44 117.5px,#f68f44 131.5px,#f9983e 140.5px,#fca835 149.5px,#fca835 157.5px,#fa9b3d 166.5px,#f79044 174.5px,#f68d45 183px)"></i><i style="top:85px;height:1px;background:linear-gradient(90deg,#f89540 0px,#f99a3e 12.5px,#fdae32 27.5px,#fdac33 36.5px,#f9983e 50.5px,#f89540 66.5px,#fa9b3d 75.5px,#fdac33 87.5px,#fdac33 97.5px,#f9983e 112.5px,#f89540 128.5px,#fa9e3b 139.5px,#fdae32 150.5px,#fdac33 159.5px,#f9983e 173.5px,#f89540 183px)"></i><i style="top:86px;height:6px;background:linear-gradient(90deg,#f89540 0px,#f99a3e 12.5px,#fdae32 27.5px,#fdac33 36.5px,#f9983e 50.5px,#f89540 66.5px,#fa9b3d 75.5px,#fdac33 87.5px,#fdac33 97.5px,#f9983e 112.5px,#f89540 127.5px,#fa9c3c 138.5px,#fdae32 150.5px,#fdac33 159.5px,#f9983e 173.5px,#f89540 183px)"></i><i style="top:92px;height:1px;background:linear-gradient(90deg,#f89540 0px,#f99a3e 12.5px,#fdae32 27.5px,#fdac33 36.5px,#f9983e 50.5px,#f89540 66.5px,#fa9b3d 75.5px,#fdac33 87.5px,#fdac33 97.5px,#f9983e 112.5px,#f89540 128.5px,#fa9e3b 139.5px,#fdae32 150.5px,#fdac33 159.5px,#f9983e 173.5px,#f89540 183px)"></i><i style="top:93px;height:1px;background:linear-gradient(90deg,#f58b47 0px,#f68d45 11.5px,#fa9b3d 20.5px,#fca636 28.5px,#fca636 34.5px,#fa9c3c 41.5px,#f68d45 50.5px,#f58b47 68.5px,#f79342 77.5px,#fca338 86.5px,#fca835 93.5px,#fa9e3b 102.5px,#f68f44 110.5px,#f58b47 123.5px,#f68d45 134.5px,#fa9e3b 144.5px,#fca636 150.5px,#fca636 156.5px,#f99a3e 165.5px,#f68d45 173.5px,#f58b47 183px)"></i><i style="top:94px;height:5px;background:linear-gradient(90deg,#f58b47 0px,#f68d45 11.5px,#f9973f 18.5px,#fca537 26.5px,#fca835 32.5px,#fba139 39.5px,#f79044 48.5px,#f58b47 58.5px,#f68d45 73.5px,#fca636 89.5px,#fca636 96.5px,#f89540 106.5px,#f58c46 113.5px,#f58c46 132.5px,#f99a3e 142.5px,#fca537 148.5px,#fca835 154.5px,#fa9e3b 163.5px,#f68f44 171.5px,#f58b47 183px)"></i><i style="top:99px;height:1px;background:linear-gradient(90deg,#f58b47 0px,#f68d45 11.5px,#fa9b3d 20.5px,#fca636 28.5px,#fca636 34.5px,#fa9c3c 41.5px,#f68d45 50.5px,#f58b47 68.5px,#f79342 77.5px,#fca338 86.5px,#fca835 93.5px,#fa9e3b 102.5px,#f68f44 110.5px,#f58b47 123.5px,#f68d45 134.5px,#fa9e3b 144.5px,#fca636 150.5px,#fca636 156.5px,#f99a3e 165.5px,#f68d45 173.5px,#f58b47 183px)"></i><i style="top:100px;height:6px;background:linear-gradient(90deg,#f89540 0px,#f9983e 12.5px,#fdac33 26.5px,#fdac33 35.5px,#f9973f 51.5px,#f9973f 71.5px,#fa9c3c 77.5px,#fdac33 88.5px,#fdac33 97.5px,#f9983e 111.5px,#f89540 129.5px,#fa9c3c 138.5px,#fdac33 149.5px,#fdac33 158.5px,#f9973f 174.5px,#f89540 183px)"></i><i style="top:106px;height:1px;background:linear-gradient(90deg,#f89540 0px,#f9983e 12.5px,#fdac33 26.5px,#fdac33 35.5px,#f9973f 51.5px,#f9973f 71.5px,#fa9c3c 77.5px,#fdac33 88.5px,#fdac33 96.5px,#f9983e 111.5px,#f89540 129.5px,#fa9c3c 138.5px,#fdac33 149.5px,#fdac33 158.5px,#f9973f 174.5px,#f89540 183px)"></i><i style="top:107px;height:1px;background:linear-gradient(90deg,#f3854b 0px,#f48948 12.5px,#fba238 27.5px,#fba238 35.5px,#f48849 50.5px,#f3854b 67.5px,#f68d45 77.5px,#fba139 87.5px,#fca338 95.5px,#f99a3e 102.5px,#f58c46 109.5px,#f3854b 119.5px,#f48849 134.5px,#f99a3e 144.5px,#fca338 151.5px,#fba139 158.5px,#f48849 173.5px,#f3854b 183px)"></i><i style="top:108px;height:5px;background:linear-gradient(90deg,#f3854b 0px,#f48948 12.5px,#f9973f 20.5px,#fca338 29.5px,#fba139 36.5px,#f48849 50.5px,#f3854b 67.5px,#f68d45 77.5px,#fba139 87.5px,#fca338 95.5px,#f99a3e 102.5px,#f58c46 109.5px,#f3854b 119.5px,#f48849 134.5px,#f99a3e 144.5px,#fca338 151.5px,#fba139 158.5px,#f48849 173.5px,#f3854b 183px)"></i><i style="top:113px;height:1px;background:linear-gradient(90deg,#f3854b 0px,#f48948 12.5px,#fba238 27.5px,#fba238 35.5px,#f48849 50.5px,#f3854b 67.5px,#f68d45 77.5px,#fba139 87.5px,#fca338 95.5px,#f99a3e 102.5px,#f58c46 109.5px,#f3854b 119.5px,#f48849 134.5px,#f99a3e 144.5px,#fca338 151.5px,#fba139 158.5px,#f48849 173.5px,#f3854b 183px)"></i><i style="top:114px;height:1px;background:linear-gradient(90deg,#f89441 0px,#f9983e 13.5px,#fdab33 26.5px,#fdab33 36.5px,#f9973f 50.5px,#f89441 67.5px,#fa9b3d 76.5px,#fdab33 87.5px,#fdab33 97.5px,#f89540 113.5px,#f89540 132.5px,#fa9e3b 140.5px,#fdab33 149.5px,#fdab33 159.5px,#f9973f 173.5px,#f89441 183px)"></i><i style="top:115px;height:5px;background:linear-gradient(90deg,#f89441 0px,#f9983e 13.5px,#fdac33 27.5px,#fca934 37.5px,#f9973f 50.5px,#f89441 66.5px,#f99a3e 75.5px,#fdab33 87.5px,#fdab33 97.5px,#f89540 113.5px,#f89540 132.5px,#fa9e3b 140.5px,#fdab33 149.5px,#fdab33 159.5px,#f9973f 173.5px,#f89441 183px)"></i><i style="top:120px;height:1px;background:linear-gradient(90deg,#f89441 0px,#f9983e 13.5px,#fdab33 26.5px,#fdab33 35.5px,#f9973f 50.5px,#f89441 67.5px,#fa9b3d 76.5px,#fdab33 87.5px,#fdab33 97.5px,#f89540 113.5px,#f89540 132.5px,#fa9e3b 140.5px,#fdab33 149.5px,#fdab33 159.5px,#f9973f 173.5px,#f89441 183px)"></i><i style="top:121px;height:1px;background:linear-gradient(90deg,#ef7e50 0px,#f1814d 12.5px,#fa9e3b 28.5px,#fa9e3b 34.5px,#f68d45 43.5px,#f1814d 49.5px,#ef7e50 65.5px,#f2844b 76.5px,#fa9b3d 87.5px,#fb9f3a 93.5px,#f9973f 100.5px,#f1814d 111.5px,#ef7e50 125.5px,#f1834c 136.5px,#fa9b3d 148.5px,#fb9f3a 154.5px,#f89441 162.5px,#f1834c 171.5px,#ef7e50 183px)"></i><i style="top:122px;height:5px;background:linear-gradient(90deg,#ef7e50 0px,#f1814d 12.5px,#f68d45 19.5px,#fa9c3c 27.5px,#fb9f3a 32.5px,#f89441 40.5px,#f1814d 49.5px,#ef7e50 63.5px,#f1834c 75.5px,#fa9b3d 88.5px,#fb9f3a 93.5px,#f9973f 100.5px,#f1814d 111.5px,#ef7e50 125.5px,#f2844b 137.5px,#f99a3e 147.5px,#fb9f3a 153.5px,#f9983e 160.5px,#f1834c 171.5px,#ef7e50 183px)"></i><i style="top:127px;height:1px;background:linear-gradient(90deg,#ef7e50 0px,#f1814d 12.5px,#fa9e3b 28.5px,#fa9e3b 34.5px,#f68d45 43.5px,#f1814d 49.5px,#ef7e50 65.5px,#f2844b 76.5px,#f99a3e 87.5px,#fb9f3a 93.5px,#f9973f 100.5px,#f1814d 111.5px,#ef7e50 125.5px,#f1834c 136.5px,#fa9b3d 148.5px,#fb9f3a 154.5px,#f89441 162.5px,#f1834c 171.5px,#ef7e50 183px)"></i><i style="top:128px;height:1px;background:linear-gradient(90deg,#f79342 0px,#f89540 11.5px,#fca934 26.5px,#fca934 35.5px,#f89441 51.5px,#f89441 71.5px,#fca934 87.5px,#fca934 97.5px,#f89441 113.5px,#f89441 133.5px,#fca934 149.5px,#fca934 158.5px,#f89540 173.5px,#f79342 183px)"></i><i style="top:129px;height:6px;background:linear-gradient(90deg,#f79342 0px,#f89540 11.5px,#fca934 26.5px,#fca934 35.5px,#f89540 50.5px,#f79342 67.5px,#f99a3e 76.5px,#fca934 87.5px,#fca934 97.5px,#f89441 113.5px,#f89441 132.5px,#fa9e3b 141.5px,#fca934 149.5px,#fca934 159.5px,#f89540 173.5px,#f79342 183px)"></i><i style="top:135px;height:1px;background:linear-gradient(90deg,#f79342 0px,#f89540 11.5px,#fca934 26.5px,#fca934 35.5px,#f89441 51.5px,#f89441 71.5px,#fca934 87.5px,#fca934 97.5px,#f89441 113.5px,#f89441 133.5px,#fca934 149.5px,#fca934 158.5px,#f89540 173.5px,#f79342 183px)"></i><i style="top:136px;height:1px;background:linear-gradient(90deg,#eb7655 0px,#ed7953 11.5px,#f3854b 19.5px,#f89540 27.5px,#f9983e 32.5px,#f79342 37.5px,#ed7a52 49.5px,#eb7655 59.5px,#ed7953 73.5px,#f3874a 81.5px,#f9973f 89.5px,#f9983e 94.5px,#f68f44 101.5px,#ef7c51 109.5px,#eb7655 117.5px,#ec7754 132.5px,#f07f4f 138.5px,#f9973f 149.5px,#f9983e 154.5px,#f68d45 162.5px,#ef7c51 170.5px,#eb7655 178.5px,#eb7655 183px)"></i><i style="top:137px;height:5px;background:linear-gradient(90deg,#eb7556 0px,#ed7a52 12.5px,#f48849 20.5px,#f9973f 28.5px,#f9983e 33.5px,#f79143 38.5px,#ee7b51 48.5px,#eb7655 58.5px,#ed7953 73.5px,#f3874a 81.5px,#f9973f 89.5px,#f9983e 95.5px,#f48948 103.5px,#ee7b51 110.5px,#eb7655 118.5px,#ed7953 134.5px,#f3854b 141.5px,#f9973f 149.5px,#f9973f 156.5px,#f48849 164.5px,#ed7a52 172.5px,#eb7655 183px)"></i><i style="top:142px;height:1px;background:linear-gradient(90deg,#eb7655 0px,#ed7953 11.5px,#f3854b 19.5px,#f89540 27.5px,#f9983e 32.5px,#f79342 37.5px,#ed7a52 49.5px,#eb7655 59.5px,#ed7953 73.5px,#f3874a 81.5px,#f9973f 89.5px,#f9983e 94.5px,#f68f44 101.5px,#ef7c51 109.5px,#eb7655 117.5px,#ec7754 132.5px,#f0804e 139.5px,#f89540 148.5px,#f9983e 153.5px,#f79143 160.5px,#ef7c51 170.5px,#eb7655 178.5px,#eb7655 183px)"></i><i style="top:143px;height:1px;background:linear-gradient(90deg,#f79044 0px,#f89441 13.5px,#fca835 27.5px,#fca537 37.5px,#f79342 50.5px,#f79044 67.5px,#f9973f 76.5px,#fca636 87.5px,#fca636 97.5px,#f79143 113.5px,#f79143 132.5px,#f99a3e 140.5px,#fca636 149.5px,#fca636 159.5px,#f79342 173.5px,#f79044 183px)"></i><i style="top:144px;height:5px;background:linear-gradient(90deg,#f79044 0px,#f89441 12.5px,#fca835 27.5px,#fca636 36.5px,#f79342 50.5px,#f79044 66.5px,#f89540 75.5px,#fca636 87.5px,#fca636 97.5px,#f79342 112.5px,#f79044 128.5px,#f9983e 139.5px,#fca835 150.5px,#fca636 159.5px,#f79342 173.5px,#f79044 183px)"></i><i style="top:149px;height:1px;background:linear-gradient(90deg,#f79044 0px,#f89441 13.5px,#fca636 26.5px,#fca636 36.5px,#f79342 50.5px,#f79044 67.5px,#f9973f 76.5px,#fca636 87.5px,#fca636 97.5px,#f79143 113.5px,#f79143 132.5px,#f99a3e 140.5px,#fca636 149.5px,#fca636 159.5px,#f79342 173.5px,#f79044 183px)"></i><i style="top:150px;height:1px;background:linear-gradient(90deg,#df6263 0px,#e26660 12.5px,#e76f5a 17.5px,#f58b47 27.5px,#f79044 32.5px,#f3854b 38.5px,#e56b5d 47.5px,#e06363 55.5px,#e16462 71.5px,#e76e5b 78.5px,#f58c46 89.5px,#f79044 94.5px,#f2844b 100.5px,#e56a5d 109.5px,#e06363 116.5px,#e16462 132.5px,#e76e5b 138.5px,#f58b47 148.5px,#f79044 153.5px,#f3854b 159.5px,#e4695e 170.5px,#e06363 178.5px,#df6263 183px)"></i><i style="top:151px;height:5px;background:linear-gradient(90deg,#df6263 0px,#e26660 12.5px,#e76f5a 17.5px,#f58b47 27.5px,#f79044 32.5px,#f3854b 38.5px,#e66c5c 46.5px,#e06363 55.5px,#e16462 71.5px,#e76e5b 78.5px,#f58c46 89.5px,#f79044 94.5px,#f2844b 100.5px,#e56a5d 109.5px,#e06363 116.5px,#e16462 132.5px,#e76e5b 138.5px,#f58b47 148.5px,#f79044 153.5px,#f3854b 159.5px,#e4695e 170.5px,#e06363 178.5px,#df6263 183px)"></i><i style="top:156px;height:1px;background:linear-gradient(90deg,#df6263 0px,#e26660 12.5px,#e76f5a 17.5px,#f58b47 27.5px,#f79044 32.5px,#f3854b 38.5px,#e56b5d 47.5px,#e06363 55.5px,#e16462 71.5px,#e76e5b 78.5px,#f58c46 89.5px,#f79044 94.5px,#f2844b 100.5px,#e56a5d 109.5px,#e06363 116.5px,#e16462 132.5px,#e76e5b 138.5px,#f58b47 148.5px,#f79044 153.5px,#f3854b 159.5px,#e4695e 170.5px,#e06363 178.5px,#df6263 183px)"></i><i style="top:157px;height:1px;background:linear-gradient(90deg,#f58c46 0px,#f79044 13.5px,#fba238 26.5px,#fba238 36.5px,#f68f44 50.5px,#f58c46 67.5px,#f79342 76.5px,#fba238 87.5px,#fba238 97.5px,#f68d45 113.5px,#f68d45 132.5px,#f89540 140.5px,#fba238 149.5px,#fba238 159.5px,#f68f44 173.5px,#f58c46 183px)"></i><i style="top:158px;height:5px;background:linear-gradient(90deg,#f58c46 0px,#f79044 12.5px,#fca338 27.5px,#fba238 36.5px,#f68f44 50.5px,#f58c46 66.5px,#f79143 75.5px,#fba238 87.5px,#fba238 97.5px,#f68f44 112.5px,#f58c46 128.5px,#f89441 139.5px,#fba238 149.5px,#fba238 159.5px,#f68f44 173.5px,#f58c46 183px)"></i><i style="top:163px;height:1px;background:linear-gradient(90deg,#f58c46 0px,#f68f44 11.5px,#fba238 26.5px,#fba238 35.5px,#f68d45 51.5px,#f68d45 71.5px,#fba238 87.5px,#fba238 97.5px,#f68d45 113.5px,#f68d45 133.5px,#fba238 149.5px,#fba238 159.5px,#f68f44 173.5px,#f58c46 183px)"></i><i style="top:164px;height:1px;background:linear-gradient(90deg,#cb4679 0px,#cf4c74 10.5px,#db5c68 16.5px,#ef7c51 24.5px,#f3874a 28.5px,#f48948 32.5px,#ee7b51 38.5px,#d7566c 47.5px,#ce4b75 52.5px,#cb4679 62.5px,#d04d73 72.5px,#da5a6a 77.5px,#ee7b51 85.5px,#f48948 91.5px,#f3874a 95.5px,#ed7953 100.5px,#d8576b 108.5px,#ce4b75 114.5px,#cb4679 123.5px,#d04d73 133.5px,#da5a6a 138.5px,#f07f4f 147.5px,#f58b47 153.5px,#f07f4f 159.5px,#de5f65 167.5px,#d24f71 172.5px,#cc4778 180.5px,#cc4778 183px)"></i><i style="top:165px;height:5px;background:linear-gradient(90deg,#cb4679 0px,#cf4c74 10.5px,#d9586a 15.5px,#f0804e 25.5px,#f48948 30.5px,#f1834c 35.5px,#e56a5d 42.5px,#d6556d 47.5px,#cd4a76 53.5px,#cb4679 64.5px,#d14e72 73.5px,#df6263 79.5px,#f1814d 87.5px,#f48948 92.5px,#f0804e 98.5px,#de5f65 106.5px,#d24f71 111.5px,#cc4778 119.5px,#cc4977 129.5px,#d35171 135.5px,#df6263 140.5px,#f07f4f 147.5px,#f48948 152.5px,#f3874a 156.5px,#eb7556 162.5px,#d8576b 169.5px,#ce4b75 175.5px,#cb4679 183px)"></i><i style="top:170px;height:1px;background:linear-gradient(90deg,#cc4778 0px,#ce4b75 9.5px,#db5c68 16.5px,#ef7e50 24.5px,#f48948 30.5px,#f48849 33.5px,#ec7754 39.5px,#d5536f 48.5px,#cc4977 56.5px,#cd4a76 69.5px,#d7566c 76.5px,#f07f4f 86.5px,#f58b47 92.5px,#f0804e 98.5px,#d45270 110.5px,#cc4977 117.5px,#cd4a76 130.5px,#d5546e 136.5px,#e56b5d 142.5px,#f2844b 149.5px,#f58b47 153.5px,#f07f4f 159.5px,#e3685f 165.5px,#d45270 171.5px,#cc4977 178.5px,#cc4778 183px)"></i><i style="top:171px;height:7px;background:#f0f921"></i></div>
<div class="hm" style="left:571px;top:22px;width:183px;height:178px"><i style="top:0px;height:7px;background:linear-gradient(90deg,#f79044 0px,#f79342 12.5px,#fca338 26.5px,#fba238 35.5px,#f79143 50.5px,#f79143 72.5px,#fca338 88.5px,#fba238 97.5px,#f79143 111.5px,#f79143 133.5px,#fba139 146.5px,#fca338 156.5px,#f79143 173.5px,#f79044 183px)"></i><i style="top:7px;height:1px;background:linear-gradient(90deg,#f68f44 0px,#f79143 12.5px,#fba238 25.5px,#fba238 35.5px,#f79044 49.5px,#f79044 72.5px,#fba238 87.5px,#fba238 96.5px,#f79143 109.5px,#f68f44 124.5px,#f79143 135.5px,#fca338 150.5px,#fba139 159.5px,#f79044 172.5px,#f68f44 183px)"></i><i style="top:8px;height:5px;background:linear-gradient(90deg,#f68f44 0px,#f79143 12.5px,#fba238 25.5px,#fba238 35.5px,#f79044 49.5px,#f79044 72.5px,#fba238 87.5px,#fba238 96.5px,#f79044 110.5px,#f79044 134.5px,#fca338 150.5px,#fba139 159.5px,#f79044 172.5px,#f68f44 183px)"></i><i style="top:13px;height:1px;background:linear-gradient(90deg,#f68f44 0px,#f79143 12.5px,#fba238 25.5px,#fba238 35.5px,#f79044 49.5px,#f79044 72.5px,#fba238 87.5px,#fba238 96.5px,#f79143 109.5px,#f68f44 124.5px,#f79143 135.5px,#fca338 150.5px,#fba139 159.5px,#f79044 172.5px,#f68f44 183px)"></i><i style="top:14px;height:7px;background:linear-gradient(90deg,#f68f44 0px,#f89441 14.5px,#fba238 25.5px,#fba238 35.5px,#f79143 49.5px,#f79044 68.5px,#f9983e 79.5px,#fba238 87.5px,#fba238 96.5px,#f79143 111.5px,#f79044 128.5px,#f89441 137.5px,#fba238 148.5px,#fba238 158.5px,#f79044 174.5px,#f68f44 183px)"></i><i style="top:21px;height:7px;background:linear-gradient(90deg,#f68d45 0px,#f79044 12.5px,#fba238 26.5px,#fba238 34.5px,#f68f44 49.5px,#f68f44 72.5px,#fba238 87.5px,#fba238 95.5px,#f68f44 111.5px,#f68f44 133.5px,#f9983e 141.5px,#fba238 150.5px,#fba238 157.5px,#f68f44 172.5px,#f68d45 183px)"></i><i style="top:28px;height:7px;background:linear-gradient(90deg,#f68f44 0px,#f79342 13.5px,#fba139 24.5px,#fba238 32.5px,#fa9c3c 39.5px,#f79044 50.5px,#f79044 71.5px,#fb9f3a 84.5px,#fca338 92.5px,#fa9b3d 102.5px,#f79143 110.5px,#f68f44 129.5px,#f9973f 140.5px,#fba139 147.5px,#fba238 155.5px,#fa9c3c 162.5px,#f79044 173.5px,#f68f44 183px)"></i><i style="top:35px;height:7px;background:linear-gradient(90deg,#f58c46 0px,#f68f44 12.5px,#fba139 25.5px,#fba139 34.5px,#f68d45 49.5px,#f68d45 72.5px,#fba139 87.5px,#fba139 96.5px,#f68d45 111.5px,#f68d45 134.5px,#fba238 150.5px,#fb9f3a 159.5px,#f68d45 172.5px,#f58c46 183px)"></i><i style="top:42px;height:8px;background:linear-gradient(90deg,#f68f44 0px,#f79143 12.5px,#fba238 27.5px,#fb9f3a 36.5px,#f79044 50.5px,#f79044 72.5px,#fba238 88.5px,#fb9f3a 98.5px,#f79044 111.5px,#f79044 134.5px,#fba238 150.5px,#fb9f3a 160.5px,#f79044 172.5px,#f68f44 183px)"></i><i style="top:50px;height:7px;background:linear-gradient(90deg,#f48948 0px,#f58c46 12.5px,#fba139 26.5px,#fba139 33.5px,#f79342 43.5px,#f58b47 50.5px,#f58b47 72.5px,#f89540 80.5px,#fba139 88.5px,#fb9f3a 96.5px,#f89540 103.5px,#f58b47 111.5px,#f58b47 133.5px,#f99a3e 144.5px,#fba139 150.5px,#fba139 156.5px,#f58b47 173.5px,#f48948 183px)"></i><i style="top:57px;height:7px;background:linear-gradient(90deg,#f68d45 0px,#f79143 13.5px,#fb9f3a 24.5px,#fba139 32.5px,#fa9b3d 39.5px,#f68f44 50.5px,#f68f44 71.5px,#fa9e3b 84.5px,#fba238 92.5px,#f99a3e 102.5px,#f68f44 112.5px,#f68f44 133.5px,#f9973f 141.5px,#fba139 149.5px,#fba139 157.5px,#f68f44 173.5px,#f68d45 183px)"></i><i style="top:64px;height:1px;background:linear-gradient(90deg,#f3854b 0px,#f48948 12.5px,#f89441 19.5px,#fb9f3a 26.5px,#fb9f3a 33.5px,#f89540 40.5px,#f48849 48.5px,#f3854b 67.5px,#f58c46 76.5px,#fa9e3b 86.5px,#fb9f3a 94.5px,#f9973f 101.5px,#f58b47 108.5px,#f3854b 118.5px,#f48849 134.5px,#f79044 140.5px,#fa9e3b 148.5px,#fb9f3a 154.5px,#f99a3e 161.5px,#f48948 170.5px,#f3854b 183px)"></i><i style="top:65px;height:5px;background:linear-gradient(90deg,#f3854b 0px,#f48948 12.5px,#f89441 19.5px,#fb9f3a 26.5px,#fb9f3a 33.5px,#f89540 40.5px,#f48849 48.5px,#f3854b 67.5px,#f58c46 76.5px,#fa9e3b 86.5px,#fb9f3a 94.5px,#f9973f 101.5px,#f58b47 108.5px,#f3854b 118.5px,#f48849 134.5px,#f79143 141.5px,#fa9e3b 148.5px,#fb9f3a 154.5px,#f99a3e 161.5px,#f48849 171.5px,#f3854b 183px)"></i><i style="top:70px;height:1px;background:linear-gradient(90deg,#f3854b 0px,#f48948 12.5px,#f89441 19.5px,#fb9f3a 26.5px,#fb9f3a 33.5px,#f89540 40.5px,#f48849 48.5px,#f3854b 67.5px,#f58c46 76.5px,#fa9e3b 86.5px,#fb9f3a 94.5px,#f9973f 101.5px,#f58b47 108.5px,#f3854b 118.5px,#f48849 134.5px,#f79044 140.5px,#fa9e3b 148.5px,#fb9f3a 154.5px,#f99a3e 161.5px,#f48948 170.5px,#f3854b 183px)"></i><i style="top:71px;height:7px;background:linear-gradient(90deg,#f58c46 0px,#f79044 13.5px,#fb9f3a 25.5px,#fb9f3a 34.5px,#f68d45 50.5px,#f68d45 71.5px,#fb9f3a 88.5px,#fb9f3a 96.5px,#f68d45 112.5px,#f68d45 132.5px,#fb9f3a 149.5px,#fb9f3a 157.5px,#f89441 166.5px,#f68d45 175.5px,#f58c46 183px)"></i><i style="top:78px;height:1px;background:linear-gradient(90deg,#f1814d 0px,#f2844b 11.5px,#f58b47 16.5px,#fa9c3c 25.5px,#fa9e3b 33.5px,#f79044 41.5px,#f2844b 48.5px,#f1814d 65.5px,#f3854b 74.5px,#f79342 81.5px,#fa9e3b 89.5px,#fa9c3c 96.5px,#f3854b 108.5px,#f1814d 120.5px,#f2844b 135.5px,#f79143 142.5px,#fa9c3c 148.5px,#fa9e3b 156.5px,#f89540 162.5px,#f3874a 169.5px,#f1814d 179.5px,#f1814d 183px)"></i><i style="top:79px;height:6px;background:linear-gradient(90deg,#f1814d 0px,#f2844b 11.5px,#f58b47 16.5px,#fa9c3c 25.5px,#fa9e3b 33.5px,#f79044 41.5px,#f2844b 48.5px,#f1814d 65.5px,#f3854b 74.5px,#f79342 81.5px,#fa9e3b 89.5px,#fa9c3c 96.5px,#f3854b 108.5px,#f1814d 120.5px,#f2844b 135.5px,#f79143 142.5px,#fa9c3c 148.5px,#fa9e3b 156.5px,#f89540 162.5px,#f3874a 169.5px,#f1814d 178.5px,#f1814d 183px)"></i><i style="top:85px;height:1px;background:linear-gradient(90deg,#f58b47 0px,#f68f44 13.5px,#fa9e3b 25.5px,#fa9e3b 34.5px,#f68d45 49.5px,#f58b47 65.5px,#f79143 77.5px,#fb9f3a 89.5px,#fa9b3d 99.5px,#f68d45 110.5px,#f58b47 126.5px,#f79044 137.5px,#fa9e3b 149.5px,#fa9e3b 158.5px,#f68d45 172.5px,#f58b47 183px)"></i><i style="top:86px;height:6px;background:linear-gradient(90deg,#f58b47 0px,#f68f44 13.5px,#fa9e3b 25.5px,#fa9e3b 34.5px,#f68d45 49.5px,#f58c46 65.5px,#f68f44 74.5px,#fb9f3a 89.5px,#fa9b3d 99.5px,#f68d45 110.5px,#f58b47 126.5px,#f79044 137.5px,#fa9e3b 149.5px,#fa9e3b 158.5px,#f58c46 174.5px,#f58b47 183px)"></i><i style="top:92px;height:1px;background:linear-gradient(90deg,#f58b47 0px,#f68f44 13.5px,#fa9e3b 25.5px,#fa9e3b 34.5px,#f68d45 49.5px,#f58b47 65.5px,#f79143 77.5px,#fb9f3a 89.5px,#fa9b3d 99.5px,#f68d45 110.5px,#f58b47 127.5px,#f79143 138.5px,#fa9e3b 149.5px,#fa9e3b 158.5px,#f68d45 172.5px,#f58b47 183px)"></i><i style="top:93px;height:1px;background:linear-gradient(90deg,#ed7a52 0px,#ef7c51 11.5px,#f3874a 17.5px,#f9973f 23.5px,#fa9c3c 30.5px,#f89540 37.5px,#f07f4f 46.5px,#ed7a52 55.5px,#ee7b51 71.5px,#f1834c 77.5px,#f9983e 86.5px,#fa9c3c 93.5px,#f79342 100.5px,#f0804e 107.5px,#ed7a52 115.5px,#ee7b51 133.5px,#f2844b 139.5px,#f99a3e 148.5px,#fa9c3c 154.5px,#f89441 161.5px,#f07f4f 169.5px,#ed7a52 178.5px,#ed7a52 183px)"></i><i style="top:94px;height:5px;background:linear-gradient(90deg,#ed7a52 0px,#ef7c51 11.5px,#f3874a 17.5px,#f99a3e 25.5px,#fa9c3c 31.5px,#f79342 38.5px,#f07f4f 46.5px,#ed7a52 55.5px,#ee7b51 71.5px,#f1834c 77.5px,#f9983e 86.5px,#fa9c3c 93.5px,#f89441 99.5px,#f0804e 107.5px,#ed7a52 115.5px,#ee7b51 133.5px,#f2844b 139.5px,#f99a3e 148.5px,#fa9c3c 154.5px,#f79143 162.5px,#f07f4f 169.5px,#ed7a52 178.5px,#ed7a52 183px)"></i><i style="top:99px;height:1px;background:linear-gradient(90deg,#ed7a52 0px,#ef7c51 11.5px,#f3874a 17.5px,#f9973f 23.5px,#fa9c3c 30.5px,#f89540 37.5px,#f07f4f 46.5px,#ed7a52 55.5px,#ee7b51 71.5px,#f1834c 77.5px,#f9983e 86.5px,#fa9c3c 93.5px,#f79342 100.5px,#f0804e 107.5px,#ed7a52 115.5px,#ee7b51 133.5px,#f2844b 139.5px,#f99a3e 148.5px,#fa9c3c 154.5px,#f79143 162.5px,#f07f4f 169.5px,#ed7a52 178.5px,#ed7a52 183px)"></i><i style="top:100px;height:1px;background:linear-gradient(90deg,#f48948 0px,#f68d45 13.5px,#fa9c3c 26.5px,#fa9c3c 34.5px,#f58b47 50.5px,#f58b47 71.5px,#f99a3e 84.5px,#fa9e3b 93.5px,#f79342 104.5px,#f58b47 113.5px,#f58b47 132.5px,#f9973f 143.5px,#fa9e3b 154.5px,#f89540 164.5px,#f58c46 171.5px,#f48948 183px)"></i><i style="top:101px;height:5px;background:linear-gradient(90deg,#f48948 0px,#f68d45 13.5px,#fa9c3c 26.5px,#fa9c3c 34.5px,#f58b47 50.5px,#f58b47 71.5px,#fa9c3c 88.5px,#fa9c3c 96.5px,#f58b47 112.5px,#f58b47 132.5px,#f9973f 143.5px,#fa9e3b 154.5px,#f89540 164.5px,#f58c46 171.5px,#f48948 183px)"></i><i style="top:106px;height:1px;background:linear-gradient(90deg,#f48948 0px,#f68d45 13.5px,#fa9c3c 26.5px,#fa9c3c 34.5px,#f58b47 50.5px,#f58b47 71.5px,#f99a3e 84.5px,#fa9e3b 93.5px,#f79342 104.5px,#f58b47 113.5px,#f58b47 133.5px,#fa9c3c 149.5px,#fa9c3c 157.5px,#f79143 166.5px,#f58b47 175.5px,#f48948 183px)"></i><i style="top:107px;height:1px;background:linear-gradient(90deg,#e76f5a 0px,#e97257 11.5px,#ee7b51 16.5px,#f79342 23.5px,#f99a3e 30.5px,#f79143 37.5px,#eb7556 46.5px,#e76f5a 56.5px,#e97158 72.5px,#ef7c51 78.5px,#f79342 85.5px,#f99a3e 91.5px,#f79342 98.5px,#eb7655 107.5px,#e87059 115.5px,#e87059 131.5px,#eb7655 137.5px,#f89540 148.5px,#f99a3e 154.5px,#f79143 160.5px,#ec7754 168.5px,#e87059 175.5px,#e76f5a 183px)"></i><i style="top:108px;height:5px;background:linear-gradient(90deg,#e76f5a 0px,#e97257 11.5px,#ee7b51 16.5px,#f79342 23.5px,#f99a3e 30.5px,#f79143 37.5px,#eb7556 46.5px,#e76f5a 56.5px,#e97158 72.5px,#ef7c51 78.5px,#f79342 85.5px,#f99a3e 91.5px,#f79342 98.5px,#eb7655 107.5px,#e76f5a 117.5px,#e97158 133.5px,#ed7953 138.5px,#f89441 147.5px,#f99a3e 154.5px,#f79143 160.5px,#ec7754 168.5px,#e87059 175.5px,#e76f5a 183px)"></i><i style="top:113px;height:1px;background:linear-gradient(90deg,#e76f5a 0px,#e97257 11.5px,#ee7b51 16.5px,#f79342 23.5px,#f99a3e 30.5px,#f79143 37.5px,#eb7556 46.5px,#e76f5a 56.5px,#e97158 72.5px,#ef7c51 78.5px,#f79342 85.5px,#f99a3e 91.5px,#f79342 98.5px,#eb7655 107.5px,#e87059 115.5px,#e87059 131.5px,#eb7655 137.5px,#f89540 148.5px,#f99a3e 154.5px,#f79143 160.5px,#ec7754 168.5px,#e87059 175.5px,#e76f5a 183px)"></i><i style="top:114px;height:1px;background:linear-gradient(90deg,#f48849 0px,#f58b47 12.5px,#fa9b3d 27.5px,#f9983e 37.5px,#f48948 49.5px,#f48948 72.5px,#fa9b3d 88.5px,#f9983e 98.5px,#f58b47 109.5px,#f48849 129.5px,#f68d45 138.5px,#f99a3e 148.5px,#f99a3e 158.5px,#f48948 173.5px,#f48849 183px)"></i><i style="top:115px;height:5px;background:linear-gradient(90deg,#f48849 0px,#f58b47 12.5px,#fa9b3d 26.5px,#f9983e 37.5px,#f48948 49.5px,#f48948 72.5px,#fa9b3d 88.5px,#f9983e 98.5px,#f48948 111.5px,#f48948 133.5px,#f99a3e 148.5px,#f99a3e 158.5px,#f48948 173.5px,#f48849 183px)"></i><i style="top:120px;height:1px;background:linear-gradient(90deg,#f48849 0px,#f58b47 12.5px,#fa9b3d 27.5px,#f9983e 37.5px,#f48948 49.5px,#f48948 72.5px,#fa9b3d 88.5px,#f9983e 98.5px,#f58b47 109.5px,#f48849 125.5px,#f58b47 135.5px,#fa9b3d 150.5px,#f9983e 160.5px,#f48948 172.5px,#f48849 183px)"></i><i style="top:121px;height:1px;background:linear-gradient(90deg,#de6164 0px,#e26561 12.5px,#e97257 17.5px,#f48849 23.5px,#f68f44 27.5px,#f68f44 33.5px,#f2844b 38.5px,#e56a5d 45.5px,#df6263 53.5px,#e06363 71.5px,#e66c5c 77.5px,#f48948 85.5px,#f79044 90.5px,#f68d45 96.5px,#f07f4f 101.5px,#e4695e 107.5px,#df6263 114.5px,#e06363 133.5px,#e76e5b 139.5px,#f58b47 147.5px,#f79044 153.5px,#f58b47 159.5px,#e56a5d 168.5px,#df6263 176.5px,#de6164 183px)"></i><i style="top:122px;height:5px;background:linear-gradient(90deg,#de6164 0px,#e26561 12.5px,#e97257 17.5px,#f58b47 24.5px,#f79044 29.5px,#f68d45 34.5px,#f0804e 39.5px,#e56a5d 45.5px,#e06363 50.5px,#df6263 69.5px,#e3685f 75.5px,#ee7b51 81.5px,#f48948 85.5px,#f79044 90.5px,#f68f44 95.5px,#f1814d 100.5px,#e4695e 107.5px,#df6263 114.5px,#df6263 131.5px,#e4695e 137.5px,#ed7953 142.5px,#f58b47 147.5px,#f79044 153.5px,#f58c46 158.5px,#f0804e 162.5px,#e56a5d 168.5px,#df6263 176.5px,#de6164 183px)"></i><i style="top:127px;height:1px;background:linear-gradient(90deg,#de6164 0px,#e26561 12.5px,#e97257 17.5px,#f48849 23.5px,#f68f44 27.5px,#f68f44 33.5px,#f2844b 38.5px,#e56a5d 45.5px,#df6263 53.5px,#e06363 71.5px,#e66c5c 77.5px,#f48948 85.5px,#f79044 90.5px,#f68d45 96.5px,#ef7e50 101.5px,#e4695e 107.5px,#df6263 114.5px,#e06363 133.5px,#e76e5b 139.5px,#f58b47 147.5px,#f79044 153.5px,#f58b47 159.5px,#e56a5d 168.5px,#df6263 176.5px,#de6164 183px)"></i><i style="top:128px;height:1px;background:linear-gradient(90deg,#f3854b 0px,#f48849 12.5px,#f9983e 26.5px,#f9983e 33.5px,#f3874a 50.5px,#f3874a 72.5px,#f9983e 88.5px,#f9983e 95.5px,#f3874a 112.5px,#f3874a 133.5px,#f9983e 150.5px,#f9973f 159.5px,#f48849 171.5px,#f3854b 183px)"></i><i style="top:129px;height:6px;background:linear-gradient(90deg,#f3854b 0px,#f48948 13.5px,#f9983e 26.5px,#f9983e 34.5px,#f3874a 50.5px,#f3874a 71.5px,#f9983e 88.5px,#f9983e 95.5px,#f3874a 112.5px,#f3874a 133.5px,#f79044 142.5px,#f9983e 150.5px,#f9973f 159.5px,#f48849 171.5px,#f3854b 183px)"></i><i style="top:135px;height:1px;background:linear-gradient(90deg,#f3854b 0px,#f48849 12.5px,#f9983e 26.5px,#f9983e 33.5px,#f3874a 50.5px,#f3874a 72.5px,#f9983e 88.5px,#f9973f 97.5px,#f3874a 111.5px,#f3874a 133.5px,#f9983e 150.5px,#f9973f 159.5px,#f3874a 173.5px,#f3854b 183px)"></i><i style="top:136px;height:1px;background:linear-gradient(90deg,#d04d73 0px,#d45270 12.5px,#db5c68 16.5px,#ed7a52 24.5px,#f0804e 30.5px,#ed7953 36.5px,#d7566c 45.5px,#d14e72 53.5px,#d24f71 71.5px,#d7566c 76.5px,#ed7953 85.5px,#f0804e 92.5px,#ec7754 98.5px,#d6556d 107.5px,#d14e72 114.5px,#d14e72 131.5px,#d8576b 138.5px,#ed7a52 147.5px,#f0804e 153.5px,#ed7953 159.5px,#df6263 165.5px,#d6556d 169.5px,#d14e72 176.5px,#d04d73 183px)"></i><i style="top:137px;height:5px;background:linear-gradient(90deg,#d04d73 0px,#d35171 11.5px,#da5b69 16.5px,#ec7754 23.5px,#f0804e 30.5px,#ed7953 36.5px,#d7566c 45.5px,#d14e72 51.5px,#d14e72 70.5px,#d7566c 76.5px,#ed7953 85.5px,#f0804e 91.5px,#ec7754 98.5px,#d6556d 107.5px,#d04d73 115.5px,#d24f71 133.5px,#d8576b 138.5px,#eb7655 146.5px,#f07f4f 151.5px,#ef7e50 156.5px,#e97257 161.5px,#d8576b 168.5px,#d14e72 175.5px,#d04d73 183px)"></i><i style="top:142px;height:1px;background:linear-gradient(90deg,#d04d73 0px,#d45270 12.5px,#db5c68 16.5px,#ed7a52 24.5px,#f0804e 30.5px,#ed7953 36.5px,#d7566c 45.5px,#d14e72 53.5px,#d24f71 71.5px,#d7566c 76.5px,#ed7953 85.5px,#f0804e 92.5px,#ec7754 98.5px,#d6556d 107.5px,#d14e72 114.5px,#d14e72 131.5px,#d8576b 138.5px,#ed7a52 147.5px,#f0804e 153.5px,#ed7953 159.5px,#df6263 165.5px,#d6556d 169.5px,#d14e72 176.5px,#d04d73 183px)"></i><i style="top:143px;height:1px;background:linear-gradient(90deg,#f1834c 0px,#f3854b 12.5px,#f89441 25.5px,#f89441 35.5px,#f1834c 51.5px,#f2844b 72.5px,#f89540 88.5px,#f79342 98.5px,#f2844b 111.5px,#f2844b 134.5px,#f89540 150.5px,#f79342 160.5px,#f2844b 172.5px,#f1834c 183px)"></i><i style="top:144px;height:5px;background:linear-gradient(90deg,#f1834c 0px,#f3854b 12.5px,#f89540 27.5px,#f79342 37.5px,#f2844b 49.5px,#f2844b 72.5px,#f89540 88.5px,#f79342 98.5px,#f3854b 109.5px,#f1834c 130.5px,#f58b47 140.5px,#f89540 150.5px,#f79342 160.5px,#f2844b 172.5px,#f1834c 183px)"></i><i style="top:149px;height:1px;background:linear-gradient(90deg,#f1814d 0px,#f3874a 14.5px,#f89540 27.5px,#f79342 36.5px,#f2844b 49.5px,#f1834c 70.5px,#f68d45 80.5px,#f89540 90.5px,#f79143 99.5px,#f2844b 111.5px,#f1834c 131.5px,#f58c46 141.5px,#f89540 151.5px,#f79342 160.5px,#f2844b 172.5px,#f1814d 183px)"></i><i style="top:150px;height:1px;background:linear-gradient(90deg,#be3885 0px,#c13b82 10.5px,#ca457a 16.5px,#df6263 26.5px,#e26660 30.5px,#db5c68 36.5px,#c6417d 45.5px,#bf3984 53.5px,#c03a83 71.5px,#c8437b 77.5px,#e06363 88.5px,#e26660 92.5px,#d8576b 99.5px,#c6417d 107.5px,#bf3984 115.5px,#c03a83 132.5px,#c7427c 138.5px,#e16462 150.5px,#e26561 155.5px,#d7566c 161.5px,#c5407e 169.5px,#bf3984 176.5px,#be3885 183px)"></i><i style="top:151px;height:5px;background:linear-gradient(90deg,#be3885 0px,#c13b82 11.5px,#cd4a76 18.5px,#de5f65 25.5px,#e26660 30.5px,#db5c68 36.5px,#c6417d 45.5px,#be3885 54.5px,#c03a83 71.5px,#ca457a 78.5px,#e06363 88.5px,#e26660 92.5px,#d8576b 99.5px,#c5407e 107.5px,#be3885 115.5px,#c03a83 133.5px,#cb4679 140.5px,#df6263 149.5px,#e26660 153.5px,#db5c68 159.5px,#c6417d 168.5px,#be3885 177.5px,#be3885 183px)"></i><i style="top:156px;height:1px;background:linear-gradient(90deg,#be3885 0px,#c13b82 10.5px,#ca457a 16.5px,#df6263 26.5px,#e26660 30.5px,#db5c68 36.5px,#c6417d 45.5px,#bf3984 53.5px,#c03a83 71.5px,#c8437b 77.5px,#e06363 88.5px,#e26660 92.5px,#d8576b 99.5px,#c6417d 107.5px,#bf3984 115.5px,#c03a83 132.5px,#c7427c 138.5px,#e16462 150.5px,#e26561 155.5px,#d7566c 161.5px,#c5407e 169.5px,#bf3984 176.5px,#be3885 183px)"></i><i style="top:157px;height:1px;background:linear-gradient(90deg,#f07f4f 0px,#f1814d 12.5px,#f79143 27.5px,#f68f44 37.5px,#f0804e 49.5px,#f0804e 72.5px,#f79143 88.5px,#f68f44 98.5px,#f0804e 111.5px,#f0804e 134.5px,#f79044 148.5px,#f79044 158.5px,#f0804e 173.5px,#f07f4f 183px)"></i><i style="top:158px;height:5px;background:linear-gradient(90deg,#f07f4f 0px,#f1834c 13.5px,#f79143 26.5px,#f79143 33.5px,#f0804e 50.5px,#f0804e 71.5px,#f79143 88.5px,#f79044 97.5px,#f0804e 112.5px,#f0804e 133.5px,#f79143 150.5px,#f79044 159.5px,#f1814d 171.5px,#f07f4f 183px)"></i><i style="top:163px;height:1px;background:linear-gradient(90deg,#f07f4f 0px,#f1814d 12.5px,#f79044 25.5px,#f79044 35.5px,#f07f4f 51.5px,#f0804e 72.5px,#f79143 89.5px,#f68f44 98.5px,#f0804e 111.5px,#f0804e 134.5px,#f79143 150.5px,#f68f44 160.5px,#f0804e 172.5px,#f07f4f 183px)"></i><i style="top:164px;height:1px;background:linear-gradient(90deg,#9e199d 0px,#a11b9b 9.5px,#ab2494 15.5px,#cc4778 25.5px,#d24f71 29.5px,#cf4c74 33.5px,#bb3488 40.5px,#a72197 46.5px,#9e199d 54.5px,#a01a9c 69.5px,#aa2395 76.5px,#cc4977 87.5px,#d24f71 91.5px,#ce4b75 95.5px,#b22b8f 104.5px,#a51f99 109.5px,#9e199d 117.5px,#a01a9c 131.5px,#a82296 137.5px,#bf3984 144.5px,#cf4c74 150.5px,#d24f71 154.5px,#c9447a 159.5px,#ab2494 168.5px,#a11b9b 173.5px,#9e199d 183px)"></i><i style="top:165px;height:5px;background:linear-gradient(90deg,#9d189d 0px,#a21d9a 11.5px,#b22b8f 17.5px,#ce4b75 26.5px,#d24f71 30.5px,#c8437b 36.5px,#aa2395 45.5px,#a01a9c 51.5px,#9e199d 66.5px,#a51f99 74.5px,#ba3388 81.5px,#cc4977 87.5px,#d24f71 92.5px,#cc4778 96.5px,#a82296 107.5px,#a01a9c 113.5px,#9e199d 126.5px,#a21d9a 134.5px,#b42e8d 141.5px,#cd4a76 149.5px,#d24f71 153.5px,#cd4a76 157.5px,#aa2395 168.5px,#9e199d 176.5px,#9d189d 183px)"></i><i style="top:170px;height:1px;background:linear-gradient(90deg,#9e199d 0px,#a31e9a 11.5px,#b52f8c 18.5px,#cc4977 25.5px,#d24f71 30.5px,#cd4a76 34.5px,#aa2395 45.5px,#a01a9c 52.5px,#a01a9c 69.5px,#aa2395 76.5px,#cd4a76 87.5px,#d24f71 91.5px,#cc4977 96.5px,#ac2694 106.5px,#a11b9b 112.5px,#9e199d 127.5px,#a62098 136.5px,#b83289 142.5px,#d04d73 150.5px,#d14e72 155.5px,#c6417d 160.5px,#ab2494 168.5px,#a01a9c 175.5px,#9e199d 183px)"></i><i style="top:171px;height:7px;background:#f0f921"></i></div>
<div class="hm" style="left:571px;top:210px;width:183px;height:178px"><i style="top:0px;height:7px;background:linear-gradient(90deg,#f9973f 0px,#f99a3e 12.5px,#fdae32 26.5px,#fdae32 35.5px,#f9983e 51.5px,#f9983e 71.5px,#fa9e3b 77.5px,#fdae32 88.5px,#fdae32 97.5px,#f99a3e 111.5px,#f9973f 128.5px,#fa9c3c 137.5px,#fdae32 149.5px,#fdae32 158.5px,#f9983e 174.5px,#f9973f 183px)"></i><i style="top:7px;height:7px;background:linear-gradient(90deg,#f89540 0px,#f99a3e 13.5px,#fdae32 27.5px,#fdae32 34.5px,#f9983e 50.5px,#f89540 67.5px,#fa9c3c 76.5px,#fdac33 87.5px,#fdae32 94.5px,#fca537 103.5px,#f9973f 113.5px,#f9973f 132.5px,#fb9f3a 140.5px,#fdae32 150.5px,#fdae32 157.5px,#fca338 165.5px,#f9983e 173.5px,#f89540 183px)"></i><i style="top:14px;height:7px;background:linear-gradient(90deg,#f9973f 0px,#f99a3e 12.5px,#fdae32 26.5px,#fdae32 35.5px,#f9983e 51.5px,#f9983e 71.5px,#fa9e3b 77.5px,#fdae32 88.5px,#fdae32 97.5px,#f99a3e 111.5px,#f9973f 128.5px,#fa9c3c 137.5px,#fdae32 149.5px,#fdae32 158.5px,#f9983e 174.5px,#f9973f 183px)"></i><i style="top:21px;height:1px;background:linear-gradient(90deg,#f89441 0px,#f9983e 12.5px,#fdac33 26.5px,#fdac33 35.5px,#f9973f 51.5px,#f89540 69.5px,#fa9e3b 78.5px,#fdae32 89.5px,#fdab33 98.5px,#f9973f 112.5px,#f89540 131.5px,#fba238 142.5px,#fdac33 149.5px,#fdac33 158.5px,#f9973f 174.5px,#f89540 183px)"></i><i style="top:22px;height:5px;background:linear-gradient(90deg,#f89441 0px,#f9983e 12.5px,#fdac33 26.5px,#fdac33 35.5px,#f9973f 51.5px,#f89540 69.5px,#fa9e3b 78.5px,#fdae32 89.5px,#fdab33 98.5px,#f9973f 112.5px,#f89540 131.5px,#fba139 141.5px,#fdac33 149.5px,#fdac33 158.5px,#f9973f 174.5px,#f89540 183px)"></i><i style="top:27px;height:1px;background:linear-gradient(90deg,#f89441 0px,#f9983e 12.5px,#fdac33 26.5px,#fdac33 35.5px,#f9973f 51.5px,#f89540 69.5px,#fa9e3b 78.5px,#fdae32 89.5px,#fdab33 98.5px,#f9973f 112.5px,#f89540 131.5px,#fba238 142.5px,#fdac33 149.5px,#fdac33 158.5px,#f9973f 174.5px,#f89540 183px)"></i><i style="top:28px;height:1px;background:linear-gradient(90deg,#f9973f 0px,#f99a3e 12.5px,#fdae32 26.5px,#fdae32 35.5px,#f9983e 51.5px,#f9983e 71.5px,#fb9f3a 78.5px,#fdae32 88.5px,#fdae32 96.5px,#f99a3e 111.5px,#f9973f 128.5px,#fa9c3c 137.5px,#fdae32 149.5px,#fdae32 158.5px,#f9983e 174.5px,#f9973f 183px)"></i><i style="top:29px;height:5px;background:linear-gradient(90deg,#f9973f 0px,#f99a3e 12.5px,#fdae32 26.5px,#fdae32 35.5px,#f9983e 51.5px,#f9983e 71.5px,#fa9e3b 77.5px,#fdae32 88.5px,#fdae32 96.5px,#f99a3e 111.5px,#f9973f 128.5px,#fa9c3c 137.5px,#fdae32 149.5px,#fdae32 158.5px,#f9983e 174.5px,#f9973f 183px)"></i><i style="top:34px;height:1px;background:linear-gradient(90deg,#f9973f 0px,#f99a3e 12.5px,#fdae32 26.5px,#fdae32 35.5px,#f9983e 51.5px,#f9983e 71.5px,#fb9f3a 78.5px,#fdae32 88.5px,#fdae32 96.5px,#f99a3e 111.5px,#f9973f 128.5px,#fa9c3c 137.5px,#fdae32 149.5px,#fdae32 158.5px,#f9983e 174.5px,#f9973f 183px)"></i><i style="top:35px;height:1px;background:linear-gradient(90deg,#f89441 0px,#f9973f 12.5px,#fdac33 27.5px,#fdac33 34.5px,#f89540 51.5px,#f89540 72.5px,#fba238 81.5px,#fdac33 88.5px,#fdac33 96.5px,#f89540 113.5px,#f89540 133.5px,#fdac33 150.5px,#fdac33 157.5px,#f89540 174.5px,#f89441 183px)"></i><i style="top:36px;height:5px;background:linear-gradient(90deg,#f89441 0px,#f9973f 12.5px,#fdac33 27.5px,#fdac33 34.5px,#f89540 51.5px,#f89540 72.5px,#fba238 81.5px,#fdac33 88.5px,#fdac33 96.5px,#fa9c3c 107.5px,#f89441 116.5px,#f89540 133.5px,#fdac33 150.5px,#fdac33 157.5px,#f89540 174.5px,#f89441 183px)"></i><i style="top:41px;height:1px;background:linear-gradient(90deg,#f89441 0px,#f9973f 12.5px,#fdac33 27.5px,#fdac33 34.5px,#f89540 51.5px,#f89540 72.5px,#fba238 81.5px,#fdac33 88.5px,#fdac33 96.5px,#f89540 113.5px,#f89540 133.5px,#fdac33 150.5px,#fdac33 157.5px,#f89540 174.5px,#f89441 183px)"></i><i style="top:42px;height:8px;background:linear-gradient(90deg,#f9973f 0px,#f99a3e 12.5px,#fdae32 26.5px,#fdae32 35.5px,#f9983e 51.5px,#f9983e 72.5px,#fdae32 88.5px,#fdae32 96.5px,#f9983e 112.5px,#f9983e 133.5px,#fdae32 149.5px,#fdae32 158.5px,#f9983e 174.5px,#f9973f 183px)"></i><i style="top:50px;height:1px;background:linear-gradient(90deg,#f79342 0px,#f89540 12.5px,#fdab33 26.5px,#fdab33 35.5px,#fb9f3a 43.5px,#f89441 51.5px,#f89441 72.5px,#fba139 81.5px,#fdab33 88.5px,#fdab33 97.5px,#f89441 113.5px,#f89441 133.5px,#fba238 143.5px,#fdab33 149.5px,#fdab33 158.5px,#fb9f3a 166.5px,#f89441 174.5px,#f79342 183px)"></i><i style="top:51px;height:5px;background:linear-gradient(90deg,#f79342 0px,#f89540 12.5px,#fdab33 26.5px,#fdab33 35.5px,#fb9f3a 43.5px,#f89441 51.5px,#f89441 72.5px,#fba139 81.5px,#fdab33 88.5px,#fdab33 97.5px,#f89441 112.5px,#f89441 133.5px,#fba238 143.5px,#fdab33 149.5px,#fdab33 158.5px,#fb9f3a 166.5px,#f89441 174.5px,#f79342 183px)"></i><i style="top:56px;height:1px;background:linear-gradient(90deg,#f79342 0px,#f89540 12.5px,#fdab33 26.5px,#fdab33 35.5px,#fb9f3a 43.5px,#f89441 51.5px,#f89441 72.5px,#fba139 81.5px,#fdab33 88.5px,#fdab33 97.5px,#f89441 113.5px,#f89441 133.5px,#fba238 143.5px,#fdab33 149.5px,#fdab33 158.5px,#fb9f3a 166.5px,#f89441 174.5px,#f79342 183px)"></i><i style="top:57px;height:1px;background:linear-gradient(90deg,#f9973f 0px,#f9983e 10.5px,#fdae32 26.5px,#fdae32 35.5px,#f9983e 51.5px,#f9983e 72.5px,#fdae32 88.5px,#fdae32 96.5px,#f9983e 112.5px,#f9983e 133.5px,#fdac33 148.5px,#fdaf31 155.5px,#fca636 164.5px,#f9983e 174.5px,#f9973f 183px)"></i><i style="top:58px;height:5px;background:linear-gradient(90deg,#f9973f 0px,#f99a3e 12.5px,#fdae32 26.5px,#fdae32 35.5px,#f9983e 51.5px,#f9983e 72.5px,#fdae32 88.5px,#fdae32 96.5px,#f9983e 112.5px,#f9983e 133.5px,#fdae32 149.5px,#fdae32 158.5px,#f9983e 174.5px,#f9973f 183px)"></i><i style="top:63px;height:1px;background:linear-gradient(90deg,#f9973f 0px,#f9983e 10.5px,#fdae32 26.5px,#fdae32 35.5px,#f9983e 51.5px,#f9983e 72.5px,#fdae32 88.5px,#fdae32 96.5px,#f9983e 112.5px,#f9983e 133.5px,#fdac33 148.5px,#fdaf31 155.5px,#fca636 164.5px,#f9983e 174.5px,#f9973f 183px)"></i><i style="top:64px;height:1px;background:linear-gradient(90deg,#f79044 0px,#f89441 12.5px,#fca934 26.5px,#fca934 35.5px,#fa9e3b 43.5px,#f79143 52.5px,#f79143 70.5px,#f99a3e 78.5px,#fca835 86.5px,#fdab33 95.5px,#fa9b3d 106.5px,#f79342 112.5px,#f79044 127.5px,#f89540 136.5px,#fca934 149.5px,#fca934 158.5px,#f79143 175.5px,#f79044 183px)"></i><i style="top:65px;height:5px;background:linear-gradient(90deg,#f79044 0px,#f89441 12.5px,#fdab33 28.5px,#fca835 37.5px,#f79342 50.5px,#f79044 66.5px,#f9983e 77.5px,#fca835 86.5px,#fdab33 95.5px,#fa9b3d 106.5px,#f79342 112.5px,#f79044 127.5px,#f89540 136.5px,#fca934 149.5px,#fca934 158.5px,#f79143 175.5px,#f79044 183px)"></i><i style="top:70px;height:1px;background:linear-gradient(90deg,#f79044 0px,#f89441 12.5px,#fca934 26.5px,#fca934 35.5px,#fa9e3b 43.5px,#f79143 52.5px,#f79143 70.5px,#f99a3e 78.5px,#fca835 86.5px,#fdab33 95.5px,#fa9b3d 106.5px,#f79342 112.5px,#f79044 127.5px,#f89540 136.5px,#fca934 149.5px,#fca934 158.5px,#f79143 175.5px,#f79044 183px)"></i><i style="top:71px;height:1px;background:linear-gradient(90deg,#f89540 0px,#f99a3e 12.5px,#fdac33 25.5px,#fdae32 32.5px,#fca835 40.5px,#f99a3e 49.5px,#f89540 63.5px,#fa9b3d 75.5px,#fdae32 88.5px,#fdae32 96.5px,#f9983e 112.5px,#f9973f 128.5px,#fa9c3c 138.5px,#fdac33 148.5px,#fdae32 155.5px,#fca636 164.5px,#f9983e 174.5px,#f9973f 183px)"></i><i style="top:72px;height:5px;background:linear-gradient(90deg,#f89540 0px,#f99a3e 12.5px,#fdac33 25.5px,#fdae32 32.5px,#fca835 40.5px,#f99a3e 49.5px,#f9973f 63.5px,#f99a3e 74.5px,#fdae32 88.5px,#fdae32 96.5px,#f9983e 112.5px,#f9973f 130.5px,#fa9c3c 138.5px,#fdac33 148.5px,#fdae32 155.5px,#fca636 164.5px,#f9983e 174.5px,#f9973f 183px)"></i><i style="top:77px;height:1px;background:linear-gradient(90deg,#f89540 0px,#f99a3e 12.5px,#fdac33 25.5px,#fdae32 32.5px,#fca835 40.5px,#f99a3e 49.5px,#f89540 63.5px,#fa9b3d 75.5px,#fdae32 88.5px,#fdae32 96.5px,#f9983e 112.5px,#f9973f 128.5px,#fa9c3c 138.5px,#fdac33 148.5px,#fdae32 155.5px,#fca636 164.5px,#f9983e 174.5px,#f9973f 183px)"></i><i style="top:78px;height:1px;background:linear-gradient(90deg,#f68d45 0px,#f79143 12.5px,#fca835 27.5px,#fca835 35.5px,#f79044 50.5px,#f68d45 65.5px,#f89441 76.5px,#fca835 88.5px,#fca835 96.5px,#fa9c3c 104.5px,#f79342 110.5px,#f68f44 117.5px,#f68f44 131.5px,#f9983e 140.5px,#fca835 149.5px,#fca835 157.5px,#fa9b3d 166.5px,#f79044 174.5px,#f68d45 183px)"></i><i style="top:79px;height:5px;background:linear-gradient(90deg,#f68d45 0px,#f79143 12.5px,#fca835 27.5px,#fca835 35.5px,#f79044 50.5px,#f68d45 66.5px,#f89540 77.5px,#fca835 88.5px,#fca835 96.5px,#fa9c3c 104.5px,#f79342 110.5px,#f68f44 117.5px,#f68f44 132.5px,#fa9c3c 142.5px,#fca934 151.5px,#fca537 160.5px,#f79044 173.5px,#f68d45 183px)"></i><i style="top:84px;height:1px;background:linear-gradient(90deg,#f68d45 0px,#f79143 12.5px,#fca835 27.5px,#fca835 35.5px,#f79044 50.5px,#f68d45 65.5px,#f89441 76.5px,#fca835 88.5px,#fca835 96.5px,#fa9c3c 104.5px,#f79342 110.5px,#f68f44 117.5px,#f68f44 131.5px,#f9983e 140.5px,#fca835 149.5px,#fca835 157.5px,#fa9b3d 166.5px,#f79044 174.5px,#f68d45 183px)"></i><i style="top:85px;height:1px;background:linear-gradient(90deg,#f89540 0px,#f99a3e 12.5px,#fdae32 27.5px,#fdac33 36.5px,#f9983e 50.5px,#f89540 66.5px,#fa9b3d 75.5px,#fdac33 87.5px,#fdac33 97.5px,#f9983e 112.5px,#f89540 128.5px,#fa9e3b 139.5px,#fdae32 150.5px,#fdac33 159.5px,#f9983e 173.5px,#f89540 183px)"></i><i style="top:86px;height:6px;background:linear-gradient(90deg,#f89540 0px,#f99a3e 12.5px,#fdae32 27.5px,#fdac33 36.5px,#f9983e 50.5px,#f89540 66.5px,#fa9b3d 75.5px,#fdac33 87.5px,#fdac33 97.5px,#f9983e 112.5px,#f89540 127.5px,#fa9c3c 138.5px,#fdae32 150.5px,#fdac33 159.5px,#f9983e 173.5px,#f89540 183px)"></i><i style="top:92px;height:1px;background:linear-gradient(90deg,#f89540 0px,#f99a3e 12.5px,#fdae32 27.5px,#fdac33 36.5px,#f9983e 50.5px,#f89540 66.5px,#fa9b3d 75.5px,#fdac33 87.5px,#fdac33 97.5px,#f9983e 112.5px,#f89540 128.5px,#fa9e3b 139.5px,#fdae32 150.5px,#fdac33 159.5px,#f9983e 173.5px,#f89540 183px)"></i><i style="top:93px;height:1px;background:linear-gradient(90deg,#f58b47 0px,#f68d45 11.5px,#fa9b3d 20.5px,#fca636 28.5px,#fca636 34.5px,#fa9c3c 41.5px,#f68d45 50.5px,#f58b47 68.5px,#f79342 77.5px,#fca338 86.5px,#fca835 93.5px,#fa9e3b 102.5px,#f68f44 110.5px,#f58b47 123.5px,#f68d45 134.5px,#fa9e3b 144.5px,#fca636 150.5px,#fca636 156.5px,#f99a3e 165.5px,#f68d45 173.5px,#f58b47 183px)"></i><i style="top:94px;height:5px;background:linear-gradient(90deg,#f58b47 0px,#f68d45 11.5px,#f9973f 18.5px,#fca537 26.5px,#fca835 32.5px,#fba139 39.5px,#f79044 48.5px,#f58b47 58.5px,#f68d45 73.5px,#fca636 89.5px,#fca636 96.5px,#f89540 106.5px,#f58c46 113.5px,#f58c46 132.5px,#f99a3e 142.5px,#fca537 148.5px,#fca835 154.5px,#fa9e3b 163.5px,#f68f44 171.5px,#f58b47 183px)"></i><i style="top:99px;height:1px;background:linear-gradient(90deg,#f58b47 0px,#f68d45 11.5px,#fa9b3d 20.5px,#fca636 28.5px,#fca636 34.5px,#fa9c3c 41.5px,#f68d45 50.5px,#f58b47 68.5px,#f79342 77.5px,#fca338 86.5px,#fca835 93.5px,#fa9e3b 102.5px,#f68f44 110.5px,#f58b47 123.5px,#f68d45 134.5px,#fa9e3b 144.5px,#fca636 150.5px,#fca636 156.5px,#f99a3e 165.5px,#f68d45 173.5px,#f58b47 183px)"></i><i style="top:100px;height:6px;background:linear-gradient(90deg,#f89540 0px,#f9983e 12.5px,#fdac33 26.5px,#fdac33 35.5px,#f9973f 51.5px,#f9973f 71.5px,#fa9c3c 77.5px,#fdac33 88.5px,#fdac33 97.5px,#f9983e 111.5px,#f89540 129.5px,#fa9c3c 138.5px,#fdac33 149.5px,#fdac33 158.5px,#f9973f 174.5px,#f89540 183px)"></i><i style="top:106px;height:1px;background:linear-gradient(90deg,#f89540 0px,#f9983e 12.5px,#fdac33 26.5px,#fdac33 35.5px,#f9973f 51.5px,#f9973f 71.5px,#fa9c3c 77.5px,#fdac33 88.5px,#fdac33 96.5px,#f9983e 111.5px,#f89540 129.5px,#fa9c3c 138.5px,#fdac33 149.5px,#fdac33 158.5px,#f9973f 174.5px,#f89540 183px)"></i><i style="top:107px;height:1px;background:linear-gradient(90deg,#f3854b 0px,#f48948 12.5px,#fba238 27.5px,#fba238 35.5px,#f48849 50.5px,#f3854b 67.5px,#f68d45 77.5px,#fba139 87.5px,#fca338 95.5px,#f99a3e 102.5px,#f58c46 109.5px,#f3854b 119.5px,#f48849 134.5px,#f99a3e 144.5px,#fca338 151.5px,#fba139 158.5px,#f48849 173.5px,#f3854b 183px)"></i><i style="top:108px;height:5px;background:linear-gradient(90deg,#f3854b 0px,#f48948 12.5px,#f9973f 20.5px,#fca338 29.5px,#fba139 36.5px,#f48849 50.5px,#f3854b 67.5px,#f68d45 77.5px,#fba139 87.5px,#fca338 95.5px,#f99a3e 102.5px,#f58c46 109.5px,#f3854b 119.5px,#f48849 134.5px,#f99a3e 144.5px,#fca338 151.5px,#fba139 158.5px,#f48849 173.5px,#f3854b 183px)"></i><i style="top:113px;height:1px;background:linear-gradient(90deg,#f3854b 0px,#f48948 12.5px,#fba238 27.5px,#fba238 35.5px,#f48849 50.5px,#f3854b 67.5px,#f68d45 77.5px,#fba139 87.5px,#fca338 95.5px,#f99a3e 102.5px,#f58c46 109.5px,#f3854b 119.5px,#f48849 134.5px,#f99a3e 144.5px,#fca338 151.5px,#fba139 158.5px,#f48849 173.5px,#f3854b 183px)"></i><i style="top:114px;height:1px;background:linear-gradient(90deg,#f89441 0px,#f9983e 13.5px,#fdab33 26.5px,#fdab33 36.5px,#f9973f 50.5px,#f89441 67.5px,#fa9b3d 76.5px,#fdab33 87.5px,#fdab33 97.5px,#f89540 113.5px,#f89540 132.5px,#fa9e3b 140.5px,#fdab33 149.5px,#fdab33 159.5px,#f9973f 173.5px,#f89441 183px)"></i><i style="top:115px;height:5px;background:linear-gradient(90deg,#f89441 0px,#f9983e 13.5px,#fdac33 27.5px,#fca934 37.5px,#f9973f 50.5px,#f89441 66.5px,#f99a3e 75.5px,#fdab33 87.5px,#fdab33 97.5px,#f89540 113.5px,#f89540 132.5px,#fa9e3b 140.5px,#fdab33 149.5px,#fdab33 159.5px,#f9973f 173.5px,#f89441 183px)"></i><i style="top:120px;height:1px;background:linear-gradient(90deg,#f89441 0px,#f9983e 13.5px,#fdab33 26.5px,#fdab33 35.5px,#f9973f 50.5px,#f89441 67.5px,#fa9b3d 76.5px,#fdab33 87.5px,#fdab33 97.5px,#f89540 113.5px,#f89540 132.5px,#fa9e3b 140.5px,#fdab33 149.5px,#fdab33 159.5px,#f9973f 173.5px,#f89441 183px)"></i><i style="top:121px;height:1px;background:linear-gradient(90deg,#ef7e50 0px,#f1814d 12.5px,#fa9e3b 28.5px,#fa9e3b 34.5px,#f68d45 43.5px,#f1814d 49.5px,#ef7e50 65.5px,#f2844b 76.5px,#fa9b3d 87.5px,#fb9f3a 93.5px,#f9973f 100.5px,#f1814d 111.5px,#ef7e50 125.5px,#f1834c 136.5px,#fa9b3d 148.5px,#fb9f3a 154.5px,#f89441 162.5px,#f1834c 171.5px,#ef7e50 183px)"></i><i style="top:122px;height:5px;background:linear-gradient(90deg,#ef7e50 0px,#f1814d 12.5px,#f68d45 19.5px,#fa9c3c 27.5px,#fb9f3a 32.5px,#f89441 40.5px,#f1814d 49.5px,#ef7e50 63.5px,#f1834c 75.5px,#fa9b3d 88.5px,#fb9f3a 93.5px,#f9973f 100.5px,#f1814d 111.5px,#ef7e50 125.5px,#f2844b 137.5px,#f99a3e 147.5px,#fb9f3a 153.5px,#f9983e 160.5px,#f1834c 171.5px,#ef7e50 183px)"></i><i style="top:127px;height:1px;background:linear-gradient(90deg,#ef7e50 0px,#f1814d 12.5px,#fa9e3b 28.5px,#fa9e3b 34.5px,#f68d45 43.5px,#f1814d 49.5px,#ef7e50 65.5px,#f2844b 76.5px,#f99a3e 87.5px,#fb9f3a 93.5px,#f9973f 100.5px,#f1814d 111.5px,#ef7e50 125.5px,#f1834c 136.5px,#fa9b3d 148.5px,#fb9f3a 154.5px,#f89441 162.5px,#f1834c 171.5px,#ef7e50 183px)"></i><i style="top:128px;height:1px;background:linear-gradient(90deg,#f79342 0px,#f89540 11.5px,#fca934 26.5px,#fca934 35.5px,#f89441 51.5px,#f89441 71.5px,#fca934 87.5px,#fca934 97.5px,#f89441 113.5px,#f89441 133.5px,#fca934 149.5px,#fca934 158.5px,#f89540 173.5px,#f79342 183px)"></i><i style="top:129px;height:6px;background:linear-gradient(90deg,#f79342 0px,#f89540 11.5px,#fca934 26.5px,#fca934 35.5px,#f89540 50.5px,#f79342 67.5px,#f99a3e 76.5px,#fca934 87.5px,#fca934 97.5px,#f89441 113.5px,#f89441 132.5px,#fa9e3b 141.5px,#fca934 149.5px,#fca934 159.5px,#f89540 173.5px,#f79342 183px)"></i><i style="top:135px;height:1px;background:linear-gradient(90deg,#f79342 0px,#f89540 11.5px,#fca934 26.5px,#fca934 35.5px,#f89441 51.5px,#f89441 71.5px,#fca934 87.5px,#fca934 97.5px,#f89441 113.5px,#f89441 133.5px,#fca934 149.5px,#fca934 158.5px,#f89540 173.5px,#f79342 183px)"></i><i style="top:136px;height:1px;background:linear-gradient(90deg,#eb7655 0px,#ed7953 11.5px,#f3854b 19.5px,#f89540 27.5px,#f9983e 32.5px,#f79342 37.5px,#ed7a52 49.5px,#eb7655 59.5px,#ed7953 73.5px,#f3874a 81.5px,#f9973f 89.5px,#f9983e 94.5px,#f68f44 101.5px,#ef7c51 109.5px,#eb7655 117.5px,#ec7754 132.5px,#f07f4f 138.5px,#f9973f 149.5px,#f9983e 154.5px,#f68d45 162.5px,#ef7c51 170.5px,#eb7655 178.5px,#eb7655 183px)"></i><i style="top:137px;height:5px;background:linear-gradient(90deg,#eb7556 0px,#ed7a52 12.5px,#f48849 20.5px,#f9973f 28.5px,#f9983e 33.5px,#f79143 38.5px,#ee7b51 48.5px,#eb7655 58.5px,#ed7953 73.5px,#f3874a 81.5px,#f9973f 89.5px,#f9983e 95.5px,#f48948 103.5px,#ee7b51 110.5px,#eb7655 118.5px,#ed7953 134.5px,#f3854b 141.5px,#f9973f 149.5px,#f9973f 156.5px,#f48849 164.5px,#ed7a52 172.5px,#eb7655 183px)"></i><i style="top:142px;height:1px;background:linear-gradient(90deg,#eb7655 0px,#ed7953 11.5px,#f3854b 19.5px,#f89540 27.5px,#f9983e 32.5px,#f79342 37.5px,#ed7a52 49.5px,#eb7655 59.5px,#ed7953 73.5px,#f3874a 81.5px,#f9973f 89.5px,#f9983e 94.5px,#f68f44 101.5px,#ef7c51 109.5px,#eb7655 117.5px,#ec7754 132.5px,#f0804e 139.5px,#f89540 148.5px,#f9983e 153.5px,#f79143 160.5px,#ef7c51 170.5px,#eb7655 178.5px,#eb7655 183px)"></i><i style="top:143px;height:1px;background:linear-gradient(90deg,#f79044 0px,#f89441 13.5px,#fca835 27.5px,#fca537 37.5px,#f79342 50.5px,#f79044 67.5px,#f9973f 76.5px,#fca636 87.5px,#fca636 97.5px,#f79143 113.5px,#f79143 132.5px,#f99a3e 140.5px,#fca636 149.5px,#fca636 159.5px,#f79342 173.5px,#f79044 183px)"></i><i style="top:144px;height:5px;background:linear-gradient(90deg,#f79044 0px,#f89441 12.5px,#fca835 27.5px,#fca636 36.5px,#f79342 50.5px,#f79044 66.5px,#f89540 75.5px,#fca636 87.5px,#fca636 97.5px,#f79342 112.5px,#f79044 128.5px,#f9983e 139.5px,#fca835 150.5px,#fca636 159.5px,#f79342 173.5px,#f79044 183px)"></i><i style="top:149px;height:1px;background:linear-gradient(90deg,#f79044 0px,#f89441 13.5px,#fca636 26.5px,#fca636 36.5px,#f79342 50.5px,#f79044 67.5px,#f9973f 76.5px,#fca636 87.5px,#fca636 97.5px,#f79143 113.5px,#f79143 132.5px,#f99a3e 140.5px,#fca636 149.5px,#fca636 159.5px,#f79342 173.5px,#f79044 183px)"></i><i style="top:150px;height:1px;background:linear-gradient(90deg,#df6263 0px,#e26660 12.5px,#e76f5a 17.5px,#f58b47 27.5px,#f79044 32.5px,#f3854b 38.5px,#e56b5d 47.5px,#e06363 55.5px,#e16462 71.5px,#e76e5b 78.5px,#f58c46 89.5px,#f79044 94.5px,#f2844b 100.5px,#e56a5d 109.5px,#e06363 116.5px,#e16462 132.5px,#e76e5b 138.5px,#f58b47 148.5px,#f79044 153.5px,#f3854b 159.5px,#e4695e 170.5px,#e06363 178.5px,#df6263 183px)"></i><i style="top:151px;height:5px;background:linear-gradient(90deg,#df6263 0px,#e26660 12.5px,#e76f5a 17.5px,#f58b47 27.5px,#f79044 32.5px,#f3854b 38.5px,#e66c5c 46.5px,#e06363 55.5px,#e16462 71.5px,#e76e5b 78.5px,#f58c46 89.5px,#f79044 94.5px,#f2844b 100.5px,#e56a5d 109.5px,#e06363 116.5px,#e16462 132.5px,#e76e5b 138.5px,#f58b47 148.5px,#f79044 153.5px,#f3854b 159.5px,#e4695e 170.5px,#e06363 178.5px,#df6263 183px)"></i><i style="top:156px;height:1px;background:linear-gradient(90deg,#df6263 0px,#e26660 12.5px,#e76f5a 17.5px,#f58b47 27.5px,#f79044 32.5px,#f3854b 38.5px,#e56b5d 47.5px,#e06363 55.5px,#e16462 71.5px,#e76e5b 78.5px,#f58c46 89.5px,#f79044 94.5px,#f2844b 100.5px,#e56a5d 109.5px,#e06363 116.5px,#e16462 132.5px,#e76e5b 138.5px,#f58b47 148.5px,#f79044 153.5px,#f3854b 159.5px,#e4695e 170.5px,#e06363 178.5px,#df6263 183px)"></i><i style="top:157px;height:1px;background:linear-gradient(90deg,#f58c46 0px,#f79044 13.5px,#fba238 26.5px,#fba238 36.5px,#f68f44 50.5px,#f58c46 67.5px,#f79342 76.5px,#fba238 87.5px,#fba238 97.5px,#f68d45 113.5px,#f68d45 132.5px,#f89540 140.5px,#fba238 149.5px,#fba238 159.5px,#f68f44 173.5px,#f58c46 183px)"></i><i style="top:158px;height:5px;background:linear-gradient(90deg,#f58c46 0px,#f79044 12.5px,#fca338 27.5px,#fba238 36.5px,#f68f44 50.5px,#f58c46 66.5px,#f79143 75.5px,#fba238 87.5px,#fba238 97.5px,#f68f44 112.5px,#f58c46 128.5px,#f89441 139.5px,#fba238 149.5px,#fba238 159.5px,#f68f44 173.5px,#f58c46 183px)"></i><i style="top:163px;height:1px;background:linear-gradient(90deg,#f58c46 0px,#f68f44 11.5px,#fba238 26.5px,#fba238 35.5px,#f68d45 51.5px,#f68d45 71.5px,#fba238 87.5px,#fba238 97.5px,#f68d45 113.5px,#f68d45 133.5px,#fba238 149.5px,#fba238 159.5px,#f68f44 173.5px,#f58c46 183px)"></i><i style="top:164px;height:1px;background:linear-gradient(90deg,#cb4679 0px,#cf4c74 10.5px,#db5c68 16.5px,#ef7c51 24.5px,#f3874a 28.5px,#f48948 32.5px,#ee7b51 38.5px,#d7566c 47.5px,#ce4b75 52.5px,#cb4679 62.5px,#d04d73 72.5px,#da5a6a 77.5px,#ee7b51 85.5px,#f48948 91.5px,#f3874a 95.5px,#ed7953 100.5px,#d8576b 108.5px,#ce4b75 114.5px,#cb4679 123.5px,#d04d73 133.5px,#da5a6a 138.5px,#f07f4f 147.5px,#f58b47 153.5px,#f07f4f 159.5px,#de5f65 167.5px,#d24f71 172.5px,#cc4778 180.5px,#cc4778 183px)"></i><i style="top:165px;height:5px;background:linear-gradient(90deg,#cb4679 0px,#cf4c74 10.5px,#d9586a 15.5px,#f0804e 25.5px,#f48948 30.5px,#f1834c 35.5px,#e56a5d 42.5px,#d6556d 47.5px,#cd4a76 53.5px,#cb4679 64.5px,#d14e72 73.5px,#df6263 79.5px,#f1814d 87.5px,#f48948 92.5px,#f0804e 98.5px,#de5f65 106.5px,#d24f71 111.5px,#cc4778 119.5px,#cc4977 129.5px,#d35171 135.5px,#df6263 140.5px,#f07f4f 147.5px,#f48948 152.5px,#f3874a 156.5px,#eb7556 162.5px,#d8576b 169.5px,#ce4b75 175.5px,#cb4679 183px)"></i><i style="top:170px;height:1px;background:linear-gradient(90deg,#cc4778 0px,#ce4b75 9.5px,#db5c68 16.5px,#ef7e50 24.5px,#f48948 30.5px,#f48849 33.5px,#ec7754 39.5px,#d5536f 48.5px,#cc4977 56.5px,#cd4a76 69.5px,#d7566c 76.5px,#f07f4f 86.5px,#f58b47 92.5px,#f0804e 98.5px,#d45270 110.5px,#cc4977 117.5px,#cd4a76 130.5px,#d5546e 136.5px,#e56b5d 142.5px,#f2844b 149.5px,#f58b47 153.5px,#f07f4f 159.5px,#e3685f 165.5px,#d45270 171.5px,#cc4977 178.5px,#cc4778 183px)"></i><i style="top:171px;height:7px;background:#f0f921"></i></div>
<div class="hm" style="left:295px;top:210px;width:1px;height:153.9px;background:linear-gradient(180deg,rgba(184,52,138,0.92) 0%,rgba(184,52,138,0.92) 67.5%,rgba(184,52,138,0.25) 83.8%,rgba(184,52,138,0) 100%)"></div>
<div class="hm" style="left:296px;top:210px;width:1px;height:153.9px;background:linear-gradient(180deg,rgba(184,52,138,0.50) 0%,rgba(184,52,138,0.50) 67.5%,rgba(184,52,138,0.10) 83.8%,rgba(184,52,138,0) 100%)"></div>
<div class="hm" style="left:357px;top:210px;width:1px;height:153.9px;background:linear-gradient(180deg,rgba(184,52,138,1.04) 0%,rgba(184,52,138,1.04) 67.5%,rgba(184,52,138,0.25) 83.8%,rgba(184,52,138,0) 100%)"></div>
<div class="hm" style="left:358px;top:210px;width:1px;height:153.9px;background:linear-gradient(180deg,rgba(184,52,138,0.26) 0%,rgba(184,52,138,0.26) 67.5%,rgba(184,52,138,0.10) 83.8%,rgba(184,52,138,0) 100%)"></div>
<div class="hm" style="left:418px;top:210px;width:1px;height:153.9px;background:linear-gradient(180deg,rgba(184,52,138,0.86) 0%,rgba(184,52,138,0.86) 67.5%,rgba(184,52,138,0.25) 83.8%,rgba(184,52,138,0) 100%)"></div>
<div class="hm" style="left:419px;top:210px;width:1px;height:153.9px;background:linear-gradient(180deg,rgba(184,52,138,0.62) 0%,rgba(184,52,138,0.62) 67.5%,rgba(184,52,138,0.10) 83.8%,rgba(184,52,138,0) 100%)"></div>
<div class="hm" style="left:601px;top:210px;width:1px;height:153.9px;background:linear-gradient(180deg,rgba(184,52,138,0.92) 0%,rgba(184,52,138,0.92) 67.5%,rgba(184,52,138,0.25) 83.8%,rgba(184,52,138,0) 100%)"></div>
<div class="hm" style="left:602px;top:210px;width:1px;height:153.9px;background:linear-gradient(180deg,rgba(184,52,138,0.50) 0%,rgba(184,52,138,0.50) 67.5%,rgba(184,52,138,0.10) 83.8%,rgba(184,52,138,0) 100%)"></div>
<div class="hm" style="left:663px;top:210px;width:1px;height:153.9px;background:linear-gradient(180deg,rgba(184,52,138,1.04) 0%,rgba(184,52,138,1.04) 67.5%,rgba(184,52,138,0.25) 83.8%,rgba(184,52,138,0) 100%)"></div>
<div class="hm" style="left:664px;top:210px;width:1px;height:153.9px;background:linear-gradient(180deg,rgba(184,52,138,0.26) 0%,rgba(184,52,138,0.26) 67.5%,rgba(184,52,138,0.10) 83.8%,rgba(184,52,138,0) 100%)"></div>
<div class="hm" style="left:724px;top:210px;width:1px;height:153.9px;background:linear-gradient(180deg,rgba(184,52,138,0.86) 0%,rgba(184,52,138,0.86) 67.5%,rgba(184,52,138,0.25) 83.8%,rgba(184,52,138,0) 100%)"></div>
<div class="hm" style="left:725px;top:210px;width:1px;height:153.9px;background:linear-gradient(180deg,rgba(184,52,138,0.62) 0%,rgba(184,52,138,0.62) 67.5%,rgba(184,52,138,0.10) 83.8%,rgba(184,52,138,0) 100%)"></div>
<div class="hm" style="left:65.5px;top:90.5px;width:131px;height:6px;background:linear-gradient(90deg,#8f0da4 0.0%,#a11b9b 7.1%,#b12a90 14.3%,#bf3984 21.4%,#cc4778 28.6%,#d6556d 35.7%,#e16462 42.9%,#ea7457 50.0%,#f2844b 57.1%,#f89441 64.3%,#fca636 71.4%,#feba2c 78.6%,#fcce25 85.7%,#f7e425 92.9%,#f0f921 100.0%)"></div>
<div class="hm" style="left:463.5px;top:135.5px;width:6px;height:144px;background:linear-gradient(0deg,#8f0da4 0.0%,#a11b9b 7.1%,#b12a90 14.3%,#bf3984 21.4%,#cc4778 28.6%,#d6556d 35.7%,#e16462 42.9%,#ea7457 50.0%,#f2844b 57.1%,#f89441 64.3%,#fca636 71.4%,#feba2c 78.6%,#fcce25 85.7%,#f7e425 92.9%,#f0f921 100.0%)"></div>
<div class="hm" style="left:769.5px;top:135.5px;width:6px;height:144px;background:linear-gradient(0deg,#8f0da4 0.0%,#a11b9b 7.1%,#b12a90 14.3%,#bf3984 21.4%,#cc4778 28.6%,#d6556d 35.7%,#e16462 42.9%,#ea7457 50.0%,#f2844b 57.1%,#f89441 64.3%,#fca636 71.4%,#feba2c 78.6%,#fcce25 85.7%,#f7e425 92.9%,#f0f921 100.0%)"></div>
<svg class="ov" width="830" height="437" viewBox="0 0 830 437"><line x1="43.5" y1="238.5" x2="207" y2="238.5" stroke="#fff" stroke-width="1" stroke-dasharray="3.4 1.4"/><line x1="43.5" y1="265.5" x2="207" y2="265.5" stroke="#fff" stroke-width="1" stroke-dasharray="3.4 1.4"/><line x1="264.5" y1="96.5" x2="447.6" y2="96.5" stroke="#fff" stroke-width="1" stroke-dasharray="3.4 1.4"/><line x1="264.5" y1="284.5" x2="447.6" y2="284.5" stroke="#fff" stroke-width="1" stroke-dasharray="3.4 1.4"/><line x1="570.5" y1="96.5" x2="753.6" y2="96.5" stroke="#fff" stroke-width="1" stroke-dasharray="3.4 1.4"/><line x1="570.5" y1="284.5" x2="753.6" y2="284.5" stroke="#fff" stroke-width="1" stroke-dasharray="3.4 1.4"/><rect x="43.5" y="102" width="164" height="170.5" fill="none" stroke="#000" stroke-width="1"/><line x1="43.5" y1="102" x2="207.5" y2="102" stroke="#000" stroke-width="1.6"/><line x1="37.5" y1="272.5" x2="43.5" y2="272.5" stroke="#000" stroke-width="1"/><line x1="37.5" y1="204.5" x2="43.5" y2="204.5" stroke="#000" stroke-width="1"/><line x1="37.5" y1="136.5" x2="43.5" y2="136.5" stroke="#000" stroke-width="1"/><line x1="40" y1="238.5" x2="43.5" y2="238.5" stroke="#000" stroke-width="1"/><line x1="40" y1="170.5" x2="43.5" y2="170.5" stroke="#000" stroke-width="1"/><line x1="40" y1="102.5" x2="43.5" y2="102.5" stroke="#000" stroke-width="1"/><line x1="43.5" y1="272.5" x2="43.5" y2="278.5" stroke="#000" stroke-width="1.15"/><line x1="71.001" y1="272.5" x2="71.001" y2="278.5" stroke="#000" stroke-width="1.15"/><line x1="126.003" y1="272.5" x2="126.003" y2="278.5" stroke="#000" stroke-width="1.15"/><line x1="181.005" y1="272.5" x2="181.005" y2="278.5" stroke="#000" stroke-width="1.15"/><line x1="98.502" y1="272.5" x2="98.502" y2="276" stroke="#000" stroke-width="1.15"/><line x1="153.504" y1="272.5" x2="153.504" y2="276" stroke="#000" stroke-width="1.15"/><line x1="207.5" y1="272.5" x2="207.5" y2="276" stroke="#000" stroke-width="1.15"/><rect x="264.5" y="21.5" width="183.7" height="179" fill="none" stroke="#000" stroke-width="1"/><line x1="258.5" y1="200.5" x2="264.5" y2="200.5" stroke="#000" stroke-width="1"/><line x1="258.5" y1="133.5" x2="264.5" y2="133.5" stroke="#000" stroke-width="1"/><line x1="258.5" y1="58.5" x2="264.5" y2="58.5" stroke="#000" stroke-width="1"/><line x1="261" y1="170.5" x2="264.5" y2="170.5" stroke="#000" stroke-width="1"/><line x1="261" y1="96.5" x2="264.5" y2="96.5" stroke="#000" stroke-width="1"/><line x1="261" y1="21.5" x2="264.5" y2="21.5" stroke="#000" stroke-width="1"/><line x1="264.4" y1="200.5" x2="264.4" y2="206.5" stroke="#000" stroke-width="1.15"/><line x1="295.201" y1="200.5" x2="295.201" y2="206.5" stroke="#000" stroke-width="1.15"/><line x1="356.803" y1="200.5" x2="356.803" y2="206.5" stroke="#000" stroke-width="1.15"/><line x1="418.405" y1="200.5" x2="418.405" y2="206.5" stroke="#000" stroke-width="1.15"/><line x1="326.002" y1="200.5" x2="326.002" y2="204" stroke="#000" stroke-width="1.15"/><line x1="387.604" y1="200.5" x2="387.604" y2="204" stroke="#000" stroke-width="1.15"/><line x1="448.2" y1="200.5" x2="448.2" y2="204" stroke="#000" stroke-width="1.15"/><rect x="264.5" y="209.5" width="183.7" height="179" fill="none" stroke="#000" stroke-width="1"/><line x1="258.5" y1="388.5" x2="264.5" y2="388.5" stroke="#000" stroke-width="1"/><line x1="258.5" y1="321.5" x2="264.5" y2="321.5" stroke="#000" stroke-width="1"/><line x1="258.5" y1="246.5" x2="264.5" y2="246.5" stroke="#000" stroke-width="1"/><line x1="261" y1="358.5" x2="264.5" y2="358.5" stroke="#000" stroke-width="1"/><line x1="261" y1="284.5" x2="264.5" y2="284.5" stroke="#000" stroke-width="1"/><line x1="261" y1="209.5" x2="264.5" y2="209.5" stroke="#000" stroke-width="1"/><line x1="264.4" y1="388.5" x2="264.4" y2="394.5" stroke="#000" stroke-width="1.15"/><line x1="295.201" y1="388.5" x2="295.201" y2="394.5" stroke="#000" stroke-width="1.15"/><line x1="356.803" y1="388.5" x2="356.803" y2="394.5" stroke="#000" stroke-width="1.15"/><line x1="418.405" y1="388.5" x2="418.405" y2="394.5" stroke="#000" stroke-width="1.15"/><line x1="326.002" y1="388.5" x2="326.002" y2="392" stroke="#000" stroke-width="1.15"/><line x1="387.604" y1="388.5" x2="387.604" y2="392" stroke="#000" stroke-width="1.15"/><line x1="448.2" y1="388.5" x2="448.2" y2="392" stroke="#000" stroke-width="1.15"/><rect x="463.5" y="135.5" width="6" height="144" fill="none" stroke="#000" stroke-width="1"/><line x1="469.5" y1="135.5" x2="475" y2="135.5" stroke="#000" stroke-width="1"/><line x1="469.5" y1="183.5" x2="475" y2="183.5" stroke="#000" stroke-width="1"/><line x1="469.5" y1="231.5" x2="475" y2="231.5" stroke="#000" stroke-width="1"/><rect x="570.5" y="21.5" width="183.7" height="179" fill="none" stroke="#000" stroke-width="1"/><line x1="564.5" y1="200.5" x2="570.5" y2="200.5" stroke="#000" stroke-width="1"/><line x1="564.5" y1="133.5" x2="570.5" y2="133.5" stroke="#000" stroke-width="1"/><line x1="564.5" y1="58.5" x2="570.5" y2="58.5" stroke="#000" stroke-width="1"/><line x1="567" y1="170.5" x2="570.5" y2="170.5" stroke="#000" stroke-width="1"/><line x1="567" y1="96.5" x2="570.5" y2="96.5" stroke="#000" stroke-width="1"/><line x1="567" y1="21.5" x2="570.5" y2="21.5" stroke="#000" stroke-width="1"/><line x1="570.4" y1="200.5" x2="570.4" y2="206.5" stroke="#000" stroke-width="1.15"/><line x1="601.201" y1="200.5" x2="601.201" y2="206.5" stroke="#000" stroke-width="1.15"/><line x1="662.803" y1="200.5" x2="662.803" y2="206.5" stroke="#000" stroke-width="1.15"/><line x1="724.405" y1="200.5" x2="724.405" y2="206.5" stroke="#000" stroke-width="1.15"/><line x1="632.002" y1="200.5" x2="632.002" y2="204" stroke="#000" stroke-width="1.15"/><line x1="693.604" y1="200.5" x2="693.604" y2="204" stroke="#000" stroke-width="1.15"/><line x1="754.2" y1="200.5" x2="754.2" y2="204" stroke="#000" stroke-width="1.15"/><rect x="570.5" y="209.5" width="183.7" height="179" fill="none" stroke="#000" stroke-width="1"/><line x1="564.5" y1="388.5" x2="570.5" y2="388.5" stroke="#000" stroke-width="1"/><line x1="564.5" y1="321.5" x2="570.5" y2="321.5" stroke="#000" stroke-width="1"/><line x1="564.5" y1="246.5" x2="570.5" y2="246.5" stroke="#000" stroke-width="1"/><line x1="567" y1="358.5" x2="570.5" y2="358.5" stroke="#000" stroke-width="1"/><line x1="567" y1="284.5" x2="570.5" y2="284.5" stroke="#000" stroke-width="1"/><line x1="567" y1="209.5" x2="570.5" y2="209.5" stroke="#000" stroke-width="1"/><line x1="570.4" y1="388.5" x2="570.4" y2="394.5" stroke="#000" stroke-width="1.15"/><line x1="601.201" y1="388.5" x2="601.201" y2="394.5" stroke="#000" stroke-width="1.15"/><line x1="662.803" y1="388.5" x2="662.803" y2="394.5" stroke="#000" stroke-width="1.15"/><line x1="724.405" y1="388.5" x2="724.405" y2="394.5" stroke="#000" stroke-width="1.15"/><line x1="632.002" y1="388.5" x2="632.002" y2="392" stroke="#000" stroke-width="1.15"/><line x1="693.604" y1="388.5" x2="693.604" y2="392" stroke="#000" stroke-width="1.15"/><line x1="754.2" y1="388.5" x2="754.2" y2="392" stroke="#000" stroke-width="1.15"/><rect x="769.5" y="135.5" width="6" height="144" fill="none" stroke="#000" stroke-width="1"/><line x1="775.5" y1="135.5" x2="781" y2="135.5" stroke="#000" stroke-width="1"/><line x1="775.5" y1="183.5" x2="781" y2="183.5" stroke="#000" stroke-width="1"/><line x1="775.5" y1="231.5" x2="781" y2="231.5" stroke="#000" stroke-width="1"/><rect x="65.5" y="90.5" width="131" height="6" fill="none" stroke="#000" stroke-width="1"/><line x1="65.5" y1="90.5" x2="65.5" y2="84.5" stroke="#000" stroke-width="1"/><line x1="128.5" y1="90.5" x2="128.5" y2="84.5" stroke="#000" stroke-width="1"/><line x1="191.5" y1="90.5" x2="191.5" y2="84.5" stroke="#000" stroke-width="1"/><line x1="150.4" y1="238.2" x2="263.8" y2="95.9" stroke="#000" stroke-width="1.3"/><polygon points="263.8,95.9 261.83,103.025 257.294,99.4106" fill="#000"/><line x1="196.5" y1="265.2" x2="263.8" y2="284.2" stroke="#000" stroke-width="1.3"/><polygon points="263.8,284.2 256.468,285.143 258.044,279.562" fill="#000"/></svg>
<span class="t" style="left:90.3px;top:46.9px;font-size:17.1px;">Energy Gap</span>
<span class="t" style="left:61.2px;top:65.4px;font-size:17.4px;">0</span>
<span class="t" style="left:119.4px;top:65.4px;font-size:17.4px;letter-spacing:-0.7px;">10</span>
<span class="t" style="left:182.7px;top:65.4px;font-size:17.4px;letter-spacing:-0.7px;">20</span>
<span class="t ns" style="left:49.1px;top:105.6px;font-size:18.8px;letter-spacing:0.9px;">(<b>a</b>)</span>
<span class="t ns" style="left:80.5px;top:105.1px;font-size:19.5px;"><i>N</i></span>
<span class="t ns" style="left:99.7px;top:106.5px;font-size:17.4px;transform:scaleX(1.45);transform-origin:0 0;">=</span>
<span class="t ns" style="left:117.9px;top:106.4px;font-size:17.4px;letter-spacing:-0.7px;">15</span>
<span class="t" style="left:19.0px;top:127.9px;font-size:17.4px;letter-spacing:-0.7px;">20</span>
<span class="t" style="left:18.4px;top:196.3px;font-size:17.4px;letter-spacing:-0.7px;">10</span>
<span class="t" style="left:26.9px;top:264.4px;font-size:17.4px;">0</span>
<span class="t rot" style="left:9.3px;top:186.0px;font-size:18.6px;letter-spacing:2.2px;"><i>U</i>/<i>J</i></span>
<span class="t" style="left:39.1px;top:278.6px;font-size:17.4px;">0</span>
<span class="t" style="left:62.6px;top:278.6px;font-size:17.4px;letter-spacing:-0.7px;">30</span>
<span class="t" style="left:118.0px;top:278.6px;font-size:17.4px;letter-spacing:-0.7px;">90</span>
<span class="t" style="left:167.9px;top:278.6px;font-size:17.4px;letter-spacing:-0.7px;">150</span>
<span class="t" style="left:108.9px;top:297.4px;font-size:17.4px;"><i>θ</i> (°)</span>
<span class="t ns" style="left:270.9px;top:28.7px;font-size:18.8px;letter-spacing:0.9px;">(<b>c</b>)</span>
<span class="t" style="left:240.0px;top:50.5px;font-size:17.4px;letter-spacing:-0.7px;">20</span>
<span class="t" style="left:239.7px;top:124.9px;font-size:17.4px;letter-spacing:-0.7px;">10</span>
<span class="t" style="left:248.1px;top:191.9px;font-size:17.4px;">1</span>
<span class="t rot" style="left:229.7px;top:110.6px;font-size:19.5px;"><i>N</i></span>
<span class="t ns" style="left:270.9px;top:216.4px;font-size:18.8px;letter-spacing:0.9px;">(<b>e</b>)</span>
<span class="t" style="left:240.0px;top:238.4px;font-size:17.4px;letter-spacing:-0.7px;">20</span>
<span class="t" style="left:239.7px;top:312.8px;font-size:17.4px;letter-spacing:-0.7px;">10</span>
<span class="t" style="left:248.1px;top:379.8px;font-size:17.4px;">1</span>
<span class="t rot" style="left:229.7px;top:298.4px;font-size:19.5px;"><i>N</i></span>
<span class="t" style="left:259.9px;top:394.6px;font-size:17.4px;">0</span>
<span class="t" style="left:286.6px;top:394.6px;font-size:17.4px;letter-spacing:-0.7px;">30</span>
<span class="t" style="left:348.9px;top:394.6px;font-size:17.4px;letter-spacing:-0.7px;">90</span>
<span class="t" style="left:405.2px;top:394.6px;font-size:17.4px;letter-spacing:-0.7px;">150</span>
<span class="t" style="left:339.4px;top:414.4px;font-size:17.4px;"><i>θ</i> (°)</span>
<span class="t" style="left:476.5px;top:127.1px;font-size:17.4px;letter-spacing:-0.3px;">1.0</span>
<span class="t" style="left:476.3px;top:175.6px;font-size:17.4px;letter-spacing:-0.3px;">0.9</span>
<span class="t" style="left:476.3px;top:223.4px;font-size:17.4px;letter-spacing:-0.3px;">0.8</span>
<span class="t rot" style="left:511.2px;top:206.6px;font-size:17px;">Condensed Fraction</span>
<span class="t ns" style="left:576.9px;top:28.7px;font-size:18.8px;letter-spacing:0.9px;">(<b>c</b>)</span>
<span class="t" style="left:546.0px;top:50.5px;font-size:17.4px;letter-spacing:-0.7px;">20</span>
<span class="t" style="left:545.7px;top:124.9px;font-size:17.4px;letter-spacing:-0.7px;">10</span>
<span class="t" style="left:554.2px;top:191.9px;font-size:17.4px;">1</span>
<span class="t rot" style="left:535.6px;top:110.6px;font-size:19.5px;"><i>N</i></span>
<span class="t ns" style="left:576.9px;top:216.4px;font-size:18.8px;letter-spacing:0.9px;">(<b>e</b>)</span>
<span class="t" style="left:546.0px;top:238.4px;font-size:17.4px;letter-spacing:-0.7px;">20</span>
<span class="t" style="left:545.7px;top:312.8px;font-size:17.4px;letter-spacing:-0.7px;">10</span>
<span class="t" style="left:554.2px;top:379.8px;font-size:17.4px;">1</span>
<span class="t rot" style="left:535.6px;top:298.4px;font-size:19.5px;"><i>N</i></span>
<span class="t" style="left:565.9px;top:394.6px;font-size:17.4px;">0</span>
<span class="t" style="left:592.7px;top:394.6px;font-size:17.4px;letter-spacing:-0.7px;">30</span>
<span class="t" style="left:654.9px;top:394.6px;font-size:17.4px;letter-spacing:-0.7px;">90</span>
<span class="t" style="left:711.2px;top:394.6px;font-size:17.4px;letter-spacing:-0.7px;">150</span>
<span class="t" style="left:645.5px;top:414.4px;font-size:17.4px;"><i>θ</i> (°)</span>
<span class="t" style="left:782.5px;top:127.1px;font-size:17.4px;letter-spacing:-0.3px;">1.0</span>
<span class="t" style="left:782.3px;top:175.6px;font-size:17.4px;letter-spacing:-0.3px;">0.9</span>
<span class="t" style="left:782.3px;top:223.4px;font-size:17.4px;letter-spacing:-0.3px;">0.8</span>
<span class="t rot" style="left:817.2px;top:206.6px;font-size:17px;">Condensed Fraction</span>
</div></body></html>
